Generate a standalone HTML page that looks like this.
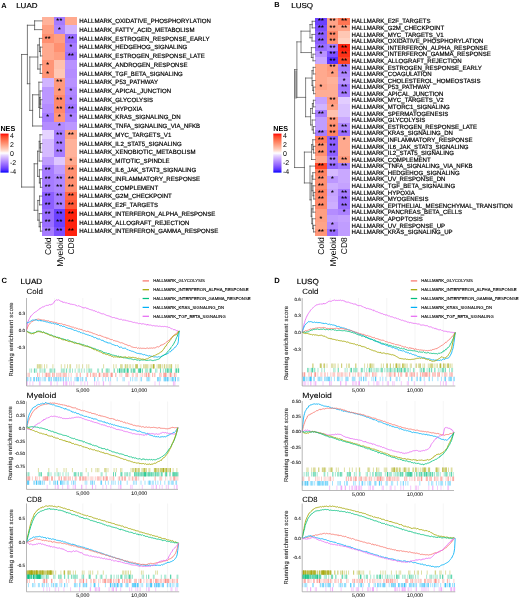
<!DOCTYPE html>
<html lang="en"><head><meta charset="utf-8"><title>GSEA hallmark heatmaps LUAD LUSQ</title>
<style>html,body{margin:0;padding:0;background:#fff}svg{display:block}</style></head>
<body><svg width="520" height="599" viewBox="0 0 520 599" text-rendering="geometricPrecision">
<rect width="520" height="599" fill="#fff"/>
<g shape-rendering="crispEdges">
<rect x="42.00" y="16.50" width="11.93" height="9.06" fill="#ffb29a"/>
<rect x="53.63" y="16.50" width="11.93" height="9.06" fill="#a67cff"/>
<rect x="65.27" y="16.50" width="11.93" height="9.06" fill="#ffa98e"/>
<rect x="42.00" y="25.26" width="11.93" height="9.06" fill="#ff9f82"/>
<rect x="53.63" y="25.26" width="11.93" height="9.06" fill="#af87ff"/>
<rect x="65.27" y="25.26" width="11.93" height="9.06" fill="#d1b4ff"/>
<rect x="42.00" y="34.02" width="11.93" height="9.06" fill="#ff9071"/>
<rect x="53.63" y="34.02" width="11.93" height="9.06" fill="#ff9f82"/>
<rect x="65.27" y="34.02" width="11.93" height="9.06" fill="#996dff"/>
<rect x="42.00" y="42.78" width="11.93" height="9.06" fill="#ffa98e"/>
<rect x="53.63" y="42.78" width="11.93" height="9.06" fill="#ff9071"/>
<rect x="65.27" y="42.78" width="11.93" height="9.06" fill="#a67cff"/>
<rect x="42.00" y="51.54" width="11.93" height="9.06" fill="#ffa98e"/>
<rect x="53.63" y="51.54" width="11.93" height="9.06" fill="#ff9f82"/>
<rect x="65.27" y="51.54" width="11.93" height="9.06" fill="#996dff"/>
<rect x="42.00" y="60.30" width="11.93" height="9.06" fill="#ff9577"/>
<rect x="53.63" y="60.30" width="11.93" height="9.06" fill="#ffc1ad"/>
<rect x="65.27" y="60.30" width="11.93" height="9.06" fill="#b892ff"/>
<rect x="42.00" y="69.06" width="11.93" height="9.06" fill="#ff9577"/>
<rect x="53.63" y="69.06" width="11.93" height="9.06" fill="#ffc7b4"/>
<rect x="65.27" y="69.06" width="11.93" height="9.06" fill="#b48cff"/>
<rect x="42.00" y="77.82" width="11.93" height="9.06" fill="#d1b4ff"/>
<rect x="53.63" y="77.82" width="11.93" height="9.06" fill="#ff9a7d"/>
<rect x="65.27" y="77.82" width="11.93" height="9.06" fill="#b892ff"/>
<rect x="42.00" y="86.58" width="11.93" height="9.06" fill="#bc97ff"/>
<rect x="53.63" y="86.58" width="11.93" height="9.06" fill="#ff9a7d"/>
<rect x="65.27" y="86.58" width="11.93" height="9.06" fill="#af87ff"/>
<rect x="42.00" y="95.34" width="11.93" height="9.06" fill="#bc97ff"/>
<rect x="53.63" y="95.34" width="11.93" height="9.06" fill="#ff896a"/>
<rect x="65.27" y="95.34" width="11.93" height="9.06" fill="#ab81ff"/>
<rect x="42.00" y="104.10" width="11.93" height="9.06" fill="#b48cff"/>
<rect x="53.63" y="104.10" width="11.93" height="9.06" fill="#ff896a"/>
<rect x="65.27" y="104.10" width="11.93" height="9.06" fill="#a075ff"/>
<rect x="42.00" y="112.86" width="11.93" height="9.06" fill="#a67cff"/>
<rect x="53.63" y="112.86" width="11.93" height="9.06" fill="#ff9577"/>
<rect x="65.27" y="112.86" width="11.93" height="9.06" fill="#ab81ff"/>
<rect x="42.00" y="121.62" width="11.93" height="9.06" fill="#b48cff"/>
<rect x="53.63" y="121.62" width="11.93" height="9.06" fill="#b48cff"/>
<rect x="65.27" y="121.62" width="11.93" height="9.06" fill="#bc97ff"/>
<rect x="42.00" y="130.38" width="11.93" height="9.06" fill="#e6d4ff"/>
<rect x="53.63" y="130.38" width="11.93" height="9.06" fill="#a67cff"/>
<rect x="65.27" y="130.38" width="11.93" height="9.06" fill="#ff9f82"/>
<rect x="42.00" y="139.14" width="11.93" height="9.06" fill="#d5baff"/>
<rect x="53.63" y="139.14" width="11.93" height="9.06" fill="#a67cff"/>
<rect x="65.27" y="139.14" width="11.93" height="9.06" fill="#ffb29a"/>
<rect x="42.00" y="147.90" width="11.93" height="9.06" fill="#d5baff"/>
<rect x="53.63" y="147.90" width="11.93" height="9.06" fill="#a67cff"/>
<rect x="65.27" y="147.90" width="11.93" height="9.06" fill="#ffb29a"/>
<rect x="42.00" y="156.66" width="11.93" height="9.06" fill="#c09dff"/>
<rect x="53.63" y="156.66" width="11.93" height="9.06" fill="#dec7ff"/>
<rect x="65.27" y="156.66" width="11.93" height="9.06" fill="#ffa98e"/>
<rect x="42.00" y="165.42" width="11.93" height="9.06" fill="#a67cff"/>
<rect x="53.63" y="165.42" width="11.93" height="9.06" fill="#c09dff"/>
<rect x="65.27" y="165.42" width="11.93" height="9.06" fill="#ff9071"/>
<rect x="42.00" y="174.18" width="11.93" height="9.06" fill="#a67cff"/>
<rect x="53.63" y="174.18" width="11.93" height="9.06" fill="#af87ff"/>
<rect x="65.27" y="174.18" width="11.93" height="9.06" fill="#ff9071"/>
<rect x="42.00" y="182.94" width="11.93" height="9.06" fill="#a67cff"/>
<rect x="53.63" y="182.94" width="11.93" height="9.06" fill="#af87ff"/>
<rect x="65.27" y="182.94" width="11.93" height="9.06" fill="#ff9071"/>
<rect x="42.00" y="191.70" width="11.93" height="9.06" fill="#8c5fff"/>
<rect x="53.63" y="191.70" width="11.93" height="9.06" fill="#a67cff"/>
<rect x="65.27" y="191.70" width="11.93" height="9.06" fill="#ff6645"/>
<rect x="42.00" y="200.46" width="11.93" height="9.06" fill="#8c5fff"/>
<rect x="53.63" y="200.46" width="11.93" height="9.06" fill="#a67cff"/>
<rect x="65.27" y="200.46" width="11.93" height="9.06" fill="#ff5737"/>
<rect x="42.00" y="209.22" width="11.93" height="9.06" fill="#996dff"/>
<rect x="53.63" y="209.22" width="11.93" height="9.06" fill="#6c42ff"/>
<rect x="65.27" y="209.22" width="11.93" height="9.06" fill="#ff230f"/>
<rect x="42.00" y="217.98" width="11.93" height="9.06" fill="#996dff"/>
<rect x="53.63" y="217.98" width="11.93" height="9.06" fill="#6c42ff"/>
<rect x="65.27" y="217.98" width="11.93" height="9.06" fill="#ff230f"/>
<rect x="42.00" y="226.74" width="11.93" height="9.06" fill="#a67cff"/>
<rect x="53.63" y="226.74" width="11.93" height="9.06" fill="#7d50ff"/>
<rect x="65.27" y="226.74" width="11.93" height="9.06" fill="#ff230f"/>
</g>
<g font-family='"Liberation Sans", sans-serif' font-weight="bold" font-size="7.0" text-anchor="middle" fill="#000" letter-spacing="0.35">
<text x="59.45" y="22.98">**</text>
<text x="59.45" y="31.74">*</text>
<text x="47.82" y="40.50">**</text>
<text x="71.08" y="40.50">**</text>
<text x="71.08" y="49.26">*</text>
<text x="71.08" y="58.02">**</text>
<text x="47.82" y="66.78">*</text>
<text x="47.82" y="75.54">*</text>
<text x="59.45" y="84.30">**</text>
<text x="59.45" y="93.06">*</text>
<text x="71.08" y="93.06">*</text>
<text x="59.45" y="101.82">**</text>
<text x="71.08" y="101.82">*</text>
<text x="59.45" y="110.58">**</text>
<text x="71.08" y="110.58">**</text>
<text x="47.82" y="119.34">*</text>
<text x="59.45" y="119.34">*</text>
<text x="71.08" y="119.34">*</text>
<text x="59.45" y="128.10">*</text>
<text x="59.45" y="136.86">**</text>
<text x="71.08" y="136.86">**</text>
<text x="59.45" y="145.62">**</text>
<text x="59.45" y="154.38">**</text>
<text x="71.08" y="163.14">*</text>
<text x="47.82" y="171.90">**</text>
<text x="71.08" y="171.90">**</text>
<text x="47.82" y="180.66">**</text>
<text x="59.45" y="180.66">**</text>
<text x="71.08" y="180.66">**</text>
<text x="47.82" y="189.42">**</text>
<text x="59.45" y="189.42">**</text>
<text x="71.08" y="189.42">**</text>
<text x="47.82" y="198.18">**</text>
<text x="59.45" y="198.18">**</text>
<text x="71.08" y="198.18">**</text>
<text x="47.82" y="206.94">**</text>
<text x="59.45" y="206.94">**</text>
<text x="71.08" y="206.94">**</text>
<text x="47.82" y="215.70">**</text>
<text x="59.45" y="215.70">**</text>
<text x="71.08" y="215.70">**</text>
<text x="47.82" y="224.46">**</text>
<text x="59.45" y="224.46">**</text>
<text x="71.08" y="224.46">**</text>
<text x="47.82" y="233.22">**</text>
<text x="59.45" y="233.22">**</text>
<text x="71.08" y="233.22">**</text>
</g>
<g font-family='"Liberation Sans", sans-serif' font-size="6.09" fill="#000" stroke="#000" stroke-width="0.18">
<text x="79.2" y="23.07">HALLMARK_OXIDATIVE_PHOSPHORYLATION</text>
<text x="79.2" y="31.83">HALLMARK_FATTY_ACID_METABOLISM</text>
<text x="79.2" y="40.59">HALLMARK_ESTROGEN_RESPONSE_EARLY</text>
<text x="79.2" y="49.35">HALLMARK_HEDGEHOG_SIGNALING</text>
<text x="79.2" y="58.11">HALLMARK_ESTROGEN_RESPONSE_LATE</text>
<text x="79.2" y="66.87">HALLMARK_ANDROGEN_RESPONSE</text>
<text x="79.2" y="75.63">HALLMARK_TGF_BETA_SIGNALING</text>
<text x="79.2" y="84.39">HALLMARK_P53_PATHWAY</text>
<text x="79.2" y="93.15">HALLMARK_APICAL_JUNCTION</text>
<text x="79.2" y="101.91">HALLMARK_GLYCOLYSIS</text>
<text x="79.2" y="110.67">HALLMARK_HYPOXIA</text>
<text x="79.2" y="119.43">HALLMARK_KRAS_SIGNALING_DN</text>
<text x="79.2" y="128.19">HALLMARK_TNFA_SIGNALING_VIA_NFKB</text>
<text x="79.2" y="136.95">HALLMARK_MYC_TARGETS_V1</text>
<text x="79.2" y="145.71">HALLMARK_IL2_STAT5_SIGNALING</text>
<text x="79.2" y="154.47">HALLMARK_XENOBIOTIC_METABOLISM</text>
<text x="79.2" y="163.23">HALLMARK_MITOTIC_SPINDLE</text>
<text x="79.2" y="171.99">HALLMARK_IL6_JAK_STAT3_SIGNALING</text>
<text x="79.2" y="180.75">HALLMARK_INFLAMMATORY_RESPONSE</text>
<text x="79.2" y="189.51">HALLMARK_COMPLEMENT</text>
<text x="79.2" y="198.27">HALLMARK_G2M_CHECKPOINT</text>
<text x="79.2" y="207.03">HALLMARK_E2F_TARGETS</text>
<text x="79.2" y="215.79">HALLMARK_INTERFERON_ALPHA_RESPONSE</text>
<text x="79.2" y="224.55">HALLMARK_ALLOGRAFT_REJECTION</text>
<text x="79.2" y="233.31">HALLMARK_INTERFERON_GAMMA_RESPONSE</text>
</g>
<g font-family='"Liberation Sans", sans-serif' font-size="8.5" fill="#000" text-anchor="end">
<text transform="translate(50.88,237.50) rotate(-90)">Cold</text>
<text transform="translate(62.51,237.50) rotate(-90)">Myeloid</text>
<text transform="translate(74.14,237.50) rotate(-90)">CD8</text>
</g>
<g shape-rendering="crispEdges">
<rect x="315.20" y="18.00" width="11.93" height="6.88" fill="#6c42ff"/>
<rect x="326.83" y="18.00" width="11.93" height="6.88" fill="#ffa488"/>
<rect x="338.47" y="18.00" width="11.93" height="6.88" fill="#ff7553"/>
<rect x="315.20" y="24.58" width="11.93" height="6.88" fill="#7d50ff"/>
<rect x="326.83" y="24.58" width="11.93" height="6.88" fill="#ff9f82"/>
<rect x="338.47" y="24.58" width="11.93" height="6.88" fill="#ffa488"/>
<rect x="315.20" y="31.16" width="11.93" height="6.88" fill="#8c5fff"/>
<rect x="326.83" y="31.16" width="11.93" height="6.88" fill="#ff896a"/>
<rect x="338.47" y="31.16" width="11.93" height="6.88" fill="#ffc7b4"/>
<rect x="315.20" y="37.75" width="11.93" height="6.88" fill="#8c5fff"/>
<rect x="326.83" y="37.75" width="11.93" height="6.88" fill="#ff9071"/>
<rect x="338.47" y="37.75" width="11.93" height="6.88" fill="#ffd1c1"/>
<rect x="315.20" y="44.33" width="11.93" height="6.88" fill="#996dff"/>
<rect x="326.83" y="44.33" width="11.93" height="6.88" fill="#a67cff"/>
<rect x="338.47" y="44.33" width="11.93" height="6.88" fill="#ff230f"/>
<rect x="315.20" y="50.91" width="11.93" height="6.88" fill="#b892ff"/>
<rect x="326.83" y="50.91" width="11.93" height="6.88" fill="#7d50ff"/>
<rect x="338.47" y="50.91" width="11.93" height="6.88" fill="#ff3118"/>
<rect x="315.20" y="57.49" width="11.93" height="6.88" fill="#c9a8ff"/>
<rect x="326.83" y="57.49" width="11.93" height="6.88" fill="#5932ff"/>
<rect x="338.47" y="57.49" width="11.93" height="6.88" fill="#ff4628"/>
<rect x="315.20" y="64.07" width="11.93" height="6.88" fill="#ffa98e"/>
<rect x="326.83" y="64.07" width="11.93" height="6.88" fill="#ff9a7d"/>
<rect x="338.47" y="64.07" width="11.93" height="6.88" fill="#a67cff"/>
<rect x="315.20" y="70.65" width="11.93" height="6.88" fill="#ffa98e"/>
<rect x="326.83" y="70.65" width="11.93" height="6.88" fill="#ff9f82"/>
<rect x="338.47" y="70.65" width="11.93" height="6.88" fill="#af87ff"/>
<rect x="315.20" y="77.24" width="11.93" height="6.88" fill="#ffa98e"/>
<rect x="326.83" y="77.24" width="11.93" height="6.88" fill="#ffb29a"/>
<rect x="338.47" y="77.24" width="11.93" height="6.88" fill="#b892ff"/>
<rect x="315.20" y="83.82" width="11.93" height="6.88" fill="#ffa488"/>
<rect x="326.83" y="83.82" width="11.93" height="6.88" fill="#ffad94"/>
<rect x="338.47" y="83.82" width="11.93" height="6.88" fill="#a075ff"/>
<rect x="315.20" y="90.40" width="11.93" height="6.88" fill="#ffad94"/>
<rect x="326.83" y="90.40" width="11.93" height="6.88" fill="#ffad94"/>
<rect x="338.47" y="90.40" width="11.93" height="6.88" fill="#a67cff"/>
<rect x="315.20" y="96.98" width="11.93" height="6.88" fill="#c5a2ff"/>
<rect x="326.83" y="96.98" width="11.93" height="6.88" fill="#ff9a7d"/>
<rect x="338.47" y="96.98" width="11.93" height="6.88" fill="#e2cdff"/>
<rect x="315.20" y="103.56" width="11.93" height="6.88" fill="#d1b4ff"/>
<rect x="326.83" y="103.56" width="11.93" height="6.88" fill="#ffa488"/>
<rect x="338.47" y="103.56" width="11.93" height="6.88" fill="#d9c1ff"/>
<rect x="315.20" y="110.15" width="11.93" height="6.88" fill="#a67cff"/>
<rect x="326.83" y="110.15" width="11.93" height="6.88" fill="#ffc1ad"/>
<rect x="338.47" y="110.15" width="11.93" height="6.88" fill="#d9c1ff"/>
<rect x="315.20" y="116.73" width="11.93" height="6.88" fill="#c09dff"/>
<rect x="326.83" y="116.73" width="11.93" height="6.88" fill="#ff9577"/>
<rect x="338.47" y="116.73" width="11.93" height="6.88" fill="#c9a8ff"/>
<rect x="315.20" y="123.31" width="11.93" height="6.88" fill="#c09dff"/>
<rect x="326.83" y="123.31" width="11.93" height="6.88" fill="#ff9071"/>
<rect x="338.47" y="123.31" width="11.93" height="6.88" fill="#af87ff"/>
<rect x="315.20" y="129.89" width="11.93" height="6.88" fill="#a67cff"/>
<rect x="326.83" y="129.89" width="11.93" height="6.88" fill="#ff8362"/>
<rect x="338.47" y="129.89" width="11.93" height="6.88" fill="#996dff"/>
<rect x="315.20" y="136.47" width="11.93" height="6.88" fill="#ff7c5b"/>
<rect x="326.83" y="136.47" width="11.93" height="6.88" fill="#8c5fff"/>
<rect x="338.47" y="136.47" width="11.93" height="6.88" fill="#ffa98e"/>
<rect x="315.20" y="143.05" width="11.93" height="6.88" fill="#ff9071"/>
<rect x="326.83" y="143.05" width="11.93" height="6.88" fill="#8c5fff"/>
<rect x="338.47" y="143.05" width="11.93" height="6.88" fill="#ffa98e"/>
<rect x="315.20" y="149.64" width="11.93" height="6.88" fill="#ff9071"/>
<rect x="326.83" y="149.64" width="11.93" height="6.88" fill="#8c5fff"/>
<rect x="338.47" y="149.64" width="11.93" height="6.88" fill="#ffa98e"/>
<rect x="315.20" y="156.22" width="11.93" height="6.88" fill="#ffa98e"/>
<rect x="326.83" y="156.22" width="11.93" height="6.88" fill="#a67cff"/>
<rect x="338.47" y="156.22" width="11.93" height="6.88" fill="#ff9a7d"/>
<rect x="315.20" y="162.80" width="11.93" height="6.88" fill="#ff4628"/>
<rect x="326.83" y="162.80" width="11.93" height="6.88" fill="#9366ff"/>
<rect x="338.47" y="162.80" width="11.93" height="6.88" fill="#a67cff"/>
<rect x="315.20" y="169.38" width="11.93" height="6.88" fill="#ff8362"/>
<rect x="326.83" y="169.38" width="11.93" height="6.88" fill="#d5baff"/>
<rect x="338.47" y="169.38" width="11.93" height="6.88" fill="#c9a8ff"/>
<rect x="315.20" y="175.96" width="11.93" height="6.88" fill="#ff9071"/>
<rect x="326.83" y="175.96" width="11.93" height="6.88" fill="#bc97ff"/>
<rect x="338.47" y="175.96" width="11.93" height="6.88" fill="#c9a8ff"/>
<rect x="315.20" y="182.55" width="11.93" height="6.88" fill="#ff9071"/>
<rect x="326.83" y="182.55" width="11.93" height="6.88" fill="#cdaeff"/>
<rect x="338.47" y="182.55" width="11.93" height="6.88" fill="#c5a2ff"/>
<rect x="315.20" y="189.13" width="11.93" height="6.88" fill="#ff8362"/>
<rect x="326.83" y="189.13" width="11.93" height="6.88" fill="#c5a2ff"/>
<rect x="338.47" y="189.13" width="11.93" height="6.88" fill="#a67cff"/>
<rect x="315.20" y="195.71" width="11.93" height="6.88" fill="#ff896a"/>
<rect x="326.83" y="195.71" width="11.93" height="6.88" fill="#c9a8ff"/>
<rect x="338.47" y="195.71" width="11.93" height="6.88" fill="#996dff"/>
<rect x="315.20" y="202.29" width="11.93" height="6.88" fill="#ff896a"/>
<rect x="326.83" y="202.29" width="11.93" height="6.88" fill="#cdaeff"/>
<rect x="338.47" y="202.29" width="11.93" height="6.88" fill="#996dff"/>
<rect x="315.20" y="208.87" width="11.93" height="6.88" fill="#ff9f82"/>
<rect x="326.83" y="208.87" width="11.93" height="6.88" fill="#b48cff"/>
<rect x="338.47" y="208.87" width="11.93" height="6.88" fill="#ab81ff"/>
<rect x="315.20" y="215.45" width="11.93" height="6.88" fill="#ff9f82"/>
<rect x="326.83" y="215.45" width="11.93" height="6.88" fill="#c09dff"/>
<rect x="338.47" y="215.45" width="11.93" height="6.88" fill="#c5a2ff"/>
<rect x="315.20" y="222.04" width="11.93" height="6.88" fill="#ffa488"/>
<rect x="326.83" y="222.04" width="11.93" height="6.88" fill="#b48cff"/>
<rect x="338.47" y="222.04" width="11.93" height="6.88" fill="#c09dff"/>
<rect x="315.20" y="228.62" width="11.93" height="6.88" fill="#ff9577"/>
<rect x="326.83" y="228.62" width="11.93" height="6.88" fill="#996dff"/>
<rect x="338.47" y="228.62" width="11.93" height="6.88" fill="#c09dff"/>
</g>
<g font-family='"Liberation Sans", sans-serif' font-weight="bold" font-size="7.0" text-anchor="middle" fill="#000" letter-spacing="0.35">
<text x="321.02" y="23.39">**</text>
<text x="332.65" y="23.39">**</text>
<text x="344.28" y="23.39">**</text>
<text x="321.02" y="29.97">**</text>
<text x="332.65" y="29.97">**</text>
<text x="344.28" y="29.97">**</text>
<text x="321.02" y="36.55">**</text>
<text x="332.65" y="36.55">**</text>
<text x="321.02" y="43.14">**</text>
<text x="332.65" y="43.14">**</text>
<text x="321.02" y="49.72">**</text>
<text x="332.65" y="49.72">**</text>
<text x="344.28" y="49.72">**</text>
<text x="321.02" y="56.30">*</text>
<text x="332.65" y="56.30">**</text>
<text x="344.28" y="56.30">**</text>
<text x="332.65" y="62.88">**</text>
<text x="344.28" y="62.88">**</text>
<text x="332.65" y="69.46">**</text>
<text x="344.28" y="69.46">**</text>
<text x="332.65" y="76.05">*</text>
<text x="344.28" y="76.05">**</text>
<text x="344.28" y="82.63">*</text>
<text x="321.02" y="89.21">*</text>
<text x="344.28" y="89.21">**</text>
<text x="344.28" y="95.79">**</text>
<text x="332.65" y="102.37">**</text>
<text x="332.65" y="108.95">*</text>
<text x="321.02" y="115.54">**</text>
<text x="332.65" y="122.12">**</text>
<text x="332.65" y="128.70">**</text>
<text x="344.28" y="128.70">**</text>
<text x="321.02" y="135.28">**</text>
<text x="332.65" y="135.28">**</text>
<text x="344.28" y="135.28">**</text>
<text x="321.02" y="141.86">**</text>
<text x="332.65" y="141.86">**</text>
<text x="344.28" y="141.86">*</text>
<text x="321.02" y="148.45">**</text>
<text x="332.65" y="148.45">**</text>
<text x="321.02" y="155.03">**</text>
<text x="332.65" y="155.03">**</text>
<text x="332.65" y="161.61">**</text>
<text x="344.28" y="161.61">**</text>
<text x="321.02" y="168.19">**</text>
<text x="332.65" y="168.19">**</text>
<text x="344.28" y="168.19">**</text>
<text x="321.02" y="174.77">**</text>
<text x="321.02" y="181.35">**</text>
<text x="332.65" y="181.35">*</text>
<text x="321.02" y="187.94">**</text>
<text x="321.02" y="194.52">**</text>
<text x="332.65" y="194.52">*</text>
<text x="344.28" y="194.52">**</text>
<text x="321.02" y="201.10">**</text>
<text x="344.28" y="201.10">**</text>
<text x="321.02" y="207.68">**</text>
<text x="344.28" y="207.68">**</text>
<text x="344.28" y="214.26">*</text>
<text x="321.02" y="220.85">*</text>
<text x="332.65" y="227.43">*</text>
<text x="321.02" y="234.01">**</text>
<text x="332.65" y="234.01">**</text>
</g>
<g font-family='"Liberation Sans", sans-serif' font-size="6.09" fill="#000" stroke="#000" stroke-width="0.18">
<text x="351.6" y="23.48">HALLMARK_E2F_TARGETS</text>
<text x="351.6" y="30.07">HALLMARK_G2M_CHECKPOINT</text>
<text x="351.6" y="36.65">HALLMARK_MYC_TARGETS_V1</text>
<text x="351.6" y="43.23">HALLMARK_OXIDATIVE_PHOSPHORYLATION</text>
<text x="351.6" y="49.81">HALLMARK_INTERFERON_ALPHA_RESPONSE</text>
<text x="351.6" y="56.39">HALLMARK_INTERFERON_GAMMA_RESPONSE</text>
<text x="351.6" y="62.97">HALLMARK_ALLOGRAFT_REJECTION</text>
<text x="351.6" y="69.56">HALLMARK_ESTROGEN_RESPONSE_EARLY</text>
<text x="351.6" y="76.14">HALLMARK_COAGULATION</text>
<text x="351.6" y="82.72">HALLMARK_CHOLESTEROL_HOMEOSTASIS</text>
<text x="351.6" y="89.30">HALLMARK_P53_PATHWAY</text>
<text x="351.6" y="95.88">HALLMARK_APICAL_JUNCTION</text>
<text x="351.6" y="102.47">HALLMARK_MYC_TARGETS_V2</text>
<text x="351.6" y="109.05">HALLMARK_MTORC1_SIGNALING</text>
<text x="351.6" y="115.63">HALLMARK_SPERMATOGENESIS</text>
<text x="351.6" y="122.21">HALLMARK_GLYCOLYSIS</text>
<text x="351.6" y="128.79">HALLMARK_ESTROGEN_RESPONSE_LATE</text>
<text x="351.6" y="135.37">HALLMARK_KRAS_SIGNALING_DN</text>
<text x="351.6" y="141.96">HALLMARK_INFLAMMATORY_RESPONSE</text>
<text x="351.6" y="148.54">HALLMARK_IL6_JAK_STAT3_SIGNALING</text>
<text x="351.6" y="155.12">HALLMARK_IL2_STAT5_SIGNALING</text>
<text x="351.6" y="161.70">HALLMARK_COMPLEMENT</text>
<text x="351.6" y="168.28">HALLMARK_TNFA_SIGNALING_VIA_NFKB</text>
<text x="351.6" y="174.87">HALLMARK_HEDGEHOG_SIGNALING</text>
<text x="351.6" y="181.45">HALLMARK_UV_RESPONSE_DN</text>
<text x="351.6" y="188.03">HALLMARK_TGF_BETA_SIGNALING</text>
<text x="351.6" y="194.61">HALLMARK_HYPOXIA</text>
<text x="351.6" y="201.19">HALLMARK_MYOGENESIS</text>
<text x="351.6" y="207.77">HALLMARK_EPITHELIAL_MESENCHYMAL_TRANSITION</text>
<text x="351.6" y="214.36">HALLMARK_PANCREAS_BETA_CELLS</text>
<text x="351.6" y="220.94">HALLMARK_APOPTOSIS</text>
<text x="351.6" y="227.52">HALLMARK_UV_RESPONSE_UP</text>
<text x="351.6" y="234.10">HALLMARK_KRAS_SIGNALING_UP</text>
</g>
<g font-family='"Liberation Sans", sans-serif' font-size="8.5" fill="#000" text-anchor="end">
<text transform="translate(324.08,237.20) rotate(-90)">Cold</text>
<text transform="translate(335.71,237.20) rotate(-90)">Myeloid</text>
<text transform="translate(347.34,237.20) rotate(-90)">CD8</text>
</g>
<path d="M34.60 20.88L42.00 20.88M34.60 29.64L42.00 29.64M34.60 20.88L34.60 29.64M40.40 47.16L42.00 47.16M40.40 55.92L42.00 55.92M40.40 47.16L40.40 55.92M39.40 38.40L42.00 38.40M39.40 51.54L40.40 51.54M39.40 38.40L39.40 51.54M40.20 64.68L42.00 64.68M40.20 73.44L42.00 73.44M40.20 64.68L40.20 73.44M37.80 44.97L39.40 44.97M37.80 69.06L40.20 69.06M37.80 44.97L37.80 69.06M40.70 99.72L42.00 99.72M40.70 108.48L42.00 108.48M40.70 99.72L40.70 108.48M40.10 90.96L42.00 90.96M40.10 104.10L40.70 104.10M40.10 90.96L40.10 104.10M39.60 97.53L40.10 97.53M39.60 117.24L42.00 117.24M39.60 97.53L39.60 117.24M38.90 82.20L42.00 82.20M38.90 107.38L39.60 107.38M38.90 82.20L38.90 107.38M32.60 94.79L38.90 94.79M32.60 126.00L42.00 126.00M32.60 94.79L32.60 126.00M29.80 57.02L37.80 57.02M29.80 110.40L32.60 110.40M29.80 57.02L29.80 110.40M27.40 25.26L34.60 25.26M27.40 83.71L29.80 83.71M27.40 25.26L27.40 83.71M40.60 143.52L42.00 143.52M40.60 152.28L42.00 152.28M40.60 143.52L40.60 152.28M40.00 134.76L42.00 134.76M40.00 147.90L40.60 147.90M40.00 134.76L40.00 147.90M39.20 141.33L40.00 141.33M39.20 161.04L42.00 161.04M39.20 141.33L39.20 161.04M40.40 178.56L42.00 178.56M40.40 187.32L42.00 187.32M40.40 178.56L40.40 187.32M39.40 169.80L42.00 169.80M39.40 182.94L40.40 182.94M39.40 169.80L39.40 182.94M37.60 151.19L39.20 151.19M37.60 176.37L39.40 176.37M37.60 151.19L37.60 176.37M39.60 196.08L42.00 196.08M39.60 204.84L42.00 204.84M39.60 196.08L39.60 204.84M40.40 222.36L42.00 222.36M40.40 231.12L42.00 231.12M40.40 222.36L40.40 231.12M39.20 213.60L42.00 213.60M39.20 226.74L40.40 226.74M39.20 213.60L39.20 226.74M37.80 200.46L39.60 200.46M37.80 220.17L39.20 220.17M37.80 200.46L37.80 220.17M34.20 163.78L37.60 163.78M34.20 210.31L37.80 210.31M34.20 163.78L34.20 210.31M21.60 54.48L27.40 54.48M21.60 187.05L34.20 187.05M21.60 54.48L21.60 187.05" stroke="#444" stroke-width="0.7" fill="none" stroke-linecap="square"/>
<rect x="294.4" y="70.6" width="2.7" height="28" fill="#b0b0b0"/>
<path d="M312.20 21.29L315.20 21.29M312.20 27.87L315.20 27.87M312.20 21.29L312.20 27.87M312.00 34.45L315.20 34.45M312.00 41.04L315.20 41.04M312.00 34.45L312.00 41.04M310.00 24.58L312.20 24.58M310.00 37.75L312.00 37.75M310.00 24.58L310.00 37.75M313.00 54.20L315.20 54.20M313.00 60.78L315.20 60.78M313.00 54.20L313.00 60.78M311.40 47.62L315.20 47.62M311.40 57.49L313.00 57.49M311.40 47.62L311.40 57.49M301.00 31.16L310.00 31.16M301.00 52.55L311.40 52.55M301.00 31.16L301.00 52.55M313.20 67.36L315.20 67.36M313.20 73.95L315.20 73.95M313.20 67.36L313.20 73.95M313.60 87.11L315.20 87.11M313.60 93.69L315.20 93.69M313.60 87.11L313.60 93.69M312.80 80.53L315.20 80.53M312.80 90.40L313.60 90.40M312.80 80.53L312.80 90.40M312.00 70.65L313.20 70.65M312.00 85.46L312.80 85.46M312.00 70.65L312.00 85.46M313.40 100.27L315.20 100.27M313.40 106.85L315.20 106.85M313.40 100.27L313.40 106.85M312.40 103.56L313.40 103.56M312.40 113.44L315.20 113.44M312.40 103.56L312.40 113.44M313.40 126.60L315.20 126.60M313.40 133.18L315.20 133.18M313.40 126.60L313.40 133.18M312.20 120.02L315.20 120.02M312.20 129.89L313.40 129.89M312.20 120.02L312.20 129.89M310.60 108.50L312.40 108.50M310.60 124.95L312.20 124.95M310.60 108.50L310.60 124.95M305.60 78.06L312.00 78.06M305.60 116.73L310.60 116.73M305.60 78.06L305.60 116.73M296.90 41.86L301.00 41.86M296.90 97.39L305.60 97.39M296.90 41.86L296.90 97.39M313.60 146.35L315.20 146.35M313.60 152.93L315.20 152.93M313.60 146.35L313.60 152.93M312.80 139.76L315.20 139.76M312.80 149.64L313.60 149.64M312.80 139.76L312.80 149.64M311.60 144.70L312.80 144.70M311.60 159.51L315.20 159.51M311.60 144.70L311.60 159.51M312.80 172.67L315.20 172.67M312.80 179.25L315.20 179.25M312.80 172.67L312.80 179.25M313.80 192.42L315.20 192.42M313.80 199.00L315.20 199.00M313.80 192.42L313.80 199.00M313.00 185.84L315.20 185.84M313.00 195.71L313.80 195.71M313.00 185.84L313.00 195.71M312.00 175.96L312.80 175.96M312.00 190.77L313.00 190.77M312.00 175.96L312.00 190.77M313.00 205.58L315.20 205.58M313.00 212.16L315.20 212.16M313.00 205.58L313.00 212.16M313.60 225.33L315.20 225.33M313.60 231.91L315.20 231.91M313.60 225.33L313.60 231.91M312.60 218.75L315.20 218.75M312.60 228.62L313.60 228.62M312.60 218.75L312.60 228.62M311.80 208.87L313.00 208.87M311.80 223.68L312.60 223.68M311.80 208.87L311.80 223.68M311.20 183.37L312.00 183.37M311.20 216.28L311.80 216.28M311.20 183.37L311.20 216.28M310.00 166.09L315.20 166.09M310.00 199.82L311.20 199.82M310.00 166.09L310.00 199.82M304.40 152.10L311.60 152.10M304.40 182.96L310.00 182.96M304.40 152.10L304.40 182.96M294.60 69.63L296.90 69.63M294.60 167.53L304.40 167.53M294.60 69.63L294.60 167.53" stroke="#444" stroke-width="0.65" fill="none" stroke-linecap="square"/>
<defs><linearGradient id="g0" x1="0" y1="0" x2="0" y2="1"><stop offset="0.0000" stop-color="#ff0000"/><stop offset="0.0625" stop-color="#ff3f23"/><stop offset="0.1250" stop-color="#ff5e3d"/><stop offset="0.1875" stop-color="#ff7857"/><stop offset="0.2500" stop-color="#ff9071"/><stop offset="0.3125" stop-color="#ffa98e"/><stop offset="0.3750" stop-color="#ffc1ad"/><stop offset="0.4375" stop-color="#ffdcd0"/><stop offset="0.5000" stop-color="#ffffff"/><stop offset="0.5625" stop-color="#e6d4ff"/><stop offset="0.6250" stop-color="#d1b4ff"/><stop offset="0.6875" stop-color="#bc97ff"/><stop offset="0.7500" stop-color="#a67cff"/><stop offset="0.8125" stop-color="#8f62ff"/><stop offset="0.8750" stop-color="#7448ff"/><stop offset="0.9375" stop-color="#512cff"/><stop offset="1.0000" stop-color="#0000ff"/></linearGradient></defs>
<rect x="0.4" y="133.6" width="8.2" height="39.0" fill="url(#g0)"/>
<text x="0.4" y="131.4" font-family='"Liberation Sans", sans-serif' font-weight="bold" font-size="7.2" fill="#000">NES</text>
<g font-family='"Liberation Sans", sans-serif' font-size="7" fill="#000">
<text x="10.0" y="137.90">4</text>
<text x="10.0" y="147.00">2</text>
<text x="10.0" y="156.10">0</text>
<text x="10.0" y="165.20">-2</text>
<text x="10.0" y="174.30">-4</text>
</g>
<defs><linearGradient id="g273" x1="0" y1="0" x2="0" y2="1"><stop offset="0.0000" stop-color="#ff0000"/><stop offset="0.0625" stop-color="#ff3f23"/><stop offset="0.1250" stop-color="#ff5e3d"/><stop offset="0.1875" stop-color="#ff7857"/><stop offset="0.2500" stop-color="#ff9071"/><stop offset="0.3125" stop-color="#ffa98e"/><stop offset="0.3750" stop-color="#ffc1ad"/><stop offset="0.4375" stop-color="#ffdcd0"/><stop offset="0.5000" stop-color="#ffffff"/><stop offset="0.5625" stop-color="#e6d4ff"/><stop offset="0.6250" stop-color="#d1b4ff"/><stop offset="0.6875" stop-color="#bc97ff"/><stop offset="0.7500" stop-color="#a67cff"/><stop offset="0.8125" stop-color="#8f62ff"/><stop offset="0.8750" stop-color="#7448ff"/><stop offset="0.9375" stop-color="#512cff"/><stop offset="1.0000" stop-color="#0000ff"/></linearGradient></defs>
<rect x="273.3" y="133.6" width="8.2" height="39.0" fill="url(#g273)"/>
<text x="273.3" y="131.4" font-family='"Liberation Sans", sans-serif' font-weight="bold" font-size="7.2" fill="#000">NES</text>
<g font-family='"Liberation Sans", sans-serif' font-size="7" fill="#000">
<text x="283.0" y="137.90">4</text>
<text x="283.0" y="147.00">2</text>
<text x="283.0" y="156.10">0</text>
<text x="283.0" y="165.20">-2</text>
<text x="283.0" y="174.30">-4</text>
</g>
<text x="1.2" y="7.6" font-family='"Liberation Sans", sans-serif' font-size="7.4" font-weight="bold" fill="#000" text-anchor="start">A</text>
<text x="16.2" y="7.6" font-family='"Liberation Sans", sans-serif' font-size="7.2" fill="#000" text-anchor="start" textLength="21.3" lengthAdjust="spacingAndGlyphs" stroke="#000" stroke-width="0.18">LUAD</text>
<text x="274.2" y="7.3" font-family='"Liberation Sans", sans-serif' font-size="7.4" font-weight="bold" fill="#000" text-anchor="start">B</text>
<text x="291.2" y="7.6" font-family='"Liberation Sans", sans-serif' font-size="7.2" fill="#000" text-anchor="start" textLength="21.8" lengthAdjust="spacingAndGlyphs" stroke="#000" stroke-width="0.18">LUSQ</text>
<text x="1.4" y="282.6" font-family='"Liberation Sans", sans-serif' font-size="7.6" font-weight="bold" fill="#000" text-anchor="start">C</text>
<text x="20.6" y="284.3" font-family='"Liberation Sans", sans-serif' font-size="7.7" fill="#000" text-anchor="start" textLength="21.6" lengthAdjust="spacingAndGlyphs" stroke="#000" stroke-width="0.18">LUAD</text>
<text x="274.2" y="283.0" font-family='"Liberation Sans", sans-serif' font-size="7.6" font-weight="bold" fill="#000" text-anchor="start">D</text>
<text x="296.7" y="284.2" font-family='"Liberation Sans", sans-serif' font-size="7.4" fill="#000" text-anchor="start" textLength="22" lengthAdjust="spacingAndGlyphs" stroke="#000" stroke-width="0.18">LUSQ</text>
<path d="M54.55 298V386M82.80 298V386M111.05 298V386M139.30 298V386M167.55 298V386" stroke="#ebebeb" stroke-width="0.5" fill="none"/>
<polyline points="26.5,330.9 27.1,326.4 27.7,322.9 28.3,321.0 28.9,319.6 29.5,318.5 30.1,317.5 30.7,316.0 31.3,315.8 31.9,315.4 32.5,314.4 33.1,313.7 33.7,313.3 34.3,312.6 34.9,312.5 35.5,311.8 36.1,311.8 36.7,311.1 37.3,310.4 37.9,310.3 38.5,309.9 39.1,309.2 39.7,308.8 40.3,308.0 40.9,308.4 41.5,307.7 42.1,307.0 42.7,306.8 43.3,306.9 43.9,306.8 44.5,306.3 45.1,306.2 45.7,305.6 46.3,305.3 46.9,305.6 47.5,305.4 48.1,305.1 48.7,305.3 49.3,304.6 49.9,304.6 50.5,304.8 51.1,304.8 51.7,304.1 52.3,304.3 52.9,303.4 53.5,303.1 54.1,302.2 54.7,301.0 55.3,300.7 55.9,300.3 56.5,299.8 57.1,299.8 57.7,300.3 58.3,299.8 58.9,299.9 59.5,300.4 60.1,300.5 60.7,301.4 61.3,301.4 61.9,301.4 62.5,301.6 63.1,302.7 63.7,302.0 64.3,302.1 64.9,302.6 65.5,302.8 66.1,302.9 66.7,302.8 67.3,302.9 67.9,303.5 68.5,303.5 69.1,303.2 69.7,304.1 70.3,304.2 70.9,304.1 71.5,304.2 72.1,304.5 72.7,304.4 73.3,304.4 73.9,305.0 74.5,304.7 75.1,305.3 75.7,305.0 76.3,305.5 76.9,305.6 77.5,306.3 78.1,305.7 78.7,305.8 79.3,306.1 79.9,306.2 80.5,306.5 81.1,306.9 81.7,307.1 82.3,307.5 82.9,307.1 83.5,308.1 84.1,308.1 84.7,307.7 85.3,307.4 85.9,308.1 86.5,308.3 87.1,307.9 87.7,308.7 88.3,308.8 88.9,308.9 89.5,309.4 90.1,309.7 90.7,309.6 91.3,309.9 91.9,309.9 92.5,310.1 93.1,310.5 93.7,310.8 94.3,310.8 94.9,310.6 95.5,311.5 96.1,311.2 96.7,311.8 97.3,312.4 97.9,312.2 98.5,312.1 99.1,312.3 99.7,313.1 100.3,313.1 100.9,313.4 101.5,313.7 102.1,313.7 102.7,313.9 103.3,313.9 103.9,313.6 104.5,314.2 105.1,314.8 105.7,314.9 106.3,315.3 106.9,315.4 107.5,315.6 108.1,316.0 108.7,315.8 109.3,316.1 109.9,316.0 110.5,316.8 111.1,316.8 111.7,317.1 112.3,317.5 112.9,317.6 113.5,317.5 114.1,317.9 114.7,317.5 115.3,318.2 115.9,318.2 116.5,318.0 117.1,318.9 117.7,318.5 118.3,319.0 118.9,318.9 119.5,319.4 120.1,319.6 120.7,319.2 121.3,319.2 121.9,319.7 122.5,320.1 123.1,319.9 123.7,320.0 124.3,320.4 124.9,319.7 125.5,320.4 126.1,320.3 126.7,320.9 127.3,320.8 127.9,320.8 128.5,321.1 129.1,321.0 129.7,321.5 130.3,321.4 130.9,321.6 131.5,321.7 132.1,322.2 132.7,322.1 133.3,322.4 133.9,322.5 134.5,322.3 135.1,322.7 135.7,322.8 136.3,322.9 136.9,322.9 137.5,323.0 138.1,323.4 138.7,323.8 139.3,323.2 139.9,323.7 140.5,323.5 141.1,323.9 141.7,324.0 142.3,324.2 142.9,323.4 143.5,324.0 144.1,324.0 144.7,324.3 145.3,324.3 145.9,324.4 146.5,324.8 147.1,325.2 147.7,324.1 148.3,324.9 148.9,325.1 149.5,325.1 150.1,325.1 150.7,325.0 151.3,325.2 151.9,325.7 152.5,325.8 153.1,325.7 153.7,325.5 154.3,325.8 154.9,325.8 155.5,326.0 156.1,326.0 156.7,325.9 157.3,326.1 157.9,325.8 158.5,326.4 159.1,326.5 159.7,326.0 160.3,326.4 160.9,326.1 161.5,326.6 162.1,326.6 162.7,326.4 163.3,326.7 163.9,326.4 164.5,326.4 165.1,326.5 165.7,326.6 166.3,326.7 166.9,326.9 167.5,326.8 168.1,327.2 168.7,327.5 169.3,327.4 169.9,327.5 170.5,328.3 171.1,328.8 171.7,328.7 172.3,328.7 172.9,329.3 173.5,329.9 174.1,329.2 174.7,330.0 175.3,330.0 175.9,330.1 176.5,330.6 177.1,330.3 177.7,330.9 178.3,331.3 179.2,331.2" stroke="#E76BF3" stroke-width="0.85" fill="none" stroke-linejoin="round"/>
<polyline points="26.5,329.9 27.1,328.9 27.7,327.1 28.3,325.7 28.9,324.6 29.5,324.2 30.1,323.4 30.7,322.7 31.3,322.2 31.9,321.3 32.5,321.5 33.1,321.0 33.7,320.6 34.3,320.3 34.9,320.2 35.5,319.7 36.1,319.3 36.7,319.7 37.3,319.3 37.9,319.3 38.5,319.1 39.1,319.5 39.7,319.3 40.3,319.5 40.9,319.8 41.5,319.8 42.1,320.1 42.7,320.0 43.3,320.0 43.9,320.1 44.5,320.1 45.1,320.6 45.7,320.5 46.3,320.5 46.9,321.0 47.5,320.9 48.1,320.9 48.7,320.8 49.3,321.4 49.9,321.5 50.5,321.6 51.1,321.6 51.7,321.6 52.3,321.9 52.9,322.1 53.5,322.2 54.1,322.3 54.7,322.3 55.3,322.7 55.9,322.8 56.5,322.7 57.1,323.2 57.7,323.3 58.3,323.5 58.9,323.4 59.5,323.5 60.1,323.4 60.7,324.0 61.3,323.5 61.9,324.1 62.5,324.2 63.1,324.7 63.7,324.6 64.3,324.5 64.9,324.6 65.5,324.9 66.1,325.3 66.7,325.4 67.3,325.5 67.9,325.6 68.5,325.9 69.1,326.3 69.7,326.0 70.3,326.4 70.9,327.0 71.5,326.9 72.1,326.8 72.7,327.3 73.3,327.1 73.9,327.5 74.5,328.0 75.1,328.3 75.7,327.6 76.3,328.3 76.9,328.8 77.5,328.4 78.1,328.8 78.7,329.3 79.3,328.9 79.9,329.4 80.5,329.4 81.1,329.1 81.7,329.9 82.3,329.9 82.9,330.4 83.5,330.8 84.1,330.7 84.7,330.6 85.3,331.0 85.9,331.1 86.5,331.5 87.1,331.0 87.7,331.3 88.3,331.3 88.9,332.1 89.5,332.1 90.1,332.2 90.7,332.3 91.3,332.6 91.9,332.7 92.5,333.0 93.1,333.2 93.7,333.9 94.3,333.8 94.9,333.7 95.5,334.0 96.1,334.6 96.7,334.6 97.3,334.8 97.9,335.1 98.5,335.5 99.1,335.0 99.7,335.4 100.3,335.3 100.9,336.1 101.5,336.1 102.1,336.2 102.7,336.4 103.3,337.0 103.9,337.0 104.5,337.1 105.1,337.7 105.7,337.3 106.3,337.5 106.9,338.7 107.5,338.1 108.1,338.3 108.7,338.4 109.3,338.8 109.9,339.2 110.5,339.4 111.1,339.6 111.7,339.6 112.3,339.5 112.9,340.1 113.5,340.6 114.1,340.7 114.7,340.6 115.3,341.0 115.9,340.9 116.5,341.2 117.1,341.1 117.7,341.5 118.3,341.8 118.9,341.9 119.5,342.3 120.1,342.8 120.7,342.9 121.3,342.7 121.9,342.8 122.5,343.0 123.1,343.2 123.7,343.6 124.3,344.0 124.9,344.1 125.5,344.4 126.1,344.6 126.7,344.7 127.3,344.8 127.9,345.7 128.5,345.7 129.1,345.4 129.7,345.6 130.3,345.9 130.9,346.3 131.5,346.8 132.1,346.9 132.7,347.1 133.3,347.3 133.9,347.5 134.5,347.5 135.1,347.6 135.7,347.6 136.3,347.3 136.9,347.8 137.5,348.4 138.1,347.9 138.7,347.9 139.3,348.4 139.9,348.2 140.5,348.1 141.1,348.6 141.7,348.3 142.3,348.4 142.9,348.1 143.5,348.3 144.1,348.3 144.7,348.4 145.3,348.5 145.9,348.5 146.5,348.2 147.1,348.4 147.7,347.9 148.3,348.4 148.9,348.4 149.5,348.1 150.1,348.0 150.7,348.2 151.3,347.9 151.9,348.2 152.5,348.2 153.1,347.8 153.7,347.9 154.3,348.0 154.9,347.9 155.5,347.7 156.1,347.2 156.7,347.0 157.3,346.7 157.9,346.8 158.5,347.0 159.1,346.5 159.7,346.3 160.3,345.9 160.9,344.9 161.5,345.0 162.1,344.6 162.7,344.8 163.3,344.6 163.9,343.7 164.5,343.6 165.1,343.4 165.7,342.7 166.3,342.2 166.9,341.7 167.5,341.6 168.1,340.6 168.7,340.6 169.3,339.8 169.9,339.4 170.5,339.0 171.1,337.9 171.7,337.3 172.3,337.1 172.9,336.1 173.5,335.7 174.1,335.3 174.7,334.9 175.3,334.0 175.9,333.7 176.5,333.4 177.1,333.1 177.7,331.7 178.3,332.0 179.2,330.9" stroke="#F8766D" stroke-width="0.85" fill="none" stroke-linejoin="round"/>
<polyline points="26.5,323.3 27.1,323.2 27.7,322.3 28.3,322.6 28.9,322.0 29.5,321.9 30.1,321.6 30.7,321.2 31.3,320.9 31.9,320.2 32.5,320.1 33.1,320.0 33.7,320.1 34.3,320.3 34.9,319.6 35.5,320.0 36.1,319.8 36.7,319.8 37.3,320.6 37.9,320.3 38.5,320.7 39.1,320.7 39.7,320.2 40.3,320.1 40.9,321.2 41.5,320.7 42.1,320.6 42.7,321.2 43.3,321.2 43.9,321.1 44.5,321.3 45.1,321.6 45.7,321.7 46.3,322.0 46.9,321.9 47.5,322.0 48.1,322.4 48.7,322.5 49.3,322.8 49.9,322.6 50.5,322.8 51.1,322.7 51.7,323.5 52.3,322.9 52.9,323.5 53.5,323.3 54.1,323.8 54.7,324.0 55.3,323.6 55.9,324.1 56.5,323.9 57.1,324.8 57.7,324.5 58.3,324.4 58.9,324.8 59.5,325.5 60.1,325.7 60.7,325.8 61.3,325.5 61.9,325.8 62.5,326.5 63.1,326.1 63.7,326.4 64.3,326.4 64.9,326.6 65.5,327.3 66.1,327.4 66.7,327.6 67.3,327.8 67.9,328.1 68.5,328.4 69.1,328.3 69.7,328.4 70.3,328.4 70.9,329.2 71.5,329.0 72.1,329.0 72.7,329.5 73.3,329.8 73.9,330.2 74.5,330.5 75.1,330.3 75.7,330.5 76.3,330.8 76.9,330.8 77.5,331.3 78.1,331.6 78.7,331.8 79.3,331.6 79.9,331.9 80.5,332.7 81.1,332.4 81.7,333.0 82.3,333.2 82.9,333.2 83.5,333.2 84.1,333.7 84.7,333.7 85.3,334.1 85.9,334.4 86.5,334.4 87.1,334.7 87.7,334.9 88.3,334.9 88.9,335.4 89.5,335.5 90.1,335.4 90.7,336.0 91.3,336.2 91.9,336.3 92.5,336.2 93.1,337.1 93.7,337.3 94.3,337.6 94.9,337.7 95.5,337.5 96.1,338.1 96.7,338.1 97.3,339.1 97.9,338.6 98.5,339.1 99.1,338.8 99.7,339.1 100.3,339.5 100.9,340.1 101.5,340.3 102.1,340.4 102.7,340.1 103.3,341.1 103.9,340.8 104.5,341.7 105.1,342.0 105.7,341.9 106.3,342.2 106.9,341.9 107.5,343.0 108.1,342.7 108.7,343.1 109.3,342.9 109.9,343.3 110.5,343.2 111.1,343.7 111.7,344.0 112.3,344.3 112.9,344.8 113.5,344.7 114.1,344.9 114.7,345.1 115.3,345.8 115.9,345.3 116.5,346.0 117.1,345.4 117.7,345.9 118.3,346.4 118.9,346.5 119.5,347.5 120.1,347.6 120.7,346.8 121.3,347.1 121.9,347.6 122.5,348.2 123.1,348.3 123.7,348.3 124.3,348.1 124.9,348.5 125.5,348.2 126.1,348.7 126.7,349.4 127.3,349.7 127.9,349.4 128.5,350.0 129.1,350.6 129.7,350.4 130.3,350.5 130.9,351.0 131.5,351.2 132.1,351.2 132.7,351.3 133.3,351.5 133.9,351.9 134.5,351.9 135.1,352.6 135.7,352.6 136.3,352.9 136.9,353.3 137.5,353.4 138.1,353.5 138.7,353.4 139.3,353.4 139.9,354.2 140.5,353.7 141.1,353.8 141.7,353.9 142.3,354.3 142.9,354.5 143.5,354.8 144.1,354.7 144.7,354.4 145.3,355.1 145.9,355.4 146.5,355.3 147.1,355.4 147.7,355.7 148.3,356.1 148.9,355.8 149.5,355.6 150.1,356.0 150.7,356.2 151.3,355.9 151.9,356.7 152.5,356.4 153.1,356.8 153.7,356.8 154.3,356.8 154.9,357.3 155.5,356.8 156.1,356.8 156.7,357.1 157.3,357.2 157.9,357.0 158.5,356.7 159.1,357.0 159.7,356.9 160.3,357.1 160.9,356.4 161.5,356.3 162.1,355.9 162.7,355.4 163.3,355.5 163.9,355.5 164.5,354.7 165.1,354.5 165.7,354.1 166.3,354.5 166.9,353.7 167.5,353.7 168.1,353.0 168.7,352.9 169.3,352.3 169.9,351.5 170.5,351.7 171.1,351.3 171.7,350.2 172.3,350.2 172.9,349.5 173.5,348.8 174.1,348.4 174.7,347.3 175.3,347.2 175.9,346.8 176.5,345.5 177.1,345.0 177.7,344.1 178.3,341.8 179.2,330.9" stroke="#00B0F6" stroke-width="0.85" fill="none" stroke-linejoin="round"/>
<polyline points="26.5,330.9 27.1,331.4 27.7,331.3 28.3,332.2 28.9,332.2 29.5,332.4 30.1,332.7 30.7,332.9 31.3,333.1 31.9,333.3 32.5,333.2 33.1,333.0 33.7,332.7 34.3,332.6 34.9,332.6 35.5,332.4 36.1,332.3 36.7,331.2 37.3,331.3 37.9,331.1 38.5,331.1 39.1,331.3 39.7,331.2 40.3,331.3 40.9,331.4 41.5,331.8 42.1,332.1 42.7,332.4 43.3,332.0 43.9,332.1 44.5,332.5 45.1,332.6 45.7,333.3 46.3,333.1 46.9,333.6 47.5,333.5 48.1,334.0 48.7,334.3 49.3,334.9 49.9,334.6 50.5,335.1 51.1,334.7 51.7,335.1 52.3,335.4 52.9,335.7 53.5,336.1 54.1,336.4 54.7,336.0 55.3,336.7 55.9,336.5 56.5,337.4 57.1,337.2 57.7,337.3 58.3,337.4 58.9,337.6 59.5,337.8 60.1,337.8 60.7,338.4 61.3,338.4 61.9,338.7 62.5,338.7 63.1,339.1 63.7,338.9 64.3,340.1 64.9,339.2 65.5,339.5 66.1,340.0 66.7,340.3 67.3,339.9 67.9,339.9 68.5,340.1 69.1,340.4 69.7,340.6 70.3,341.0 70.9,341.4 71.5,341.6 72.1,341.4 72.7,341.9 73.3,342.1 73.9,342.4 74.5,342.2 75.1,342.2 75.7,342.8 76.3,343.2 76.9,342.8 77.5,343.6 78.1,343.8 78.7,343.4 79.3,343.3 79.9,343.7 80.5,344.0 81.1,344.4 81.7,344.0 82.3,345.2 82.9,345.4 83.5,344.8 84.1,344.7 84.7,345.3 85.3,345.7 85.9,346.1 86.5,346.1 87.1,346.1 87.7,345.8 88.3,346.7 88.9,346.9 89.5,346.9 90.1,347.2 90.7,347.4 91.3,347.5 91.9,347.5 92.5,348.1 93.1,347.9 93.7,348.8 94.3,348.4 94.9,349.0 95.5,348.9 96.1,349.4 96.7,349.5 97.3,349.9 97.9,349.8 98.5,349.8 99.1,350.4 99.7,350.6 100.3,350.5 100.9,350.9 101.5,350.9 102.1,351.6 102.7,351.7 103.3,352.0 103.9,352.9 104.5,352.5 105.1,352.7 105.7,353.0 106.3,353.0 106.9,353.1 107.5,353.7 108.1,353.9 108.7,353.1 109.3,354.0 109.9,354.1 110.5,354.3 111.1,354.9 111.7,354.6 112.3,355.1 112.9,355.0 113.5,355.2 114.1,355.6 114.7,355.4 115.3,355.7 115.9,355.6 116.5,355.8 117.1,356.3 117.7,356.4 118.3,356.1 118.9,356.2 119.5,357.3 120.1,356.6 120.7,356.7 121.3,357.1 121.9,357.0 122.5,357.2 123.1,357.6 123.7,357.8 124.3,357.6 124.9,358.1 125.5,357.9 126.1,358.0 126.7,358.1 127.3,358.2 127.9,358.5 128.5,358.6 129.1,358.4 129.7,358.8 130.3,358.7 130.9,358.8 131.5,359.0 132.1,359.4 132.7,359.3 133.3,359.6 133.9,359.8 134.5,359.5 135.1,359.4 135.7,359.5 136.3,359.8 136.9,360.0 137.5,360.3 138.1,359.6 138.7,360.2 139.3,360.3 139.9,360.7 140.5,360.2 141.1,360.2 141.7,359.8 142.3,360.0 142.9,360.0 143.5,360.0 144.1,360.0 144.7,359.9 145.3,360.2 145.9,360.4 146.5,360.5 147.1,360.2 147.7,360.5 148.3,360.5 148.9,359.9 149.5,360.2 150.1,360.0 150.7,360.0 151.3,360.3 151.9,360.2 152.5,360.6 153.1,360.8 153.7,360.4 154.3,360.2 154.9,360.2 155.5,360.1 156.1,360.1 156.7,359.6 157.3,359.6 157.9,359.2 158.5,359.2 159.1,358.9 159.7,358.6 160.3,357.8 160.9,357.1 161.5,356.6 162.1,356.5 162.7,355.8 163.3,355.3 163.9,355.2 164.5,354.6 165.1,354.6 165.7,354.4 166.3,353.3 166.9,352.8 167.5,351.7 168.1,351.5 168.7,350.6 169.3,349.8 169.9,348.8 170.5,348.9 171.1,347.3 171.7,346.6 172.3,346.0 172.9,345.1 173.5,344.2 174.1,343.1 174.7,341.8 175.3,340.9 175.9,339.4 176.5,337.6 177.1,336.8 177.7,334.8 178.3,333.5 179.2,330.9" stroke="#00BF7D" stroke-width="0.85" fill="none" stroke-linejoin="round"/>
<polyline points="26.5,330.9 27.1,331.3 27.7,332.3 28.3,332.6 28.9,332.6 29.5,333.0 30.1,333.2 30.7,333.5 31.3,334.1 31.9,333.5 32.5,333.5 33.1,334.0 33.7,333.7 34.3,333.0 34.9,332.8 35.5,332.5 36.1,332.1 36.7,332.0 37.3,331.9 37.9,331.5 38.5,331.6 39.1,331.4 39.7,331.9 40.3,332.1 40.9,331.8 41.5,331.8 42.1,332.7 42.7,332.6 43.3,332.3 43.9,332.3 44.5,332.9 45.1,333.5 45.7,333.3 46.3,333.6 46.9,333.8 47.5,334.3 48.1,334.7 48.7,334.3 49.3,334.8 49.9,335.1 50.5,335.2 51.1,335.3 51.7,336.0 52.3,336.0 52.9,336.4 53.5,336.8 54.1,336.5 54.7,336.9 55.3,336.9 55.9,337.2 56.5,337.5 57.1,337.6 57.7,337.4 58.3,338.4 58.9,338.3 59.5,338.1 60.1,338.1 60.7,338.8 61.3,339.2 61.9,339.5 62.5,339.7 63.1,339.5 63.7,339.9 64.3,339.6 64.9,340.2 65.5,340.5 66.1,340.3 66.7,340.6 67.3,340.9 67.9,341.0 68.5,341.5 69.1,341.1 69.7,341.8 70.3,341.4 70.9,341.7 71.5,341.8 72.1,342.1 72.7,342.2 73.3,342.6 73.9,342.7 74.5,343.4 75.1,343.1 75.7,343.1 76.3,343.4 76.9,343.6 77.5,343.6 78.1,343.5 78.7,343.8 79.3,344.2 79.9,344.5 80.5,344.6 81.1,344.6 81.7,345.0 82.3,344.9 82.9,345.3 83.5,345.7 84.1,345.8 84.7,346.1 85.3,345.8 85.9,346.2 86.5,346.0 87.1,346.7 87.7,346.6 88.3,346.6 88.9,347.0 89.5,347.4 90.1,347.1 90.7,347.5 91.3,348.3 91.9,348.4 92.5,348.6 93.1,348.4 93.7,349.5 94.3,349.6 94.9,349.8 95.5,349.6 96.1,350.3 96.7,350.7 97.3,350.6 97.9,350.9 98.5,351.1 99.1,351.6 99.7,351.7 100.3,351.9 100.9,351.9 101.5,352.1 102.1,353.0 102.7,353.4 103.3,353.5 103.9,353.8 104.5,353.6 105.1,353.9 105.7,354.3 106.3,354.4 106.9,355.0 107.5,354.5 108.1,354.9 108.7,355.1 109.3,355.2 109.9,355.8 110.5,355.3 111.1,356.2 111.7,356.3 112.3,356.3 112.9,356.7 113.5,357.1 114.1,356.6 114.7,356.9 115.3,356.9 115.9,357.0 116.5,356.8 117.1,356.8 117.7,357.2 118.3,356.9 118.9,357.3 119.5,357.3 120.1,357.0 120.7,357.2 121.3,357.2 121.9,357.1 122.5,357.5 123.1,357.2 123.7,357.2 124.3,356.7 124.9,357.4 125.5,356.9 126.1,357.1 126.7,357.6 127.3,357.7 127.9,357.2 128.5,357.0 129.1,357.4 129.7,357.2 130.3,357.4 130.9,357.0 131.5,357.7 132.1,357.8 132.7,357.1 133.3,357.4 133.9,357.5 134.5,358.0 135.1,357.4 135.7,358.1 136.3,358.1 136.9,358.1 137.5,358.6 138.1,358.0 138.7,358.3 139.3,358.6 139.9,359.1 140.5,358.9 141.1,358.9 141.7,359.3 142.3,359.1 142.9,359.1 143.5,359.2 144.1,359.4 144.7,360.0 145.3,359.0 145.9,359.2 146.5,358.9 147.1,358.6 147.7,358.8 148.3,358.3 148.9,358.0 149.5,357.5 150.1,357.1 150.7,357.1 151.3,356.7 151.9,356.4 152.5,356.5 153.1,355.8 153.7,355.7 154.3,355.8 154.9,355.3 155.5,355.2 156.1,354.5 156.7,354.6 157.3,354.0 157.9,354.2 158.5,353.7 159.1,353.2 159.7,353.1 160.3,352.4 160.9,351.7 161.5,351.8 162.1,350.9 162.7,350.5 163.3,349.5 163.9,349.0 164.5,347.8 165.1,346.9 165.7,346.0 166.3,345.8 166.9,344.3 167.5,343.5 168.1,342.8 168.7,342.4 169.3,341.7 169.9,340.5 170.5,339.9 171.1,338.9 171.7,338.2 172.3,337.4 172.9,336.3 173.5,335.9 174.1,335.5 174.7,335.3 175.3,335.0 175.9,334.8 176.5,334.6 177.1,334.0 177.7,333.5 178.3,332.4 179.2,330.9" stroke="#A3A500" stroke-width="0.85" fill="none" stroke-linejoin="round"/>
<path d="M61.3 364.20v4.28M46.8 364.20v4.28M88.8 364.20v4.28M40.2 364.20v4.28M79.1 364.20v4.28M64.8 364.20v4.28M39.0 364.20v4.28M76.8 364.20v4.28M37.3 364.20v4.28M70.6 364.20v4.28M40.0 364.20v4.28M41.8 364.20v4.28M69.8 364.20v4.28M103.6 364.20v4.28M44.5 364.20v4.28M52.9 364.20v4.28M86.8 364.20v4.28M113.7 364.20v4.28M82.6 364.20v4.28M67.5 364.20v4.28M116.1 364.20v4.28M38.0 364.20v4.28M170.6 364.20v4.28M135.8 364.20v4.28M126.9 364.20v4.28M125.3 364.20v4.28M137.0 364.20v4.28M168.0 364.20v4.28M129.2 364.20v4.28M153.6 364.20v4.28M157.1 364.20v4.28M140.9 364.20v4.28M151.6 364.20v4.28M122.0 364.20v4.28M121.8 364.20v4.28M130.7 364.20v4.28M159.7 364.20v4.28M144.2 364.20v4.28M137.3 364.20v4.28M153.9 364.20v4.28M145.8 364.20v4.28M136.4 364.20v4.28M166.6 364.20v4.28M160.8 364.20v4.28M133.0 364.20v4.28M153.2 364.20v4.28M150.2 364.20v4.28M171.6 364.20v4.28M162.7 364.20v4.28M135.7 364.20v4.28M178.0 364.20v4.28M125.3 364.20v4.28M143.7 364.20v4.28M164.4 364.20v4.28M127.4 364.20v4.28M148.0 364.20v4.28M120.5 364.20v4.28M158.9 364.20v4.28M164.8 364.20v4.28M153.1 364.20v4.28M171.6 364.20v4.28M137.3 364.20v4.28M160.6 364.20v4.28M154.4 364.20v4.28M153.5 364.20v4.28M146.0 364.20v4.28M169.4 364.20v4.28M175.8 364.20v4.28M147.1 364.20v4.28M158.7 364.20v4.28" stroke="#A3A500" stroke-width="0.45" stroke-opacity="0.8" fill="none"/>
<path d="M34.9 368.48v4.28M91.7 368.48v4.28M86.9 368.48v4.28M117.5 368.48v4.28M102.3 368.48v4.28M54.8 368.48v4.28M63.7 368.48v4.28M88.8 368.48v4.28M31.6 368.48v4.28M70.4 368.48v4.28M44.4 368.48v4.28M39.9 368.48v4.28M34.8 368.48v4.28M97.6 368.48v4.28M41.0 368.48v4.28M51.5 368.48v4.28M64.2 368.48v4.28M106.7 368.48v4.28M36.7 368.48v4.28M69.3 368.48v4.28M78.2 368.48v4.28M107.8 368.48v4.28M102.1 368.48v4.28M106.1 368.48v4.28M54.2 368.48v4.28M66.3 368.48v4.28M61.3 368.48v4.28M107.9 368.48v4.28M114.4 368.48v4.28M42.9 368.48v4.28M45.2 368.48v4.28M50.1 368.48v4.28M50.2 368.48v4.28M72.5 368.48v4.28M81.7 368.48v4.28M52.8 368.48v4.28M29.9 368.48v4.28M66.7 368.48v4.28M62.3 368.48v4.28M79.7 368.48v4.28M114.0 368.48v4.28M90.7 368.48v4.28M75.2 368.48v4.28M84.3 368.48v4.28M89.4 368.48v4.28M34.3 368.48v4.28M109.2 368.48v4.28M98.6 368.48v4.28M171.5 368.48v4.28M166.9 368.48v4.28M142.1 368.48v4.28M142.5 368.48v4.28M124.4 368.48v4.28M156.9 368.48v4.28M121.9 368.48v4.28M122.2 368.48v4.28M130.9 368.48v4.28M128.0 368.48v4.28M138.9 368.48v4.28M121.3 368.48v4.28M118.1 368.48v4.28M127.4 368.48v4.28M124.3 368.48v4.28M140.3 368.48v4.28M119.7 368.48v4.28M171.5 368.48v4.28M155.6 368.48v4.28M127.2 368.48v4.28M133.5 368.48v4.28M139.3 368.48v4.28M140.4 368.48v4.28M125.6 368.48v4.28M170.0 368.48v4.28M178.8 368.48v4.28M146.6 368.48v4.28M147.7 368.48v4.28M123.4 368.48v4.28M124.4 368.48v4.28M139.0 368.48v4.28M134.3 368.48v4.28M168.7 368.48v4.28M128.0 368.48v4.28M119.5 368.48v4.28M176.2 368.48v4.28M150.4 368.48v4.28M127.1 368.48v4.28M151.3 368.48v4.28M119.8 368.48v4.28M150.4 368.48v4.28M177.9 368.48v4.28M170.9 368.48v4.28M160.6 368.48v4.28M134.1 368.48v4.28M140.5 368.48v4.28M128.3 368.48v4.28M165.3 368.48v4.28M150.7 368.48v4.28M165.7 368.48v4.28M138.3 368.48v4.28M131.7 368.48v4.28M167.7 368.48v4.28M178.3 368.48v4.28M170.2 368.48v4.28M167.4 368.48v4.28M168.1 368.48v4.28M163.3 368.48v4.28M132.0 368.48v4.28M149.7 368.48v4.28M139.8 368.48v4.28M119.9 368.48v4.28M119.8 368.48v4.28M135.2 368.48v4.28M134.0 368.48v4.28M160.4 368.48v4.28M176.5 368.48v4.28M145.4 368.48v4.28M175.4 368.48v4.28M178.5 368.48v4.28M176.5 368.48v4.28M140.4 368.48v4.28" stroke="#00BF7D" stroke-width="0.45" stroke-opacity="0.8" fill="none"/>
<path d="M60.2 372.76v4.28M61.1 372.76v4.28M56.5 372.76v4.28M57.7 372.76v4.28M121.8 372.76v4.28M164.0 372.76v4.28M154.8 372.76v4.28M99.7 372.76v4.28M126.2 372.76v4.28M148.6 372.76v4.28M39.4 372.76v4.28M127.4 372.76v4.28M165.4 372.76v4.28M146.0 372.76v4.28M141.0 372.76v4.28M99.5 372.76v4.28M53.8 372.76v4.28M147.0 372.76v4.28M77.3 372.76v4.28M148.8 372.76v4.28M174.9 372.76v4.28M86.9 372.76v4.28M87.8 372.76v4.28M171.1 372.76v4.28M137.2 372.76v4.28M52.5 372.76v4.28M45.9 372.76v4.28M49.6 372.76v4.28M164.7 372.76v4.28M149.7 372.76v4.28M48.8 372.76v4.28M152.7 372.76v4.28M176.2 372.76v4.28M126.9 372.76v4.28M80.0 372.76v4.28M110.3 372.76v4.28M46.5 372.76v4.28M28.7 372.76v4.28M174.8 372.76v4.28M125.7 372.76v4.28M106.9 372.76v4.28M169.1 372.76v4.28M92.7 372.76v4.28M159.6 372.76v4.28M152.7 372.76v4.28M58.7 372.76v4.28M65.0 372.76v4.28M71.2 372.76v4.28M63.2 372.76v4.28M116.0 372.76v4.28M66.1 372.76v4.28M90.5 372.76v4.28M46.5 372.76v4.28M165.5 372.76v4.28M80.5 372.76v4.28M96.5 372.76v4.28M115.6 372.76v4.28M164.6 372.76v4.28M90.7 372.76v4.28M166.6 372.76v4.28M103.1 372.76v4.28M107.7 372.76v4.28M106.4 372.76v4.28M29.4 372.76v4.28M93.7 372.76v4.28M54.5 372.76v4.28M27.1 372.76v4.28M148.5 372.76v4.28M52.8 372.76v4.28M98.8 372.76v4.28M137.2 372.76v4.28M111.5 372.76v4.28M76.3 372.76v4.28M105.7 372.76v4.28M111.3 372.76v4.28M146.3 372.76v4.28M42.7 372.76v4.28M112.1 372.76v4.28M64.4 372.76v4.28M68.8 372.76v4.28M144.4 372.76v4.28M104.0 372.76v4.28M112.3 372.76v4.28M142.6 372.76v4.28M165.8 372.76v4.28M94.2 372.76v4.28M120.0 372.76v4.28M103.7 372.76v4.28M104.7 372.76v4.28M132.3 372.76v4.28M95.6 372.76v4.28M107.9 372.76v4.28M99.5 372.76v4.28M170.3 372.76v4.28M133.3 372.76v4.28M160.3 372.76v4.28M170.4 372.76v4.28M66.1 372.76v4.28M111.9 372.76v4.28M170.5 372.76v4.28M154.8 372.76v4.28M47.4 372.76v4.28M45.1 372.76v4.28M94.0 372.76v4.28M37.6 372.76v4.28M63.2 372.76v4.28M37.7 372.76v4.28M128.7 372.76v4.28M146.2 372.76v4.28M163.5 372.76v4.28M50.1 372.76v4.28M135.9 372.76v4.28M127.3 372.76v4.28M48.3 372.76v4.28M161.3 372.76v4.28M174.2 372.76v4.28M60.0 372.76v4.28M171.9 372.76v4.28M87.3 372.76v4.28M100.9 372.76v4.28" stroke="#F8766D" stroke-width="0.45" stroke-opacity="0.8" fill="none"/>
<path d="M49.2 377.04v4.28M45.6 377.04v4.28M30.2 377.04v4.28M36.4 377.04v4.28M38.3 377.04v4.28M34.3 377.04v4.28M31.0 377.04v4.28M33.8 377.04v4.28M43.0 377.04v4.28M26.9 377.04v4.28M39.2 377.04v4.28M36.6 377.04v4.28M26.9 377.04v4.28M34.1 377.04v4.28M40.8 377.04v4.28M38.2 377.04v4.28M28.0 377.04v4.28M49.1 377.04v4.28M44.6 377.04v4.28M48.8 377.04v4.28M60.6 377.04v4.28M77.8 377.04v4.28M53.6 377.04v4.28M132.7 377.04v4.28M78.3 377.04v4.28M63.3 377.04v4.28M94.5 377.04v4.28M146.8 377.04v4.28M136.9 377.04v4.28M77.0 377.04v4.28M65.4 377.04v4.28M147.7 377.04v4.28M110.4 377.04v4.28M124.3 377.04v4.28M59.0 377.04v4.28M55.6 377.04v4.28M123.0 377.04v4.28M94.9 377.04v4.28M57.1 377.04v4.28M149.7 377.04v4.28M117.2 377.04v4.28M135.1 377.04v4.28M58.4 377.04v4.28M140.9 377.04v4.28M56.5 377.04v4.28M141.6 377.04v4.28M97.9 377.04v4.28M85.7 377.04v4.28M108.5 377.04v4.28M148.5 377.04v4.28M78.0 377.04v4.28M63.2 377.04v4.28M105.7 377.04v4.28M74.9 377.04v4.28M61.1 377.04v4.28M66.7 377.04v4.28M54.8 377.04v4.28M71.0 377.04v4.28M82.8 377.04v4.28M82.0 377.04v4.28M130.6 377.04v4.28M80.4 377.04v4.28M102.9 377.04v4.28M68.4 377.04v4.28M86.5 377.04v4.28M51.3 377.04v4.28M76.2 377.04v4.28M51.0 377.04v4.28M173.1 377.04v4.28M168.9 377.04v4.28M160.6 377.04v4.28M167.2 377.04v4.28M177.7 377.04v4.28M158.7 377.04v4.28M175.1 377.04v4.28M166.2 377.04v4.28M167.6 377.04v4.28M175.4 377.04v4.28M165.3 377.04v4.28M167.9 377.04v4.28M172.0 377.04v4.28M178.8 377.04v4.28M164.1 377.04v4.28M175.4 377.04v4.28M172.5 377.04v4.28M170.9 377.04v4.28M165.6 377.04v4.28M164.3 377.04v4.28M157.5 377.04v4.28M159.3 377.04v4.28M157.9 377.04v4.28M173.3 377.04v4.28" stroke="#00B0F6" stroke-width="0.45" stroke-opacity="0.8" fill="none"/>
<path d="M65.5 381.32v4.28M51.4 381.32v4.28M39.4 381.32v4.28M155.0 381.32v4.28M159.4 381.32v4.28M128.9 381.32v4.28M69.6 381.32v4.28M63.5 381.32v4.28M71.3 381.32v4.28M96.7 381.32v4.28M50.6 381.32v4.28M94.6 381.32v4.28M66.7 381.32v4.28M173.4 381.32v4.28M175.0 381.32v4.28M110.0 381.32v4.28M63.8 381.32v4.28M174.0 381.32v4.28M73.8 381.32v4.28M81.0 381.32v4.28M26.7 381.32v4.28M84.8 381.32v4.28M99.0 381.32v4.28M103.3 381.32v4.28M57.2 381.32v4.28M103.6 381.32v4.28M27.3 381.32v4.28M66.8 381.32v4.28M40.2 381.32v4.28M87.5 381.32v4.28M32.9 381.32v4.28M29.9 381.32v4.28" stroke="#E76BF3" stroke-width="0.45" stroke-opacity="0.8" fill="none"/>
<path d="M26.5 298V386H179.2" stroke="#9a9a9a" stroke-width="0.7" fill="none"/>
<text x="26.6" y="294.3" font-family='"Liberation Sans", sans-serif' font-size="7.6" fill="#000" text-anchor="start" stroke="#000" stroke-width="0.08" textLength="16.2" lengthAdjust="spacingAndGlyphs">Cold</text>
<g font-family='"Liberation Sans", sans-serif' font-size="4.5" fill="#1a1a1a" stroke="#1a1a1a" stroke-width="0.1" text-anchor="end">
<text x="25.1" y="315.1">0.3</text>
<text x="25.1" y="332.2">0.0</text>
<text x="25.1" y="349.1">-0.3</text>
</g>
<g font-family='"Liberation Sans", sans-serif' font-size="5.2" fill="#1a1a1a" stroke="#1a1a1a" stroke-width="0.08" text-anchor="middle">
<text x="82.8" y="391.6">5,000</text><text x="139.3" y="391.6">10,000</text>
</g>
<text transform="translate(13.2,339.4) rotate(-90)" font-family='"Liberation Sans", sans-serif' font-size="5.8" fill="#2a2a2a" stroke="#2a2a2a" stroke-width="0.1" text-anchor="middle" textLength="74" lengthAdjust="spacing">Running enrichment score</text>
<path d="M54.55 401.4V489.4M82.80 401.4V489.4M111.05 401.4V489.4M139.30 401.4V489.4M167.55 401.4V489.4" stroke="#ebebeb" stroke-width="0.5" fill="none"/>
<polyline points="26.5,427.7 27.1,425.7 27.7,423.7 28.3,421.5 28.9,420.2 29.5,418.4 30.1,417.1 30.7,416.2 31.3,414.7 31.9,413.1 32.5,412.7 33.1,411.6 33.7,410.7 34.3,410.4 34.9,409.3 35.5,409.1 36.1,408.5 36.7,408.7 37.3,407.1 37.9,407.2 38.5,406.8 39.1,406.7 39.7,406.0 40.3,405.6 40.9,405.8 41.5,405.1 42.1,405.1 42.7,404.8 43.3,404.8 43.9,404.2 44.5,404.2 45.1,404.2 45.7,404.1 46.3,404.2 46.9,404.0 47.5,403.9 48.1,403.6 48.7,403.8 49.3,403.3 49.9,403.3 50.5,402.9 51.1,403.0 51.7,403.4 52.3,403.2 52.9,402.7 53.5,403.2 54.1,403.2 54.7,403.0 55.3,403.4 55.9,403.4 56.5,403.5 57.1,403.9 57.7,403.6 58.3,404.2 58.9,404.0 59.5,404.1 60.1,404.6 60.7,404.5 61.3,404.5 61.9,404.7 62.5,404.9 63.1,404.6 63.7,405.2 64.3,405.2 64.9,405.0 65.5,405.3 66.1,405.9 66.7,405.5 67.3,406.5 67.9,405.8 68.5,406.3 69.1,405.8 69.7,406.6 70.3,406.6 70.9,407.1 71.5,407.2 72.1,407.2 72.7,408.0 73.3,407.9 73.9,407.7 74.5,408.1 75.1,407.5 75.7,408.3 76.3,408.9 76.9,408.6 77.5,409.0 78.1,408.9 78.7,409.5 79.3,409.6 79.9,409.7 80.5,410.1 81.1,410.5 81.7,410.5 82.3,410.0 82.9,410.7 83.5,410.9 84.1,410.7 84.7,410.7 85.3,411.2 85.9,411.4 86.5,411.6 87.1,411.6 87.7,412.0 88.3,412.2 88.9,412.3 89.5,412.6 90.1,412.5 90.7,412.5 91.3,413.0 91.9,413.4 92.5,414.0 93.1,413.0 93.7,413.6 94.3,413.7 94.9,414.1 95.5,414.0 96.1,414.4 96.7,414.8 97.3,414.6 97.9,414.9 98.5,415.5 99.1,415.5 99.7,415.0 100.3,416.1 100.9,415.6 101.5,416.0 102.1,416.0 102.7,416.2 103.3,416.3 103.9,416.8 104.5,416.6 105.1,416.6 105.7,417.0 106.3,417.3 106.9,417.0 107.5,417.8 108.1,417.6 108.7,418.1 109.3,418.5 109.9,418.4 110.5,418.6 111.1,418.5 111.7,418.6 112.3,418.5 112.9,419.1 113.5,419.1 114.1,418.8 114.7,419.7 115.3,420.1 115.9,420.0 116.5,420.4 117.1,420.2 117.7,420.1 118.3,420.6 118.9,420.6 119.5,420.6 120.1,421.3 120.7,421.3 121.3,421.2 121.9,421.6 122.5,421.7 123.1,422.1 123.7,422.5 124.3,422.1 124.9,422.2 125.5,423.0 126.1,423.5 126.7,422.9 127.3,423.0 127.9,423.1 128.5,423.6 129.1,423.8 129.7,423.9 130.3,424.3 130.9,424.1 131.5,424.3 132.1,424.3 132.7,425.2 133.3,425.3 133.9,425.5 134.5,425.1 135.1,425.8 135.7,425.7 136.3,425.9 136.9,426.0 137.5,425.9 138.1,426.1 138.7,425.9 139.3,426.2 139.9,426.4 140.5,426.3 141.1,426.7 141.7,427.1 142.3,426.7 142.9,426.7 143.5,426.8 144.1,427.1 144.7,427.5 145.3,427.2 145.9,427.2 146.5,426.9 147.1,427.3 147.7,427.4 148.3,427.2 148.9,427.3 149.5,427.2 150.1,427.5 150.7,427.7 151.3,427.5 151.9,427.5 152.5,427.5 153.1,427.3 153.7,427.3 154.3,427.4 154.9,427.6 155.5,427.6 156.1,427.9 156.7,427.8 157.3,428.1 157.9,427.9 158.5,427.7 159.1,427.9 159.7,427.5 160.3,428.4 160.9,427.9 161.5,428.1 162.1,428.7 162.7,428.1 163.3,428.3 163.9,428.5 164.5,428.4 165.1,428.6 165.7,428.7 166.3,428.8 166.9,428.6 167.5,428.8 168.1,428.5 168.7,428.7 169.3,428.7 169.9,427.8 170.5,428.1 171.1,428.1 171.7,427.4 172.3,427.0 172.9,427.8 173.5,427.5 174.1,427.9 174.7,427.7 175.3,427.7 175.9,427.6 176.5,427.7 177.1,427.5 177.9,427.7" stroke="#F8766D" stroke-width="0.85" fill="none" stroke-linejoin="round"/>
<polyline points="26.5,427.7 27.1,424.0 27.7,420.8 28.3,417.5 28.9,415.3 29.5,413.6 30.1,412.6 30.7,411.4 31.3,410.1 31.9,409.5 32.5,408.2 33.1,408.0 33.7,407.3 34.3,406.9 34.9,406.8 35.5,406.6 36.1,405.7 36.7,405.3 37.3,404.9 37.9,404.9 38.5,404.4 39.1,404.5 39.7,404.5 40.3,404.1 40.9,403.7 41.5,403.9 42.1,403.4 42.7,403.0 43.3,403.7 43.9,403.8 44.5,403.6 45.1,403.1 45.7,402.3 46.3,403.0 46.9,403.4 47.5,403.2 48.1,403.8 48.7,403.3 49.3,403.8 49.9,404.0 50.5,404.2 51.1,404.0 51.7,404.5 52.3,404.8 52.9,404.8 53.5,404.7 54.1,405.1 54.7,405.1 55.3,405.7 55.9,406.0 56.5,406.0 57.1,406.2 57.7,406.3 58.3,406.6 58.9,406.2 59.5,406.9 60.1,407.3 60.7,407.2 61.3,407.7 61.9,407.4 62.5,408.0 63.1,408.1 63.7,408.5 64.3,408.6 64.9,409.4 65.5,408.2 66.1,408.9 66.7,409.3 67.3,409.7 67.9,409.8 68.5,410.0 69.1,410.0 69.7,410.3 70.3,410.6 70.9,411.4 71.5,411.1 72.1,412.2 72.7,412.0 73.3,411.9 73.9,412.4 74.5,412.7 75.1,412.3 75.7,412.4 76.3,413.4 76.9,413.0 77.5,413.7 78.1,413.9 78.7,413.5 79.3,414.3 79.9,414.5 80.5,414.9 81.1,414.8 81.7,415.1 82.3,415.3 82.9,415.4 83.5,416.0 84.1,416.1 84.7,416.4 85.3,416.3 85.9,416.7 86.5,416.4 87.1,416.6 87.7,417.2 88.3,417.1 88.9,417.3 89.5,417.6 90.1,417.4 90.7,418.0 91.3,418.3 91.9,418.2 92.5,418.2 93.1,419.1 93.7,419.0 94.3,418.8 94.9,419.1 95.5,419.0 96.1,419.2 96.7,419.3 97.3,419.8 97.9,420.3 98.5,420.6 99.1,420.5 99.7,421.0 100.3,421.1 100.9,420.8 101.5,421.1 102.1,421.5 102.7,421.8 103.3,422.1 103.9,421.7 104.5,421.7 105.1,422.9 105.7,422.5 106.3,423.0 106.9,422.9 107.5,422.7 108.1,423.6 108.7,423.5 109.3,424.0 109.9,423.9 110.5,423.7 111.1,424.1 111.7,424.5 112.3,424.3 112.9,424.7 113.5,425.1 114.1,424.6 114.7,425.0 115.3,425.3 115.9,425.7 116.5,425.6 117.1,425.6 117.7,426.1 118.3,426.0 118.9,426.4 119.5,426.5 120.1,426.5 120.7,427.0 121.3,427.2 121.9,426.7 122.5,427.3 123.1,427.3 123.7,427.4 124.3,427.7 124.9,428.1 125.5,427.9 126.1,428.0 126.7,427.9 127.3,428.3 127.9,428.5 128.5,428.4 129.1,428.7 129.7,429.1 130.3,429.4 130.9,429.2 131.5,429.9 132.1,429.8 132.7,429.9 133.3,429.9 133.9,430.0 134.5,429.9 135.1,430.2 135.7,430.4 136.3,430.6 136.9,431.1 137.5,431.3 138.1,431.1 138.7,431.4 139.3,431.1 139.9,430.9 140.5,431.6 141.1,431.8 141.7,432.3 142.3,432.7 142.9,432.3 143.5,432.7 144.1,432.9 144.7,432.8 145.3,433.2 145.9,433.3 146.5,433.8 147.1,433.4 147.7,433.3 148.3,434.2 148.9,434.6 149.5,434.9 150.1,434.8 150.7,435.3 151.3,435.3 151.9,435.8 152.5,435.7 153.1,435.8 153.7,436.5 154.3,436.1 154.9,436.2 155.5,436.9 156.1,436.8 156.7,436.3 157.3,437.2 157.9,436.6 158.5,436.7 159.1,436.8 159.7,437.4 160.3,436.9 160.9,437.1 161.5,436.8 162.1,437.0 162.7,436.5 163.3,436.9 163.9,436.7 164.5,436.6 165.1,436.8 165.7,436.8 166.3,436.4 166.9,435.9 167.5,435.9 168.1,435.1 168.7,435.2 169.3,434.9 169.9,434.4 170.5,434.1 171.1,433.9 171.7,433.5 172.3,433.3 172.9,433.3 173.5,432.3 174.1,432.8 174.7,432.2 175.3,431.6 175.9,430.7 176.5,430.0 177.1,428.9 177.9,427.7" stroke="#00B0F6" stroke-width="0.85" fill="none" stroke-linejoin="round"/>
<polyline points="26.5,427.7 27.1,428.7 27.7,429.1 28.3,429.4 28.9,429.4 29.5,429.4 30.1,429.7 30.7,429.8 31.3,429.8 31.9,429.2 32.5,428.5 33.1,427.7 33.7,426.8 34.3,426.0 34.9,425.6 35.5,425.2 36.1,424.8 36.7,424.7 37.3,423.9 37.9,423.8 38.5,423.1 39.1,423.4 39.7,422.9 40.3,422.5 40.9,421.9 41.5,421.4 42.1,420.7 42.7,420.7 43.3,420.5 43.9,419.1 44.5,419.8 45.1,418.9 45.7,418.9 46.3,418.3 46.9,418.1 47.5,418.1 48.1,417.5 48.7,417.8 49.3,417.1 49.9,417.0 50.5,416.5 51.1,416.3 51.7,416.2 52.3,416.4 52.9,416.7 53.5,416.3 54.1,416.0 54.7,416.3 55.3,416.2 55.9,416.7 56.5,416.7 57.1,416.6 57.7,416.9 58.3,417.3 58.9,417.3 59.5,417.1 60.1,417.6 60.7,417.7 61.3,417.6 61.9,417.9 62.5,418.5 63.1,417.9 63.7,418.6 64.3,418.4 64.9,418.7 65.5,418.6 66.1,418.6 66.7,418.5 67.3,418.5 67.9,418.6 68.5,418.5 69.1,417.9 69.7,418.3 70.3,418.4 70.9,418.3 71.5,418.0 72.1,417.5 72.7,418.0 73.3,417.9 73.9,418.0 74.5,417.4 75.1,417.5 75.7,417.3 76.3,417.3 76.9,416.9 77.5,417.2 78.1,417.1 78.7,417.1 79.3,417.6 79.9,417.2 80.5,417.4 81.1,418.0 81.7,417.8 82.3,418.5 82.9,418.6 83.5,418.6 84.1,418.9 84.7,419.3 85.3,419.5 85.9,419.7 86.5,419.7 87.1,420.2 87.7,420.1 88.3,420.3 88.9,420.6 89.5,420.5 90.1,420.9 90.7,421.1 91.3,421.0 91.9,421.1 92.5,422.0 93.1,421.8 93.7,422.0 94.3,422.1 94.9,422.8 95.5,422.5 96.1,422.3 96.7,423.1 97.3,422.9 97.9,423.4 98.5,423.4 99.1,424.0 99.7,423.9 100.3,423.9 100.9,424.5 101.5,425.0 102.1,424.4 102.7,425.0 103.3,425.0 103.9,425.2 104.5,425.0 105.1,425.2 105.7,426.0 106.3,425.9 106.9,425.9 107.5,426.6 108.1,426.7 108.7,426.7 109.3,426.5 109.9,426.9 110.5,427.5 111.1,426.8 111.7,427.1 112.3,427.5 112.9,428.1 113.5,428.1 114.1,428.3 114.7,428.4 115.3,428.6 115.9,429.0 116.5,429.8 117.1,429.2 117.7,429.6 118.3,429.3 118.9,430.0 119.5,429.8 120.1,430.0 120.7,430.0 121.3,430.1 121.9,430.3 122.5,430.4 123.1,430.5 123.7,431.4 124.3,431.2 124.9,431.5 125.5,431.6 126.1,431.3 126.7,431.8 127.3,431.8 127.9,431.9 128.5,432.3 129.1,432.5 129.7,432.6 130.3,432.8 130.9,432.8 131.5,433.0 132.1,433.5 132.7,433.8 133.3,433.7 133.9,433.4 134.5,433.7 135.1,433.9 135.7,434.1 136.3,434.2 136.9,434.3 137.5,434.2 138.1,434.2 138.7,434.0 139.3,434.7 139.9,434.7 140.5,434.4 141.1,434.7 141.7,434.7 142.3,434.7 142.9,435.3 143.5,434.8 144.1,435.5 144.7,434.8 145.3,434.6 145.9,434.7 146.5,435.1 147.1,434.3 147.7,434.3 148.3,433.4 148.9,434.0 149.5,433.4 150.1,433.6 150.7,433.9 151.3,433.5 151.9,433.8 152.5,433.6 153.1,433.7 153.7,433.9 154.3,434.2 154.9,434.1 155.5,434.1 156.1,433.9 156.7,433.8 157.3,434.3 157.9,434.1 158.5,434.1 159.1,434.2 159.7,433.9 160.3,433.3 160.9,433.3 161.5,433.1 162.1,432.8 162.7,432.2 163.3,432.4 163.9,432.6 164.5,432.8 165.1,432.6 165.7,432.4 166.3,433.2 166.9,432.9 167.5,432.9 168.1,433.3 168.7,433.5 169.3,433.4 169.9,433.4 170.5,433.5 171.1,433.9 171.7,433.8 172.3,434.0 172.9,433.5 173.5,434.0 174.1,434.1 174.7,434.1 175.3,433.7 175.9,433.5 176.5,432.6 177.1,430.4 177.9,427.7" stroke="#E76BF3" stroke-width="0.85" fill="none" stroke-linejoin="round"/>
<polyline points="26.5,427.7 27.1,427.2 27.7,426.8 28.3,427.0 28.9,427.8 29.5,426.9 30.1,426.9 30.7,426.9 31.3,426.7 31.9,426.8 32.5,426.7 33.1,427.2 33.7,427.0 34.3,426.8 34.9,427.0 35.5,427.0 36.1,426.7 36.7,427.4 37.3,427.1 37.9,427.5 38.5,427.5 39.1,427.8 39.7,428.1 40.3,428.0 40.9,427.8 41.5,428.0 42.1,428.4 42.7,428.3 43.3,428.5 43.9,428.7 44.5,428.8 45.1,429.3 45.7,429.2 46.3,429.5 46.9,429.5 47.5,429.5 48.1,430.3 48.7,430.5 49.3,430.4 49.9,430.9 50.5,431.0 51.1,430.8 51.7,431.6 52.3,431.0 52.9,431.7 53.5,432.0 54.1,431.8 54.7,432.6 55.3,432.3 55.9,432.9 56.5,432.8 57.1,433.2 57.7,433.2 58.3,434.0 58.9,433.7 59.5,434.0 60.1,434.2 60.7,434.2 61.3,434.3 61.9,434.7 62.5,435.0 63.1,435.2 63.7,435.3 64.3,435.3 64.9,435.7 65.5,435.5 66.1,436.0 66.7,435.7 67.3,436.2 67.9,436.5 68.5,436.4 69.1,436.7 69.7,437.4 70.3,437.5 70.9,437.8 71.5,438.1 72.1,438.1 72.7,438.4 73.3,438.5 73.9,438.9 74.5,438.4 75.1,438.9 75.7,439.4 76.3,439.6 76.9,439.6 77.5,439.7 78.1,440.2 78.7,440.2 79.3,440.1 79.9,440.9 80.5,440.7 81.1,441.0 81.7,440.8 82.3,440.8 82.9,441.7 83.5,442.2 84.1,441.4 84.7,442.1 85.3,442.5 85.9,442.6 86.5,442.8 87.1,443.0 87.7,443.0 88.3,443.7 88.9,443.8 89.5,443.9 90.1,443.4 90.7,444.6 91.3,444.4 91.9,444.8 92.5,445.3 93.1,445.4 93.7,445.2 94.3,445.7 94.9,445.8 95.5,445.7 96.1,446.1 96.7,445.9 97.3,446.1 97.9,446.8 98.5,447.3 99.1,446.9 99.7,447.6 100.3,447.6 100.9,448.2 101.5,447.9 102.1,448.9 102.7,448.5 103.3,448.5 103.9,448.8 104.5,448.5 105.1,449.3 105.7,449.3 106.3,449.7 106.9,449.7 107.5,449.3 108.1,449.5 108.7,450.2 109.3,450.3 109.9,451.0 110.5,450.7 111.1,451.3 111.7,451.3 112.3,451.9 112.9,451.7 113.5,451.9 114.1,451.8 114.7,452.3 115.3,452.6 115.9,452.6 116.5,452.9 117.1,452.7 117.7,453.0 118.3,453.4 118.9,453.4 119.5,453.9 120.1,453.9 120.7,453.8 121.3,453.9 121.9,454.3 122.5,454.3 123.1,454.6 123.7,454.6 124.3,455.2 124.9,455.3 125.5,455.5 126.1,455.8 126.7,455.2 127.3,455.9 127.9,456.0 128.5,456.5 129.1,456.6 129.7,456.8 130.3,457.1 130.9,456.5 131.5,456.9 132.1,457.6 132.7,457.8 133.3,457.4 133.9,458.0 134.5,458.1 135.1,457.7 135.7,458.0 136.3,458.4 136.9,458.4 137.5,459.0 138.1,458.8 138.7,459.0 139.3,458.7 139.9,458.7 140.5,458.9 141.1,459.5 141.7,459.7 142.3,459.1 142.9,459.3 143.5,458.7 144.1,459.7 144.7,459.1 145.3,459.7 145.9,459.8 146.5,459.2 147.1,459.3 147.7,459.8 148.3,459.9 148.9,459.5 149.5,459.4 150.1,459.8 150.7,460.0 151.3,459.4 151.9,459.5 152.5,460.0 153.1,459.8 153.7,459.5 154.3,459.7 154.9,459.8 155.5,459.8 156.1,459.5 156.7,459.3 157.3,458.7 157.9,459.0 158.5,458.7 159.1,458.4 159.7,458.0 160.3,457.7 160.9,457.6 161.5,456.9 162.1,456.3 162.7,456.4 163.3,455.7 163.9,455.3 164.5,455.1 165.1,454.4 165.7,453.8 166.3,452.8 166.9,452.7 167.5,451.2 168.1,451.0 168.7,449.5 169.3,448.7 169.9,447.9 170.5,447.3 171.1,446.2 171.7,445.0 172.3,443.7 172.9,443.1 173.5,441.7 174.1,440.5 174.7,438.9 175.3,437.2 175.9,435.7 176.5,433.4 177.1,431.2 177.9,427.7" stroke="#00BF7D" stroke-width="0.85" fill="none" stroke-linejoin="round"/>
<polyline points="26.5,427.7 27.1,427.7 27.7,428.1 28.3,428.3 28.9,428.5 29.5,428.6 30.1,429.4 30.7,429.5 31.3,429.7 31.9,429.7 32.5,430.3 33.1,430.3 33.7,430.6 34.3,430.9 34.9,431.1 35.5,431.6 36.1,431.3 36.7,431.6 37.3,432.0 37.9,432.1 38.5,432.5 39.1,432.8 39.7,433.1 40.3,433.2 40.9,433.1 41.5,433.3 42.1,433.5 42.7,434.0 43.3,433.9 43.9,433.9 44.5,434.1 45.1,434.7 45.7,434.5 46.3,434.2 46.9,435.2 47.5,435.3 48.1,435.6 48.7,435.9 49.3,435.9 49.9,436.1 50.5,436.2 51.1,436.2 51.7,436.0 52.3,436.2 52.9,437.0 53.5,437.3 54.1,437.3 54.7,437.3 55.3,437.9 55.9,437.9 56.5,438.1 57.1,438.2 57.7,438.2 58.3,438.4 58.9,439.0 59.5,439.5 60.1,439.7 60.7,439.4 61.3,439.7 61.9,439.8 62.5,440.1 63.1,440.3 63.7,440.6 64.3,440.3 64.9,441.2 65.5,441.0 66.1,440.9 66.7,442.0 67.3,441.4 67.9,441.8 68.5,441.8 69.1,442.5 69.7,441.7 70.3,442.6 70.9,442.3 71.5,443.3 72.1,443.6 72.7,443.5 73.3,443.3 73.9,444.0 74.5,444.4 75.1,444.1 75.7,444.2 76.3,444.8 76.9,444.3 77.5,444.8 78.1,445.0 78.7,445.3 79.3,445.7 79.9,445.6 80.5,445.5 81.1,445.6 81.7,446.1 82.3,446.5 82.9,446.8 83.5,446.9 84.1,446.6 84.7,447.3 85.3,447.1 85.9,447.8 86.5,447.6 87.1,447.8 87.7,447.9 88.3,448.5 88.9,448.4 89.5,449.3 90.1,449.1 90.7,448.7 91.3,449.1 91.9,449.6 92.5,449.7 93.1,449.8 93.7,449.9 94.3,449.7 94.9,449.8 95.5,450.6 96.1,450.4 96.7,450.8 97.3,451.1 97.9,450.7 98.5,450.8 99.1,451.6 99.7,451.5 100.3,451.8 100.9,452.3 101.5,452.1 102.1,452.4 102.7,452.6 103.3,452.3 103.9,453.3 104.5,453.2 105.1,453.1 105.7,453.7 106.3,453.4 106.9,453.6 107.5,453.7 108.1,454.1 108.7,454.1 109.3,454.6 109.9,454.5 110.5,454.9 111.1,455.2 111.7,455.3 112.3,455.5 112.9,455.6 113.5,455.6 114.1,455.4 114.7,456.2 115.3,455.9 115.9,456.6 116.5,456.6 117.1,456.8 117.7,457.0 118.3,457.3 118.9,457.1 119.5,457.6 120.1,458.0 120.7,458.2 121.3,458.4 121.9,458.3 122.5,458.6 123.1,459.3 123.7,459.1 124.3,459.3 124.9,459.7 125.5,459.4 126.1,459.8 126.7,460.2 127.3,460.2 127.9,460.8 128.5,460.8 129.1,461.1 129.7,460.8 130.3,461.2 130.9,461.4 131.5,461.7 132.1,461.9 132.7,461.9 133.3,462.2 133.9,462.8 134.5,462.4 135.1,462.4 135.7,463.0 136.3,463.1 136.9,462.9 137.5,463.2 138.1,462.6 138.7,463.3 139.3,463.2 139.9,463.9 140.5,463.5 141.1,464.0 141.7,463.5 142.3,463.6 142.9,463.6 143.5,463.5 144.1,463.7 144.7,464.2 145.3,463.6 145.9,464.1 146.5,464.4 147.1,464.2 147.7,464.3 148.3,464.3 148.9,464.4 149.5,463.8 150.1,464.7 150.7,464.4 151.3,464.2 151.9,464.2 152.5,464.1 153.1,464.2 153.7,463.5 154.3,463.3 154.9,463.1 155.5,463.4 156.1,462.6 156.7,462.6 157.3,462.0 157.9,461.9 158.5,461.5 159.1,461.1 159.7,461.2 160.3,460.6 160.9,459.9 161.5,460.4 162.1,459.1 162.7,458.5 163.3,457.8 163.9,458.0 164.5,457.1 165.1,456.4 165.7,455.9 166.3,454.9 166.9,454.3 167.5,453.7 168.1,452.4 168.7,451.6 169.3,450.3 169.9,449.2 170.5,448.3 171.1,446.8 171.7,445.4 172.3,443.5 172.9,442.3 173.5,440.9 174.1,439.5 174.7,438.0 175.3,436.2 175.9,434.3 176.5,432.4 177.1,430.4 177.9,427.7" stroke="#A3A500" stroke-width="0.85" fill="none" stroke-linejoin="round"/>
<path d="M64.0 468.00v4.20M57.0 468.00v4.20M91.7 468.00v4.20M86.2 468.00v4.20M108.0 468.00v4.20M98.8 468.00v4.20M104.6 468.00v4.20M120.6 468.00v4.20M72.4 468.00v4.20M66.2 468.00v4.20M131.0 468.00v4.20M48.8 468.00v4.20M105.4 468.00v4.20M97.4 468.00v4.20M38.4 468.00v4.20M116.3 468.00v4.20M121.9 468.00v4.20M95.9 468.00v4.20M106.3 468.00v4.20M114.1 468.00v4.20M138.9 468.00v4.20M156.4 468.00v4.20M155.5 468.00v4.20M170.5 468.00v4.20M169.1 468.00v4.20M170.1 468.00v4.20M159.1 468.00v4.20M173.1 468.00v4.20M163.6 468.00v4.20M164.1 468.00v4.20M143.0 468.00v4.20M134.0 468.00v4.20M138.6 468.00v4.20M148.9 468.00v4.20M137.3 468.00v4.20M170.5 468.00v4.20M157.9 468.00v4.20M161.1 468.00v4.20M161.0 468.00v4.20M163.5 468.00v4.20M154.8 468.00v4.20M132.7 468.00v4.20M168.8 468.00v4.20M166.6 468.00v4.20M155.4 468.00v4.20M156.9 468.00v4.20M162.5 468.00v4.20M135.6 468.00v4.20M166.0 468.00v4.20M144.0 468.00v4.20M135.9 468.00v4.20M144.6 468.00v4.20M165.7 468.00v4.20M141.9 468.00v4.20M166.2 468.00v4.20M176.9 468.00v4.20M155.0 468.00v4.20M149.9 468.00v4.20M154.3 468.00v4.20M163.6 468.00v4.20M167.4 468.00v4.20M160.6 468.00v4.20M161.8 468.00v4.20M136.1 468.00v4.20M139.3 468.00v4.20M144.1 468.00v4.20M166.3 468.00v4.20M146.4 468.00v4.20M158.4 468.00v4.20M133.1 468.00v4.20M135.3 468.00v4.20M144.8 468.00v4.20M163.1 468.00v4.20M164.0 468.00v4.20M163.3 468.00v4.20M145.8 468.00v4.20" stroke="#A3A500" stroke-width="0.45" stroke-opacity="0.8" fill="none"/>
<path d="M81.3 472.20v4.20M75.8 472.20v4.20M76.0 472.20v4.20M39.1 472.20v4.20M121.3 472.20v4.20M47.6 472.20v4.20M130.2 472.20v4.20M125.8 472.20v4.20M28.4 472.20v4.20M75.2 472.20v4.20M113.5 472.20v4.20M129.2 472.20v4.20M74.2 472.20v4.20M55.0 472.20v4.20M48.8 472.20v4.20M126.8 472.20v4.20M48.8 472.20v4.20M88.2 472.20v4.20M41.5 472.20v4.20M82.1 472.20v4.20M127.5 472.20v4.20M40.6 472.20v4.20M113.5 472.20v4.20M80.5 472.20v4.20M120.6 472.20v4.20M101.1 472.20v4.20M51.0 472.20v4.20M121.7 472.20v4.20M78.1 472.20v4.20M29.1 472.20v4.20M26.9 472.20v4.20M78.6 472.20v4.20M74.3 472.20v4.20M58.5 472.20v4.20M41.4 472.20v4.20M63.0 472.20v4.20M60.0 472.20v4.20M115.6 472.20v4.20M26.7 472.20v4.20M106.1 472.20v4.20M115.5 472.20v4.20M39.2 472.20v4.20M124.7 472.20v4.20M102.1 472.20v4.20M122.1 472.20v4.20M57.2 472.20v4.20M66.0 472.20v4.20M68.2 472.20v4.20M177.9 472.20v4.20M159.3 472.20v4.20M148.9 472.20v4.20M152.0 472.20v4.20M145.1 472.20v4.20M134.7 472.20v4.20M137.2 472.20v4.20M170.5 472.20v4.20M145.5 472.20v4.20M175.1 472.20v4.20M143.9 472.20v4.20M144.6 472.20v4.20M155.8 472.20v4.20M141.2 472.20v4.20M149.5 472.20v4.20M176.0 472.20v4.20M172.7 472.20v4.20M169.5 472.20v4.20M161.2 472.20v4.20M174.1 472.20v4.20M175.3 472.20v4.20M157.5 472.20v4.20M165.3 472.20v4.20M134.8 472.20v4.20M165.8 472.20v4.20M153.0 472.20v4.20M166.8 472.20v4.20M161.8 472.20v4.20M145.6 472.20v4.20M134.8 472.20v4.20M174.7 472.20v4.20M138.3 472.20v4.20M154.0 472.20v4.20M148.2 472.20v4.20M146.1 472.20v4.20M166.1 472.20v4.20M176.9 472.20v4.20M144.4 472.20v4.20M162.4 472.20v4.20M146.2 472.20v4.20M157.9 472.20v4.20M150.5 472.20v4.20M140.2 472.20v4.20M139.9 472.20v4.20M142.0 472.20v4.20M173.7 472.20v4.20M155.1 472.20v4.20M142.6 472.20v4.20M173.7 472.20v4.20M177.8 472.20v4.20M153.0 472.20v4.20M138.9 472.20v4.20M141.3 472.20v4.20M136.7 472.20v4.20M148.1 472.20v4.20M136.7 472.20v4.20M143.4 472.20v4.20M144.3 472.20v4.20M158.4 472.20v4.20M172.9 472.20v4.20M166.6 472.20v4.20M151.3 472.20v4.20M151.4 472.20v4.20M156.4 472.20v4.20M149.7 472.20v4.20M147.9 472.20v4.20M135.4 472.20v4.20M145.2 472.20v4.20M176.5 472.20v4.20M138.3 472.20v4.20M155.4 472.20v4.20M161.2 472.20v4.20" stroke="#00BF7D" stroke-width="0.45" stroke-opacity="0.8" fill="none"/>
<path d="M98.4 476.40v4.20M44.5 476.40v4.20M49.1 476.40v4.20M47.2 476.40v4.20M59.8 476.40v4.20M63.7 476.40v4.20M106.0 476.40v4.20M97.2 476.40v4.20M99.2 476.40v4.20M28.3 476.40v4.20M29.2 476.40v4.20M85.6 476.40v4.20M101.1 476.40v4.20M65.9 476.40v4.20M75.4 476.40v4.20M26.5 476.40v4.20M59.1 476.40v4.20M103.7 476.40v4.20M95.3 476.40v4.20M97.8 476.40v4.20M107.5 476.40v4.20M47.2 476.40v4.20M35.6 476.40v4.20M39.4 476.40v4.20M70.0 476.40v4.20M83.3 476.40v4.20M104.9 476.40v4.20M86.6 476.40v4.20M80.4 476.40v4.20M90.2 476.40v4.20M64.6 476.40v4.20M72.5 476.40v4.20M29.8 476.40v4.20M91.7 476.40v4.20M45.9 476.40v4.20M103.2 476.40v4.20M80.3 476.40v4.20M51.8 476.40v4.20M37.2 476.40v4.20M47.5 476.40v4.20M79.5 476.40v4.20M84.7 476.40v4.20M35.8 476.40v4.20M32.4 476.40v4.20M70.2 476.40v4.20M75.1 476.40v4.20M58.8 476.40v4.20M45.1 476.40v4.20M76.6 476.40v4.20M27.4 476.40v4.20M51.6 476.40v4.20M64.9 476.40v4.20M106.4 476.40v4.20M80.2 476.40v4.20M100.1 476.40v4.20M66.1 476.40v4.20M46.1 476.40v4.20M47.1 476.40v4.20M106.5 476.40v4.20M85.2 476.40v4.20M52.1 476.40v4.20M28.3 476.40v4.20M68.0 476.40v4.20M82.7 476.40v4.20M61.5 476.40v4.20M47.9 476.40v4.20M82.1 476.40v4.20M103.6 476.40v4.20M45.4 476.40v4.20M29.3 476.40v4.20M54.7 476.40v4.20M61.5 476.40v4.20M83.4 476.40v4.20M43.0 476.40v4.20M92.9 476.40v4.20M88.1 476.40v4.20M68.6 476.40v4.20M43.6 476.40v4.20M107.3 476.40v4.20M52.5 476.40v4.20M165.7 476.40v4.20M125.6 476.40v4.20M124.9 476.40v4.20M161.7 476.40v4.20M129.9 476.40v4.20M174.7 476.40v4.20M143.6 476.40v4.20M122.6 476.40v4.20M125.1 476.40v4.20M138.3 476.40v4.20M155.2 476.40v4.20M174.5 476.40v4.20M119.8 476.40v4.20M136.6 476.40v4.20M124.3 476.40v4.20M176.2 476.40v4.20M119.5 476.40v4.20M113.4 476.40v4.20M113.9 476.40v4.20M136.6 476.40v4.20M171.1 476.40v4.20M170.1 476.40v4.20M159.8 476.40v4.20M177.8 476.40v4.20M173.3 476.40v4.20M132.3 476.40v4.20M122.5 476.40v4.20M173.6 476.40v4.20M160.7 476.40v4.20M112.0 476.40v4.20M155.1 476.40v4.20M135.6 476.40v4.20M135.3 476.40v4.20M132.4 476.40v4.20M121.4 476.40v4.20M110.0 476.40v4.20M128.9 476.40v4.20M133.8 476.40v4.20M175.0 476.40v4.20M118.3 476.40v4.20" stroke="#F8766D" stroke-width="0.45" stroke-opacity="0.8" fill="none"/>
<path d="M63.0 480.60v4.20M34.4 480.60v4.20M40.0 480.60v4.20M57.6 480.60v4.20M57.6 480.60v4.20M42.9 480.60v4.20M28.4 480.60v4.20M44.4 480.60v4.20M40.6 480.60v4.20M61.3 480.60v4.20M33.8 480.60v4.20M40.3 480.60v4.20M60.5 480.60v4.20M27.6 480.60v4.20M42.1 480.60v4.20M57.2 480.60v4.20M55.5 480.60v4.20M28.0 480.60v4.20M27.8 480.60v4.20M28.9 480.60v4.20M61.3 480.60v4.20M36.2 480.60v4.20M54.8 480.60v4.20M60.5 480.60v4.20M39.3 480.60v4.20M36.8 480.60v4.20M62.8 480.60v4.20M49.9 480.60v4.20M36.4 480.60v4.20M53.6 480.60v4.20M38.5 480.60v4.20M36.9 480.60v4.20M64.8 480.60v4.20M150.2 480.60v4.20M168.5 480.60v4.20M136.4 480.60v4.20M171.6 480.60v4.20M67.1 480.60v4.20M90.9 480.60v4.20M118.4 480.60v4.20M173.1 480.60v4.20M172.8 480.60v4.20M108.3 480.60v4.20M92.9 480.60v4.20M113.2 480.60v4.20M120.4 480.60v4.20M169.8 480.60v4.20M85.2 480.60v4.20M155.6 480.60v4.20M148.3 480.60v4.20M157.9 480.60v4.20M152.2 480.60v4.20M133.4 480.60v4.20M101.6 480.60v4.20M100.7 480.60v4.20M105.5 480.60v4.20M153.3 480.60v4.20M73.4 480.60v4.20M86.8 480.60v4.20M149.9 480.60v4.20M92.5 480.60v4.20M71.7 480.60v4.20M68.2 480.60v4.20M127.2 480.60v4.20M101.4 480.60v4.20M175.8 480.60v4.20M164.8 480.60v4.20M176.6 480.60v4.20M94.5 480.60v4.20M73.9 480.60v4.20M75.3 480.60v4.20M121.0 480.60v4.20M145.0 480.60v4.20M115.2 480.60v4.20M91.0 480.60v4.20M111.7 480.60v4.20M134.9 480.60v4.20M141.0 480.60v4.20M149.4 480.60v4.20M160.6 480.60v4.20" stroke="#00B0F6" stroke-width="0.45" stroke-opacity="0.8" fill="none"/>
<path d="M132.2 484.80v4.20M58.2 484.80v4.20M156.3 484.80v4.20M81.7 484.80v4.20M118.9 484.80v4.20M92.5 484.80v4.20M142.3 484.80v4.20M68.8 484.80v4.20M75.4 484.80v4.20M75.1 484.80v4.20M62.6 484.80v4.20M162.2 484.80v4.20M120.5 484.80v4.20M86.1 484.80v4.20M95.7 484.80v4.20M177.0 484.80v4.20M110.8 484.80v4.20M73.2 484.80v4.20M151.9 484.80v4.20M130.7 484.80v4.20M176.8 484.80v4.20M55.6 484.80v4.20M106.4 484.80v4.20M153.3 484.80v4.20M156.3 484.80v4.20M166.3 484.80v4.20M47.2 484.80v4.20M81.7 484.80v4.20M57.9 484.80v4.20M67.5 484.80v4.20M174.3 484.80v4.20M121.2 484.80v4.20M168.5 484.80v4.20M92.4 484.80v4.20M159.7 484.80v4.20M102.9 484.80v4.20" stroke="#E76BF3" stroke-width="0.45" stroke-opacity="0.8" fill="none"/>
<path d="M26.5 401.4V489.4H178.0" stroke="#9a9a9a" stroke-width="0.7" fill="none"/>
<text x="26.6" y="397.8" font-family='"Liberation Sans", sans-serif' font-size="7.6" fill="#000" text-anchor="start" stroke="#000" stroke-width="0.08" textLength="29.6" lengthAdjust="spacingAndGlyphs">Myeloid</text>
<g font-family='"Liberation Sans", sans-serif' font-size="4.5" fill="#1a1a1a" stroke="#1a1a1a" stroke-width="0.1" text-anchor="end">
<text x="25.1" y="403.6">0.50</text>
<text x="25.1" y="416.7">0.25</text>
<text x="25.1" y="429.5">0.0</text>
<text x="25.1" y="442.8">-0.25</text>
<text x="25.1" y="455.3">-0.50</text>
<text x="25.1" y="468.2">-0.75</text>
</g>
<g font-family='"Liberation Sans", sans-serif' font-size="5.2" fill="#1a1a1a" stroke="#1a1a1a" stroke-width="0.08" text-anchor="middle">
<text x="82.8" y="495.0">5,000</text><text x="139.3" y="495.0">10,000</text>
</g>
<text transform="translate(12.4,443.2) rotate(-90)" font-family='"Liberation Sans", sans-serif' font-size="5.8" fill="#2a2a2a" stroke="#2a2a2a" stroke-width="0.1" text-anchor="middle" textLength="74" lengthAdjust="spacing">Running enrichment score</text>
<path d="M54.55 503.5V591.8M82.80 503.5V591.8M111.05 503.5V591.8M139.30 503.5V591.8M167.55 503.5V591.8" stroke="#ebebeb" stroke-width="0.5" fill="none"/>
<polyline points="26.5,542.4 27.1,538.9 27.7,535.9 28.3,533.6 28.9,530.9 29.5,528.4 30.1,525.8 30.7,523.5 31.3,521.2 31.9,519.8 32.5,518.2 33.1,517.3 33.7,515.3 34.3,514.0 34.9,513.0 35.5,512.6 36.1,511.4 36.7,511.1 37.3,510.3 37.9,510.1 38.5,509.0 39.1,508.9 39.7,508.7 40.3,508.1 40.9,507.7 41.5,508.0 42.1,507.0 42.7,506.9 43.3,507.2 43.9,507.2 44.5,506.6 45.1,506.1 45.7,506.0 46.3,505.9 46.9,506.0 47.5,506.3 48.1,506.1 48.7,506.0 49.3,505.7 49.9,506.0 50.5,506.0 51.1,506.1 51.7,505.9 52.3,505.9 52.9,506.3 53.5,506.5 54.1,506.1 54.7,506.4 55.3,506.6 55.9,506.8 56.5,507.0 57.1,506.6 57.7,507.0 58.3,506.5 58.9,506.4 59.5,507.0 60.1,507.3 60.7,507.0 61.3,507.4 61.9,507.7 62.5,507.8 63.1,508.0 63.7,508.4 64.3,508.2 64.9,508.3 65.5,508.7 66.1,509.0 66.7,508.9 67.3,509.5 67.9,509.5 68.5,509.4 69.1,509.7 69.7,509.7 70.3,510.3 70.9,510.4 71.5,511.0 72.1,510.1 72.7,510.7 73.3,511.1 73.9,511.5 74.5,511.5 75.1,511.6 75.7,512.1 76.3,512.1 76.9,512.5 77.5,512.9 78.1,513.1 78.7,512.7 79.3,513.1 79.9,513.6 80.5,513.7 81.1,513.7 81.7,514.3 82.3,514.3 82.9,514.6 83.5,514.9 84.1,514.8 84.7,515.3 85.3,515.3 85.9,515.5 86.5,515.9 87.1,515.4 87.7,515.6 88.3,515.9 88.9,516.5 89.5,516.5 90.1,516.6 90.7,516.6 91.3,516.6 91.9,517.3 92.5,517.4 93.1,517.7 93.7,518.0 94.3,518.0 94.9,518.5 95.5,518.2 96.1,518.9 96.7,518.8 97.3,518.7 97.9,519.1 98.5,519.7 99.1,519.1 99.7,519.4 100.3,519.7 100.9,520.0 101.5,520.1 102.1,520.8 102.7,520.4 103.3,520.8 103.9,520.7 104.5,520.7 105.1,521.2 105.7,521.3 106.3,521.7 106.9,522.1 107.5,521.8 108.1,522.4 108.7,522.0 109.3,522.9 109.9,522.3 110.5,522.7 111.1,523.1 111.7,523.1 112.3,523.1 112.9,523.7 113.5,523.5 114.1,524.1 114.7,523.7 115.3,524.5 115.9,524.6 116.5,524.7 117.1,525.0 117.7,524.9 118.3,525.1 118.9,525.6 119.5,525.3 120.1,525.6 120.7,525.8 121.3,526.0 121.9,526.2 122.5,525.8 123.1,526.6 123.7,526.8 124.3,527.3 124.9,527.3 125.5,527.2 126.1,527.4 126.7,527.5 127.3,527.8 127.9,527.9 128.5,528.5 129.1,528.5 129.7,528.7 130.3,528.7 130.9,528.9 131.5,529.3 132.1,529.1 132.7,529.6 133.3,529.9 133.9,529.7 134.5,530.0 135.1,530.0 135.7,530.8 136.3,530.7 136.9,531.0 137.5,530.9 138.1,530.9 138.7,531.3 139.3,531.8 139.9,532.1 140.5,532.0 141.1,532.0 141.7,532.3 142.3,532.7 142.9,532.3 143.5,533.0 144.1,532.7 144.7,533.2 145.3,533.5 145.9,533.5 146.5,533.7 147.1,534.1 147.7,533.9 148.3,534.1 148.9,534.1 149.5,534.6 150.1,534.9 150.7,534.9 151.3,534.6 151.9,535.3 152.5,535.6 153.1,535.4 153.7,535.7 154.3,535.9 154.9,535.9 155.5,536.3 156.1,536.4 156.7,536.3 157.3,536.1 157.9,536.7 158.5,537.4 159.1,537.5 159.7,537.3 160.3,537.3 160.9,538.1 161.5,538.1 162.1,538.4 162.7,538.7 163.3,538.5 163.9,538.6 164.5,538.6 165.1,538.9 165.7,538.8 166.3,539.5 166.9,539.4 167.5,540.0 168.1,539.7 168.7,540.0 169.3,539.9 169.9,540.5 170.5,540.3 171.1,541.0 171.7,541.0 172.3,540.6 172.9,540.9 173.5,541.4 174.1,541.6 174.7,542.3 175.3,541.8 175.9,542.1 176.5,542.4 177.1,542.6 177.7,543.2 178.6,543.1" stroke="#A3A500" stroke-width="0.85" fill="none" stroke-linejoin="round"/>
<polyline points="26.5,542.4 27.1,539.6 27.7,537.7 28.3,535.4 28.9,533.3 29.5,530.4 30.1,528.9 30.7,526.5 31.3,525.0 31.9,523.2 32.5,521.6 33.1,520.0 33.7,519.2 34.3,516.8 34.9,516.8 35.5,515.8 36.1,514.7 36.7,514.4 37.3,513.7 37.9,512.8 38.5,512.6 39.1,512.4 39.7,511.9 40.3,511.3 40.9,511.3 41.5,511.1 42.1,510.9 42.7,510.5 43.3,510.6 43.9,509.9 44.5,509.8 45.1,509.4 45.7,509.5 46.3,509.4 46.9,509.3 47.5,508.9 48.1,509.4 48.7,508.6 49.3,508.8 49.9,508.3 50.5,509.4 51.1,509.3 51.7,509.1 52.3,509.3 52.9,509.0 53.5,509.1 54.1,509.2 54.7,509.6 55.3,509.5 55.9,509.8 56.5,509.5 57.1,509.5 57.7,510.1 58.3,510.2 58.9,510.3 59.5,510.2 60.1,510.5 60.7,510.2 61.3,510.4 61.9,511.0 62.5,510.8 63.1,510.9 63.7,511.1 64.3,511.9 64.9,511.6 65.5,511.9 66.1,512.0 66.7,512.9 67.3,512.4 67.9,512.9 68.5,513.0 69.1,513.1 69.7,513.2 70.3,513.0 70.9,513.7 71.5,514.4 72.1,514.2 72.7,514.8 73.3,514.6 73.9,514.9 74.5,514.7 75.1,515.0 75.7,515.4 76.3,515.8 76.9,515.4 77.5,515.6 78.1,516.1 78.7,516.3 79.3,516.7 79.9,517.2 80.5,516.8 81.1,517.7 81.7,517.5 82.3,517.6 82.9,517.3 83.5,518.4 84.1,518.6 84.7,518.5 85.3,518.7 85.9,518.6 86.5,518.4 87.1,518.9 87.7,518.9 88.3,519.1 88.9,519.4 89.5,519.7 90.1,520.1 90.7,520.5 91.3,520.3 91.9,520.8 92.5,520.7 93.1,520.9 93.7,521.2 94.3,521.2 94.9,521.6 95.5,521.6 96.1,521.7 96.7,521.9 97.3,522.7 97.9,522.5 98.5,522.5 99.1,522.9 99.7,522.8 100.3,523.1 100.9,523.3 101.5,523.2 102.1,523.8 102.7,524.1 103.3,524.2 103.9,524.3 104.5,524.8 105.1,524.5 105.7,525.2 106.3,525.4 106.9,525.4 107.5,525.9 108.1,525.5 108.7,525.9 109.3,526.0 109.9,526.0 110.5,526.3 111.1,526.7 111.7,526.9 112.3,527.1 112.9,527.0 113.5,527.3 114.1,527.5 114.7,527.5 115.3,527.9 115.9,527.5 116.5,527.9 117.1,528.3 117.7,528.5 118.3,528.9 118.9,528.8 119.5,529.5 120.1,528.9 120.7,529.9 121.3,529.4 121.9,529.5 122.5,529.8 123.1,530.0 123.7,530.2 124.3,530.4 124.9,530.8 125.5,531.0 126.1,530.7 126.7,531.5 127.3,531.4 127.9,531.5 128.5,531.9 129.1,531.8 129.7,532.4 130.3,531.9 130.9,532.6 131.5,532.4 132.1,532.8 132.7,532.7 133.3,533.4 133.9,533.3 134.5,533.5 135.1,533.2 135.7,533.3 136.3,533.9 136.9,534.4 137.5,534.2 138.1,533.9 138.7,534.9 139.3,534.5 139.9,535.0 140.5,534.7 141.1,534.9 141.7,535.3 142.3,534.7 142.9,535.3 143.5,535.6 144.1,535.8 144.7,535.6 145.3,536.4 145.9,536.3 146.5,536.4 147.1,536.1 147.7,536.7 148.3,537.1 148.9,537.3 149.5,537.3 150.1,537.3 150.7,537.4 151.3,537.7 151.9,537.9 152.5,537.8 153.1,538.0 153.7,538.3 154.3,538.3 154.9,538.5 155.5,538.6 156.1,538.5 156.7,539.3 157.3,539.2 157.9,539.0 158.5,539.1 159.1,539.3 159.7,539.5 160.3,539.5 160.9,539.9 161.5,539.9 162.1,539.9 162.7,540.7 163.3,540.3 163.9,540.6 164.5,540.3 165.1,540.5 165.7,540.7 166.3,541.3 166.9,541.3 167.5,541.2 168.1,541.3 168.7,541.6 169.3,541.4 169.9,541.7 170.5,542.1 171.1,541.7 171.7,542.2 172.3,542.1 172.9,542.3 173.5,542.3 174.1,542.7 174.7,542.8 175.3,542.8 175.9,542.3 176.5,542.8 177.1,543.1 177.7,542.7 178.6,543.1" stroke="#00BF7D" stroke-width="0.85" fill="none" stroke-linejoin="round"/>
<polyline points="26.5,542.4 27.1,541.5 27.7,541.2 28.3,540.3 28.9,539.9 29.5,539.4 30.1,538.7 30.7,539.1 31.3,538.4 31.9,537.8 32.5,537.7 33.1,537.4 33.7,536.9 34.3,537.4 34.9,537.0 35.5,536.9 36.1,536.8 36.7,536.8 37.3,536.8 37.9,536.6 38.5,536.6 39.1,536.6 39.7,536.2 40.3,536.5 40.9,537.0 41.5,537.2 42.1,537.0 42.7,536.9 43.3,537.6 43.9,537.3 44.5,537.5 45.1,537.6 45.7,537.6 46.3,538.7 46.9,538.3 47.5,537.7 48.1,538.3 48.7,538.1 49.3,538.9 49.9,538.6 50.5,538.6 51.1,539.0 51.7,539.4 52.3,538.9 52.9,539.2 53.5,539.1 54.1,539.6 54.7,539.6 55.3,539.7 55.9,539.6 56.5,540.3 57.1,540.0 57.7,540.5 58.3,540.7 58.9,540.3 59.5,540.7 60.1,540.9 60.7,540.8 61.3,541.2 61.9,541.5 62.5,541.1 63.1,541.6 63.7,542.0 64.3,541.9 64.9,542.1 65.5,542.1 66.1,542.6 66.7,542.8 67.3,542.9 67.9,543.4 68.5,543.2 69.1,543.3 69.7,544.0 70.3,543.9 70.9,544.2 71.5,544.4 72.1,544.1 72.7,544.1 73.3,545.0 73.9,544.2 74.5,544.7 75.1,545.4 75.7,545.0 76.3,545.6 76.9,545.3 77.5,546.3 78.1,545.9 78.7,546.2 79.3,545.9 79.9,546.6 80.5,546.7 81.1,546.6 81.7,547.1 82.3,547.0 82.9,547.3 83.5,547.3 84.1,547.5 84.7,547.5 85.3,548.1 85.9,548.1 86.5,548.1 87.1,548.9 87.7,548.7 88.3,548.8 88.9,548.9 89.5,549.5 90.1,549.5 90.7,549.4 91.3,549.7 91.9,550.1 92.5,550.2 93.1,550.7 93.7,550.8 94.3,551.3 94.9,550.8 95.5,551.1 96.1,551.3 96.7,551.5 97.3,551.8 97.9,551.9 98.5,552.4 99.1,552.0 99.7,552.6 100.3,552.9 100.9,553.2 101.5,553.1 102.1,553.4 102.7,553.5 103.3,553.9 103.9,553.9 104.5,554.3 105.1,554.7 105.7,555.1 106.3,554.7 106.9,555.2 107.5,555.2 108.1,555.5 108.7,555.5 109.3,555.8 109.9,556.2 110.5,556.2 111.1,556.3 111.7,556.9 112.3,556.9 112.9,557.0 113.5,557.3 114.1,557.4 114.7,557.5 115.3,558.0 115.9,558.0 116.5,558.0 117.1,558.7 117.7,558.6 118.3,558.5 118.9,559.0 119.5,559.1 120.1,559.5 120.7,559.3 121.3,559.7 121.9,559.6 122.5,559.9 123.1,560.4 123.7,560.5 124.3,561.2 124.9,560.8 125.5,561.2 126.1,561.1 126.7,561.9 127.3,561.8 127.9,561.6 128.5,562.2 129.1,562.2 129.7,563.0 130.3,562.9 130.9,562.6 131.5,563.1 132.1,563.2 132.7,563.2 133.3,563.3 133.9,563.5 134.5,563.4 135.1,563.9 135.7,563.8 136.3,564.1 136.9,564.1 137.5,564.2 138.1,565.0 138.7,564.7 139.3,564.9 139.9,565.5 140.5,564.9 141.1,564.9 141.7,564.7 142.3,564.8 142.9,565.4 143.5,564.9 144.1,564.8 144.7,565.3 145.3,565.3 145.9,565.7 146.5,564.9 147.1,565.5 147.7,564.7 148.3,565.6 148.9,565.4 149.5,565.1 150.1,565.6 150.7,565.3 151.3,565.4 151.9,565.3 152.5,565.6 153.1,565.5 153.7,565.1 154.3,565.1 154.9,565.1 155.5,565.5 156.1,565.4 156.7,565.4 157.3,565.2 157.9,565.1 158.5,565.3 159.1,565.4 159.7,565.3 160.3,565.4 160.9,565.3 161.5,564.6 162.1,565.2 162.7,564.7 163.3,564.3 163.9,564.1 164.5,564.0 165.1,563.5 165.7,563.3 166.3,563.3 166.9,563.0 167.5,562.2 168.1,562.9 168.7,562.1 169.3,562.4 169.9,562.1 170.5,561.8 171.1,561.9 171.7,561.3 172.3,560.9 172.9,560.9 173.5,560.5 174.1,559.9 174.7,559.3 175.3,558.5 175.9,557.8 176.5,556.6 177.1,554.9 177.7,550.7 178.6,543.1" stroke="#00B0F6" stroke-width="0.85" fill="none" stroke-linejoin="round"/>
<polyline points="26.5,542.4 27.1,542.4 27.7,542.1 28.3,541.9 28.9,541.6 29.5,541.5 30.1,541.3 30.7,541.0 31.3,540.8 31.9,540.7 32.5,540.5 33.1,540.0 33.7,539.9 34.3,539.3 34.9,539.2 35.5,538.8 36.1,539.1 36.7,539.2 37.3,539.3 37.9,538.9 38.5,539.5 39.1,539.2 39.7,539.4 40.3,539.5 40.9,540.1 41.5,539.9 42.1,540.5 42.7,540.3 43.3,540.1 43.9,540.4 44.5,540.7 45.1,540.3 45.7,540.5 46.3,540.7 46.9,540.7 47.5,540.8 48.1,541.4 48.7,541.1 49.3,541.1 49.9,541.2 50.5,541.1 51.1,541.7 51.7,541.4 52.3,542.5 52.9,541.9 53.5,541.8 54.1,541.7 54.7,542.0 55.3,542.3 55.9,542.2 56.5,542.6 57.1,542.7 57.7,542.7 58.3,542.8 58.9,542.8 59.5,542.8 60.1,542.7 60.7,542.7 61.3,543.1 61.9,543.5 62.5,543.4 63.1,543.3 63.7,543.9 64.3,543.5 64.9,543.6 65.5,543.8 66.1,543.9 66.7,544.2 67.3,544.0 67.9,544.1 68.5,544.7 69.1,544.8 69.7,545.0 70.3,545.2 70.9,545.1 71.5,545.7 72.1,545.3 72.7,545.5 73.3,546.0 73.9,545.9 74.5,545.9 75.1,546.1 75.7,546.0 76.3,546.6 76.9,546.6 77.5,546.9 78.1,547.2 78.7,547.3 79.3,547.3 79.9,547.5 80.5,547.6 81.1,548.2 81.7,547.5 82.3,548.0 82.9,548.1 83.5,548.5 84.1,548.6 84.7,548.8 85.3,549.4 85.9,549.2 86.5,549.5 87.1,549.3 87.7,549.5 88.3,549.5 88.9,550.3 89.5,549.9 90.1,550.2 90.7,551.0 91.3,550.8 91.9,550.9 92.5,551.0 93.1,551.0 93.7,551.5 94.3,551.8 94.9,551.6 95.5,551.8 96.1,552.5 96.7,552.2 97.3,552.7 97.9,553.2 98.5,552.7 99.1,553.0 99.7,553.0 100.3,552.9 100.9,553.9 101.5,553.9 102.1,553.9 102.7,554.3 103.3,554.2 103.9,554.2 104.5,554.5 105.1,554.7 105.7,554.8 106.3,555.5 106.9,555.2 107.5,555.4 108.1,555.8 108.7,556.1 109.3,556.6 109.9,556.4 110.5,556.2 111.1,556.5 111.7,557.1 112.3,556.9 112.9,557.4 113.5,557.9 114.1,557.3 114.7,557.4 115.3,557.9 115.9,558.1 116.5,558.5 117.1,558.1 117.7,558.8 118.3,558.8 118.9,558.6 119.5,559.1 120.1,559.4 120.7,559.9 121.3,559.5 121.9,560.0 122.5,559.7 123.1,560.4 123.7,560.4 124.3,560.9 124.9,560.4 125.5,560.6 126.1,560.6 126.7,561.6 127.3,561.2 127.9,561.0 128.5,561.5 129.1,562.0 129.7,562.1 130.3,562.2 130.9,561.9 131.5,562.3 132.1,562.0 132.7,562.3 133.3,562.9 133.9,563.1 134.5,563.0 135.1,562.7 135.7,563.0 136.3,563.3 136.9,563.9 137.5,563.5 138.1,563.5 138.7,563.7 139.3,563.9 139.9,564.0 140.5,564.2 141.1,564.9 141.7,564.3 142.3,564.0 142.9,564.8 143.5,564.4 144.1,564.4 144.7,564.5 145.3,564.7 145.9,564.5 146.5,564.5 147.1,564.3 147.7,564.2 148.3,563.8 148.9,563.7 149.5,563.7 150.1,563.6 150.7,563.2 151.3,563.3 151.9,563.8 152.5,563.7 153.1,563.7 153.7,563.5 154.3,563.3 154.9,563.4 155.5,563.1 156.1,562.8 156.7,562.7 157.3,562.7 157.9,562.6 158.5,562.4 159.1,562.2 159.7,562.2 160.3,561.9 160.9,562.5 161.5,561.9 162.1,561.2 162.7,561.7 163.3,561.2 163.9,561.2 164.5,561.0 165.1,561.1 165.7,560.7 166.3,560.6 166.9,560.2 167.5,560.6 168.1,559.8 168.7,559.3 169.3,559.0 169.9,559.0 170.5,558.6 171.1,558.4 171.7,558.0 172.3,557.1 172.9,556.9 173.5,556.0 174.1,555.3 174.7,554.4 175.3,553.7 175.9,552.3 176.5,550.6 177.1,548.7 177.7,546.1 178.6,543.1" stroke="#F8766D" stroke-width="0.85" fill="none" stroke-linejoin="round"/>
<polyline points="26.5,542.4 27.1,542.9 27.7,542.9 28.3,543.1 28.9,543.7 29.5,544.5 30.1,544.1 30.7,544.0 31.3,543.9 31.9,544.6 32.5,544.8 33.1,544.6 33.7,544.7 34.3,544.4 34.9,544.8 35.5,544.5 36.1,543.9 36.7,544.0 37.3,544.3 37.9,543.9 38.5,543.2 39.1,543.6 39.7,543.6 40.3,543.1 40.9,543.9 41.5,544.3 42.1,544.0 42.7,544.0 43.3,544.4 43.9,544.5 44.5,544.8 45.1,545.2 45.7,544.8 46.3,545.3 46.9,546.0 47.5,545.6 48.1,545.9 48.7,546.1 49.3,545.9 49.9,545.9 50.5,547.0 51.1,546.6 51.7,546.5 52.3,547.1 52.9,546.9 53.5,546.9 54.1,547.1 54.7,547.0 55.3,547.2 55.9,547.8 56.5,547.7 57.1,547.7 57.7,548.2 58.3,548.2 58.9,548.0 59.5,547.9 60.1,548.2 60.7,548.8 61.3,548.4 61.9,549.3 62.5,548.9 63.1,548.8 63.7,549.3 64.3,550.0 64.9,549.8 65.5,550.4 66.1,550.8 66.7,550.8 67.3,551.4 67.9,551.7 68.5,551.7 69.1,551.1 69.7,551.6 70.3,551.7 70.9,551.7 71.5,551.9 72.1,551.5 72.7,551.4 73.3,550.8 73.9,551.0 74.5,551.5 75.1,550.9 75.7,551.2 76.3,550.8 76.9,551.3 77.5,551.2 78.1,551.8 78.7,551.9 79.3,552.2 79.9,552.0 80.5,552.7 81.1,553.2 81.7,552.5 82.3,553.4 82.9,553.9 83.5,554.3 84.1,554.5 84.7,554.8 85.3,554.9 85.9,555.1 86.5,555.1 87.1,555.2 87.7,555.1 88.3,555.5 88.9,555.6 89.5,556.2 90.1,555.6 90.7,556.1 91.3,556.1 91.9,556.3 92.5,556.7 93.1,556.5 93.7,556.4 94.3,556.7 94.9,557.1 95.5,557.0 96.1,557.2 96.7,556.8 97.3,557.5 97.9,557.2 98.5,557.2 99.1,557.7 99.7,557.3 100.3,557.9 100.9,558.3 101.5,557.9 102.1,557.9 102.7,558.6 103.3,558.6 103.9,558.7 104.5,558.2 105.1,558.5 105.7,559.3 106.3,558.8 106.9,559.0 107.5,559.2 108.1,559.4 108.7,559.4 109.3,558.9 109.9,559.8 110.5,559.5 111.1,560.2 111.7,560.3 112.3,559.9 112.9,560.3 113.5,560.8 114.1,560.9 114.7,560.9 115.3,560.6 115.9,561.0 116.5,560.8 117.1,561.5 117.7,561.4 118.3,561.8 118.9,560.9 119.5,561.6 120.1,561.7 120.7,561.9 121.3,561.9 121.9,562.5 122.5,562.3 123.1,563.1 123.7,562.7 124.3,562.9 124.9,563.0 125.5,563.5 126.1,563.6 126.7,563.4 127.3,563.1 127.9,563.9 128.5,563.9 129.1,564.2 129.7,564.1 130.3,564.6 130.9,564.3 131.5,564.8 132.1,564.7 132.7,565.1 133.3,565.0 133.9,565.3 134.5,565.1 135.1,565.3 135.7,565.2 136.3,565.2 136.9,565.6 137.5,565.7 138.1,566.2 138.7,566.0 139.3,566.4 139.9,566.5 140.5,566.1 141.1,565.9 141.7,566.1 142.3,566.5 142.9,566.2 143.5,566.5 144.1,566.2 144.7,566.3 145.3,566.5 145.9,566.4 146.5,566.3 147.1,566.2 147.7,566.3 148.3,566.1 148.9,566.3 149.5,565.8 150.1,566.6 150.7,565.9 151.3,565.5 151.9,565.2 152.5,565.3 153.1,565.5 153.7,565.2 154.3,565.5 154.9,564.9 155.5,564.4 156.1,564.2 156.7,563.8 157.3,563.4 157.9,562.7 158.5,562.5 159.1,561.6 159.7,561.8 160.3,561.4 160.9,561.2 161.5,560.9 162.1,560.9 162.7,560.9 163.3,560.3 163.9,560.9 164.5,560.5 165.1,560.5 165.7,560.6 166.3,559.7 166.9,559.6 167.5,559.1 168.1,558.5 168.7,557.0 169.3,555.7 169.9,555.1 170.5,553.5 171.1,552.7 171.7,551.9 172.3,551.1 172.9,549.5 173.5,549.2 174.1,548.6 174.7,548.1 175.3,547.1 175.9,546.6 176.5,546.2 177.1,545.4 177.7,544.4 178.6,543.1" stroke="#E76BF3" stroke-width="0.85" fill="none" stroke-linejoin="round"/>
<path d="M33.2 570.50v4.18M46.7 570.50v4.18M51.0 570.50v4.18M29.2 570.50v4.18M42.0 570.50v4.18M42.6 570.50v4.18M32.1 570.50v4.18M36.1 570.50v4.18M30.2 570.50v4.18M31.8 570.50v4.18M33.1 570.50v4.18M42.1 570.50v4.18M43.4 570.50v4.18M31.8 570.50v4.18M26.8 570.50v4.18M35.0 570.50v4.18M44.1 570.50v4.18M31.3 570.50v4.18M34.6 570.50v4.18M31.8 570.50v4.18M47.1 570.50v4.18M40.7 570.50v4.18M28.1 570.50v4.18M29.1 570.50v4.18M36.8 570.50v4.18M40.8 570.50v4.18M43.1 570.50v4.18M28.9 570.50v4.18M30.7 570.50v4.18M44.6 570.50v4.18M37.1 570.50v4.18M33.9 570.50v4.18M34.5 570.50v4.18M51.2 570.50v4.18M34.6 570.50v4.18M41.2 570.50v4.18M35.8 570.50v4.18M37.3 570.50v4.18M48.9 570.50v4.18M52.4 570.50v4.18M35.9 570.50v4.18M31.6 570.50v4.18M45.4 570.50v4.18M31.8 570.50v4.18M26.7 570.50v4.18M49.9 570.50v4.18M37.5 570.50v4.18M47.8 570.50v4.18M37.0 570.50v4.18M49.4 570.50v4.18M38.5 570.50v4.18M30.7 570.50v4.18M26.9 570.50v4.18M40.8 570.50v4.18M43.1 570.50v4.18M50.1 570.50v4.18M28.8 570.50v4.18M42.7 570.50v4.18M36.1 570.50v4.18M39.6 570.50v4.18M30.3 570.50v4.18M33.9 570.50v4.18M40.0 570.50v4.18M50.5 570.50v4.18M29.3 570.50v4.18M39.2 570.50v4.18M47.4 570.50v4.18M51.6 570.50v4.18M31.6 570.50v4.18M29.8 570.50v4.18M51.0 570.50v4.18M51.8 570.50v4.18M39.0 570.50v4.18M27.9 570.50v4.18M50.5 570.50v4.18M36.6 570.50v4.18M50.0 570.50v4.18M42.6 570.50v4.18M47.9 570.50v4.18M30.7 570.50v4.18M46.9 570.50v4.18M32.3 570.50v4.18M37.0 570.50v4.18M48.5 570.50v4.18M48.0 570.50v4.18M31.2 570.50v4.18M32.2 570.50v4.18M36.9 570.50v4.18M39.9 570.50v4.18M36.5 570.50v4.18M29.7 570.50v4.18M32.9 570.50v4.18M45.3 570.50v4.18M49.8 570.50v4.18M27.6 570.50v4.18M41.1 570.50v4.18M73.3 570.50v4.18M53.5 570.50v4.18M75.5 570.50v4.18M55.7 570.50v4.18M68.9 570.50v4.18M67.6 570.50v4.18M69.7 570.50v4.18M60.9 570.50v4.18M64.0 570.50v4.18M68.5 570.50v4.18M64.2 570.50v4.18M70.6 570.50v4.18M64.7 570.50v4.18M64.5 570.50v4.18M82.3 570.50v4.18M141.4 570.50v4.18M128.5 570.50v4.18M103.3 570.50v4.18M155.7 570.50v4.18M157.4 570.50v4.18M125.4 570.50v4.18M97.8 570.50v4.18M126.9 570.50v4.18M90.6 570.50v4.18M92.7 570.50v4.18M122.7 570.50v4.18M89.0 570.50v4.18M123.8 570.50v4.18M130.6 570.50v4.18M84.0 570.50v4.18M143.1 570.50v4.18" stroke="#A3A500" stroke-width="0.45" stroke-opacity="0.8" fill="none"/>
<path d="M27.6 574.68v4.18M36.6 574.68v4.18M37.2 574.68v4.18M33.5 574.68v4.18M27.2 574.68v4.18M33.4 574.68v4.18M31.7 574.68v4.18M39.6 574.68v4.18M28.4 574.68v4.18M38.3 574.68v4.18M40.2 574.68v4.18M36.6 574.68v4.18M37.7 574.68v4.18M29.2 574.68v4.18M40.0 574.68v4.18M33.3 574.68v4.18M39.6 574.68v4.18M39.1 574.68v4.18M28.8 574.68v4.18M37.3 574.68v4.18M39.3 574.68v4.18M27.4 574.68v4.18M31.3 574.68v4.18M36.9 574.68v4.18M28.7 574.68v4.18M38.8 574.68v4.18M30.3 574.68v4.18M37.7 574.68v4.18M28.5 574.68v4.18M33.4 574.68v4.18M39.1 574.68v4.18M29.4 574.68v4.18M30.1 574.68v4.18M33.5 574.68v4.18M30.9 574.68v4.18M27.0 574.68v4.18M29.0 574.68v4.18M28.7 574.68v4.18M39.4 574.68v4.18M35.8 574.68v4.18M38.8 574.68v4.18M28.8 574.68v4.18M37.3 574.68v4.18M28.1 574.68v4.18M33.8 574.68v4.18M35.2 574.68v4.18M31.4 574.68v4.18M38.5 574.68v4.18M34.1 574.68v4.18M34.5 574.68v4.18M38.6 574.68v4.18M27.9 574.68v4.18M40.1 574.68v4.18M35.2 574.68v4.18M31.9 574.68v4.18M37.5 574.68v4.18M77.0 574.68v4.18M177.9 574.68v4.18M120.5 574.68v4.18M90.3 574.68v4.18M146.5 574.68v4.18M101.7 574.68v4.18M64.8 574.68v4.18M143.6 574.68v4.18M47.0 574.68v4.18M154.2 574.68v4.18M75.5 574.68v4.18M129.1 574.68v4.18M177.0 574.68v4.18M121.7 574.68v4.18M132.5 574.68v4.18M83.7 574.68v4.18M40.5 574.68v4.18M44.9 574.68v4.18M61.0 574.68v4.18M125.8 574.68v4.18M100.3 574.68v4.18M111.5 574.68v4.18M164.7 574.68v4.18M58.6 574.68v4.18M71.8 574.68v4.18M131.0 574.68v4.18M43.3 574.68v4.18M40.6 574.68v4.18M89.6 574.68v4.18M55.0 574.68v4.18M89.9 574.68v4.18M71.4 574.68v4.18M121.3 574.68v4.18M122.1 574.68v4.18M68.6 574.68v4.18M126.9 574.68v4.18M106.2 574.68v4.18M59.0 574.68v4.18M170.4 574.68v4.18M74.1 574.68v4.18M61.0 574.68v4.18M53.6 574.68v4.18M128.9 574.68v4.18M161.3 574.68v4.18M148.9 574.68v4.18M96.1 574.68v4.18M77.0 574.68v4.18M41.8 574.68v4.18M129.9 574.68v4.18M118.4 574.68v4.18M88.9 574.68v4.18M130.0 574.68v4.18M101.9 574.68v4.18M170.5 574.68v4.18M142.2 574.68v4.18M74.8 574.68v4.18M165.8 574.68v4.18M46.4 574.68v4.18M114.1 574.68v4.18M96.7 574.68v4.18M73.3 574.68v4.18M48.4 574.68v4.18M148.5 574.68v4.18M42.0 574.68v4.18M116.8 574.68v4.18M171.0 574.68v4.18M60.0 574.68v4.18M68.0 574.68v4.18M124.7 574.68v4.18M110.7 574.68v4.18M129.4 574.68v4.18M153.3 574.68v4.18M64.5 574.68v4.18M83.2 574.68v4.18M82.0 574.68v4.18M47.0 574.68v4.18" stroke="#00BF7D" stroke-width="0.45" stroke-opacity="0.8" fill="none"/>
<path d="M94.4 578.86v4.18M86.3 578.86v4.18M81.1 578.86v4.18M27.0 578.86v4.18M91.0 578.86v4.18M83.4 578.86v4.18M62.0 578.86v4.18M83.1 578.86v4.18M61.0 578.86v4.18M43.8 578.86v4.18M34.5 578.86v4.18M44.2 578.86v4.18M29.5 578.86v4.18M52.1 578.86v4.18M83.7 578.86v4.18M79.6 578.86v4.18M91.0 578.86v4.18M80.8 578.86v4.18M46.8 578.86v4.18M68.8 578.86v4.18M59.8 578.86v4.18M86.7 578.86v4.18M66.4 578.86v4.18M46.8 578.86v4.18M75.5 578.86v4.18M100.2 578.86v4.18M43.1 578.86v4.18M93.7 578.86v4.18M27.7 578.86v4.18M46.4 578.86v4.18M44.5 578.86v4.18M83.3 578.86v4.18M98.6 578.86v4.18M83.5 578.86v4.18M51.5 578.86v4.18M93.7 578.86v4.18M51.6 578.86v4.18M44.8 578.86v4.18M95.8 578.86v4.18M74.7 578.86v4.18M155.7 578.86v4.18M153.6 578.86v4.18M177.6 578.86v4.18M138.7 578.86v4.18M167.0 578.86v4.18M156.1 578.86v4.18M168.3 578.86v4.18M136.2 578.86v4.18M158.2 578.86v4.18M146.4 578.86v4.18M126.3 578.86v4.18M119.0 578.86v4.18M150.4 578.86v4.18M108.8 578.86v4.18M172.4 578.86v4.18M113.9 578.86v4.18M104.9 578.86v4.18M111.0 578.86v4.18M173.8 578.86v4.18M129.2 578.86v4.18M113.7 578.86v4.18M105.0 578.86v4.18M106.0 578.86v4.18M155.7 578.86v4.18M151.2 578.86v4.18M156.1 578.86v4.18M159.1 578.86v4.18M107.9 578.86v4.18M147.9 578.86v4.18M130.6 578.86v4.18M165.3 578.86v4.18M165.4 578.86v4.18M170.9 578.86v4.18M107.9 578.86v4.18M169.1 578.86v4.18M172.7 578.86v4.18M174.9 578.86v4.18M111.0 578.86v4.18M118.6 578.86v4.18M111.4 578.86v4.18M105.5 578.86v4.18M167.6 578.86v4.18M164.8 578.86v4.18M151.3 578.86v4.18M165.8 578.86v4.18M151.1 578.86v4.18M124.8 578.86v4.18M110.5 578.86v4.18M110.3 578.86v4.18M160.7 578.86v4.18M118.5 578.86v4.18M127.2 578.86v4.18M135.2 578.86v4.18M104.4 578.86v4.18M122.4 578.86v4.18M124.4 578.86v4.18M157.5 578.86v4.18M130.9 578.86v4.18M127.3 578.86v4.18M176.5 578.86v4.18M141.3 578.86v4.18M167.9 578.86v4.18M150.1 578.86v4.18M105.2 578.86v4.18M134.4 578.86v4.18M136.2 578.86v4.18M161.9 578.86v4.18M129.3 578.86v4.18M156.7 578.86v4.18M143.9 578.86v4.18M119.4 578.86v4.18M168.7 578.86v4.18M109.8 578.86v4.18M165.4 578.86v4.18M115.9 578.86v4.18M102.9 578.86v4.18M118.3 578.86v4.18M161.0 578.86v4.18M177.5 578.86v4.18M103.2 578.86v4.18M140.3 578.86v4.18M140.4 578.86v4.18M163.7 578.86v4.18M116.9 578.86v4.18M140.6 578.86v4.18M129.4 578.86v4.18M166.4 578.86v4.18M122.7 578.86v4.18" stroke="#F8766D" stroke-width="0.45" stroke-opacity="0.8" fill="none"/>
<path d="M98.6 583.04v4.18M48.2 583.04v4.18M42.9 583.04v4.18M79.9 583.04v4.18M64.5 583.04v4.18M34.9 583.04v4.18M75.1 583.04v4.18M32.7 583.04v4.18M86.7 583.04v4.18M79.7 583.04v4.18M86.6 583.04v4.18M74.4 583.04v4.18M53.7 583.04v4.18M57.1 583.04v4.18M56.6 583.04v4.18M94.5 583.04v4.18M33.1 583.04v4.18M94.3 583.04v4.18M28.4 583.04v4.18M42.2 583.04v4.18M46.6 583.04v4.18M95.3 583.04v4.18M64.8 583.04v4.18M55.5 583.04v4.18M94.0 583.04v4.18M44.3 583.04v4.18M61.7 583.04v4.18M67.1 583.04v4.18M84.1 583.04v4.18M84.0 583.04v4.18M75.8 583.04v4.18M53.1 583.04v4.18M51.4 583.04v4.18M38.4 583.04v4.18M90.9 583.04v4.18M77.1 583.04v4.18M83.2 583.04v4.18M39.4 583.04v4.18M60.0 583.04v4.18M85.6 583.04v4.18M147.1 583.04v4.18M112.5 583.04v4.18M138.1 583.04v4.18M170.4 583.04v4.18M121.0 583.04v4.18M117.5 583.04v4.18M125.9 583.04v4.18M156.5 583.04v4.18M167.3 583.04v4.18M114.7 583.04v4.18M114.8 583.04v4.18M121.8 583.04v4.18M127.8 583.04v4.18M142.7 583.04v4.18M115.1 583.04v4.18M127.9 583.04v4.18M117.3 583.04v4.18M177.3 583.04v4.18M158.5 583.04v4.18M110.6 583.04v4.18M176.3 583.04v4.18M110.6 583.04v4.18M132.2 583.04v4.18M178.0 583.04v4.18M163.5 583.04v4.18M158.8 583.04v4.18M136.1 583.04v4.18M117.8 583.04v4.18M151.6 583.04v4.18M111.0 583.04v4.18M118.6 583.04v4.18M132.5 583.04v4.18M105.4 583.04v4.18M133.3 583.04v4.18M163.2 583.04v4.18M155.8 583.04v4.18M141.1 583.04v4.18M151.1 583.04v4.18M138.2 583.04v4.18M113.7 583.04v4.18M148.9 583.04v4.18M133.7 583.04v4.18M159.4 583.04v4.18M172.2 583.04v4.18M135.7 583.04v4.18M146.7 583.04v4.18M160.0 583.04v4.18M135.0 583.04v4.18M120.3 583.04v4.18M158.0 583.04v4.18M170.0 583.04v4.18M161.9 583.04v4.18M156.3 583.04v4.18M167.9 583.04v4.18M154.7 583.04v4.18M151.8 583.04v4.18M137.5 583.04v4.18M126.7 583.04v4.18M150.8 583.04v4.18M110.3 583.04v4.18M134.9 583.04v4.18M162.6 583.04v4.18M157.3 583.04v4.18M150.9 583.04v4.18M121.9 583.04v4.18M135.2 583.04v4.18M137.6 583.04v4.18M150.3 583.04v4.18M134.1 583.04v4.18M154.4 583.04v4.18M173.9 583.04v4.18M116.8 583.04v4.18" stroke="#00B0F6" stroke-width="0.45" stroke-opacity="0.8" fill="none"/>
<path d="M131.7 587.22v4.18M148.7 587.22v4.18M95.2 587.22v4.18M109.1 587.22v4.18M175.7 587.22v4.18M47.0 587.22v4.18M116.4 587.22v4.18M63.9 587.22v4.18M149.2 587.22v4.18M171.0 587.22v4.18M113.1 587.22v4.18M55.7 587.22v4.18M120.7 587.22v4.18M116.1 587.22v4.18M140.3 587.22v4.18M112.2 587.22v4.18M129.6 587.22v4.18M155.7 587.22v4.18M113.5 587.22v4.18M98.2 587.22v4.18M172.0 587.22v4.18M70.6 587.22v4.18M135.8 587.22v4.18M95.7 587.22v4.18M146.6 587.22v4.18M58.6 587.22v4.18M177.1 587.22v4.18M90.6 587.22v4.18M49.6 587.22v4.18M79.5 587.22v4.18M96.7 587.22v4.18M43.6 587.22v4.18M99.3 587.22v4.18M99.6 587.22v4.18M137.7 587.22v4.18M90.2 587.22v4.18" stroke="#E76BF3" stroke-width="0.45" stroke-opacity="0.8" fill="none"/>
<path d="M26.5 503.5V591.8H179.2" stroke="#9a9a9a" stroke-width="0.7" fill="none"/>
<text x="26.6" y="502.3" font-family='"Liberation Sans", sans-serif' font-size="7.6" fill="#000" text-anchor="start" stroke="#000" stroke-width="0.08" textLength="15.2" lengthAdjust="spacingAndGlyphs">CD8</text>
<g font-family='"Liberation Sans", sans-serif' font-size="4.5" fill="#1a1a1a" stroke="#1a1a1a" stroke-width="0.1" text-anchor="end">
<text x="25.1" y="519.9">0.5</text>
<text x="25.1" y="543.8">0.0</text>
<text x="25.1" y="567.4">-0.5</text>
</g>
<g font-family='"Liberation Sans", sans-serif' font-size="5.2" fill="#1a1a1a" stroke="#1a1a1a" stroke-width="0.08" text-anchor="middle">
<text x="82.8" y="597.4">5,000</text><text x="139.3" y="597.4">10,000</text>
</g>
<text transform="translate(12.8,546.2) rotate(-90)" font-family='"Liberation Sans", sans-serif' font-size="5.8" fill="#2a2a2a" stroke="#2a2a2a" stroke-width="0.1" text-anchor="middle" textLength="74" lengthAdjust="spacing">Running enrichment score</text>
<path d="M330.25 298V386M358.50 298V386M386.75 298V386M415.00 298V386M443.25 298V386" stroke="#ebebeb" stroke-width="0.5" fill="none"/>
<polyline points="302.2,332.5 302.8,329.4 303.4,327.2 304.0,324.3 304.6,322.5 305.2,320.3 305.8,318.7 306.4,317.2 307.0,316.0 307.6,314.8 308.2,313.8 308.8,312.8 309.4,312.1 310.0,311.2 310.6,310.1 311.2,309.5 311.8,308.9 312.4,308.4 313.0,307.8 313.6,307.1 314.2,306.6 314.8,306.2 315.4,305.9 316.0,305.1 316.6,304.8 317.2,304.7 317.8,304.7 318.4,304.4 319.0,304.3 319.6,304.1 320.2,304.4 320.8,303.7 321.4,304.1 322.0,303.9 322.6,304.0 323.2,304.0 323.8,303.1 324.4,303.9 325.0,303.6 325.6,303.5 326.2,303.0 326.8,302.7 327.4,302.3 328.0,302.2 328.6,301.3 329.2,301.4 329.8,301.0 330.4,301.3 331.0,301.0 331.6,301.2 332.2,300.7 332.8,300.5 333.4,300.4 334.0,300.3 334.6,300.0 335.2,300.5 335.8,300.4 336.4,300.4 337.0,300.2 337.6,300.5 338.2,300.2 338.8,300.5 339.4,300.4 340.0,300.4 340.6,300.1 341.2,300.5 341.8,300.7 342.4,300.4 343.0,300.4 343.6,300.8 344.2,301.0 344.8,300.9 345.4,301.9 346.0,301.8 346.6,302.1 347.2,302.0 347.8,302.3 348.4,302.1 349.0,302.5 349.6,302.7 350.2,303.1 350.8,302.9 351.4,303.0 352.0,303.7 352.6,303.6 353.2,304.0 353.8,304.0 354.4,304.0 355.0,304.3 355.6,303.9 356.2,304.9 356.8,305.0 357.4,305.3 358.0,305.1 358.6,305.9 359.2,305.9 359.8,305.3 360.4,305.5 361.0,306.2 361.6,306.0 362.2,306.5 362.8,306.7 363.4,306.8 364.0,307.5 364.6,307.5 365.2,307.7 365.8,307.8 366.4,308.7 367.0,308.5 367.6,308.2 368.2,308.8 368.8,308.7 369.4,309.0 370.0,309.3 370.6,309.2 371.2,309.3 371.8,309.7 372.4,310.3 373.0,309.7 373.6,310.8 374.2,310.3 374.8,310.9 375.4,311.2 376.0,311.7 376.6,311.7 377.2,311.7 377.8,312.0 378.4,312.4 379.0,312.8 379.6,312.8 380.2,313.0 380.8,313.1 381.4,313.8 382.0,313.4 382.6,313.7 383.2,314.1 383.8,314.6 384.4,314.0 385.0,314.9 385.6,315.1 386.2,315.1 386.8,314.8 387.4,315.3 388.0,315.6 388.6,316.0 389.2,315.8 389.8,316.2 390.4,316.7 391.0,316.5 391.6,316.8 392.2,317.0 392.8,316.9 393.4,317.4 394.0,317.6 394.6,318.0 395.2,317.8 395.8,317.9 396.4,318.3 397.0,318.4 397.6,319.0 398.2,318.9 398.8,318.8 399.4,319.5 400.0,319.6 400.6,319.8 401.2,320.1 401.8,320.4 402.4,320.1 403.0,320.7 403.6,320.7 404.2,320.9 404.8,321.1 405.4,321.1 406.0,321.5 406.6,321.6 407.2,321.9 407.8,322.3 408.4,321.9 409.0,322.7 409.6,322.7 410.2,322.3 410.8,322.7 411.4,322.8 412.0,323.3 412.6,322.9 413.2,323.7 413.8,323.1 414.4,323.4 415.0,323.4 415.6,323.4 416.2,323.5 416.8,323.8 417.4,324.0 418.0,324.0 418.6,324.0 419.2,323.7 419.8,324.4 420.4,325.1 421.0,325.1 421.6,325.1 422.2,324.8 422.8,325.2 423.4,325.0 424.0,325.2 424.6,325.4 425.2,325.8 425.8,325.5 426.4,325.6 427.0,325.9 427.6,325.7 428.2,326.5 428.8,326.7 429.4,326.9 430.0,327.0 430.6,326.8 431.2,327.1 431.8,327.1 432.4,327.6 433.0,328.3 433.6,327.7 434.2,328.3 434.8,328.7 435.4,328.3 436.0,329.3 436.6,328.8 437.2,329.1 437.8,329.4 438.4,329.7 439.0,329.9 439.6,329.8 440.2,329.8 440.8,329.6 441.4,330.2 442.0,330.8 442.6,330.5 443.2,331.0 443.8,331.2 444.4,331.2 445.0,331.1 445.6,331.3 446.2,331.5 446.8,331.2 447.4,332.1 448.0,331.6 448.6,331.8 449.2,331.8 449.8,332.0 450.4,332.2 451.0,332.5 451.6,332.3 452.2,332.7 452.8,332.3 453.4,332.6 454.0,332.7 454.6,332.5 455.2,332.5" stroke="#E76BF3" stroke-width="0.85" fill="none" stroke-linejoin="round"/>
<polyline points="302.2,332.5 302.8,330.1 303.4,328.5 304.0,327.0 304.6,325.6 305.2,325.0 305.8,324.1 306.4,323.4 307.0,323.1 307.6,322.6 308.2,321.8 308.8,321.4 309.4,321.8 310.0,321.5 310.6,321.6 311.2,321.6 311.8,322.0 312.4,322.4 313.0,321.8 313.6,322.5 314.2,322.1 314.8,322.0 315.4,322.5 316.0,322.7 316.6,322.3 317.2,322.3 317.8,323.0 318.4,322.8 319.0,322.0 319.6,322.7 320.2,322.6 320.8,322.8 321.4,323.0 322.0,323.0 322.6,323.1 323.2,323.8 323.8,323.0 324.4,323.5 325.0,323.7 325.6,323.3 326.2,323.5 326.8,323.6 327.4,324.2 328.0,323.9 328.6,324.4 329.2,324.1 329.8,324.2 330.4,324.7 331.0,324.9 331.6,324.5 332.2,324.7 332.8,325.2 333.4,325.0 334.0,325.1 334.6,325.3 335.2,325.8 335.8,325.2 336.4,326.4 337.0,326.5 337.6,326.6 338.2,326.4 338.8,326.5 339.4,326.9 340.0,326.7 340.6,327.7 341.2,327.2 341.8,327.8 342.4,327.9 343.0,327.7 343.6,328.0 344.2,328.0 344.8,328.4 345.4,328.7 346.0,328.8 346.6,328.9 347.2,329.2 347.8,329.7 348.4,329.8 349.0,329.9 349.6,329.9 350.2,330.2 350.8,330.6 351.4,330.7 352.0,330.8 352.6,331.6 353.2,331.5 353.8,331.8 354.4,331.8 355.0,332.3 355.6,332.7 356.2,332.8 356.8,332.6 357.4,333.1 358.0,333.7 358.6,333.8 359.2,334.3 359.8,334.2 360.4,334.5 361.0,335.0 361.6,335.0 362.2,335.5 362.8,335.1 363.4,335.6 364.0,336.3 364.6,336.5 365.2,336.8 365.8,337.1 366.4,337.4 367.0,337.2 367.6,338.1 368.2,338.2 368.8,338.0 369.4,338.2 370.0,338.9 370.6,338.9 371.2,339.5 371.8,339.5 372.4,339.5 373.0,339.9 373.6,340.3 374.2,340.7 374.8,341.1 375.4,341.0 376.0,341.6 376.6,341.6 377.2,341.9 377.8,341.6 378.4,342.3 379.0,342.3 379.6,343.1 380.2,343.4 380.8,343.5 381.4,344.1 382.0,343.9 382.6,344.2 383.2,344.2 383.8,344.5 384.4,344.4 385.0,344.8 385.6,345.4 386.2,345.3 386.8,345.4 387.4,345.7 388.0,346.1 388.6,346.5 389.2,346.0 389.8,346.6 390.4,346.7 391.0,346.9 391.6,347.2 392.2,347.5 392.8,347.9 393.4,347.4 394.0,347.7 394.6,348.3 395.2,348.1 395.8,348.8 396.4,348.7 397.0,349.0 397.6,349.0 398.2,349.3 398.8,350.4 399.4,349.8 400.0,350.5 400.6,350.3 401.2,350.7 401.8,350.5 402.4,351.1 403.0,351.0 403.6,350.7 404.2,350.9 404.8,351.7 405.4,352.1 406.0,352.0 406.6,352.1 407.2,352.4 407.8,353.2 408.4,352.5 409.0,353.3 409.6,353.6 410.2,353.2 410.8,353.5 411.4,353.8 412.0,354.0 412.6,354.6 413.2,354.5 413.8,354.6 414.4,355.0 415.0,355.4 415.6,355.2 416.2,355.3 416.8,355.9 417.4,356.3 418.0,356.5 418.6,356.5 419.2,356.4 419.8,356.9 420.4,357.0 421.0,357.2 421.6,357.2 422.2,357.7 422.8,357.8 423.4,357.4 424.0,358.1 424.6,357.8 425.2,358.2 425.8,358.3 426.4,358.6 427.0,358.5 427.6,358.7 428.2,358.8 428.8,358.9 429.4,358.8 430.0,359.4 430.6,359.3 431.2,359.6 431.8,359.7 432.4,359.9 433.0,360.1 433.6,359.7 434.2,360.1 434.8,360.2 435.4,360.0 436.0,360.1 436.6,360.4 437.2,360.6 437.8,360.4 438.4,360.3 439.0,360.2 439.6,360.5 440.2,359.9 440.8,360.0 441.4,360.5 442.0,359.6 442.6,359.4 443.2,359.0 443.8,358.8 444.4,359.6 445.0,359.0 445.6,358.6 446.2,358.5 446.8,358.2 447.4,358.3 448.0,357.8 448.6,357.8 449.2,357.4 449.8,356.3 450.4,355.2 451.0,354.0 451.6,352.9 452.2,350.7 452.8,349.0 453.4,346.6 454.0,342.4 454.6,337.9 455.2,332.5" stroke="#00B0F6" stroke-width="0.85" fill="none" stroke-linejoin="round"/>
<polyline points="302.2,332.5 302.8,332.2 303.4,331.8 304.0,332.0 304.6,331.2 305.2,331.1 305.8,330.4 306.4,331.1 307.0,330.8 307.6,330.2 308.2,330.1 308.8,329.9 309.4,329.8 310.0,328.9 310.6,328.9 311.2,329.5 311.8,329.0 312.4,328.8 313.0,328.5 313.6,328.6 314.2,328.6 314.8,328.5 315.4,327.9 316.0,328.1 316.6,328.1 317.2,328.0 317.8,327.6 318.4,327.8 319.0,327.5 319.6,327.6 320.2,327.7 320.8,327.8 321.4,327.8 322.0,327.9 322.6,327.6 323.2,327.3 323.8,327.7 324.4,327.7 325.0,327.5 325.6,327.9 326.2,328.3 326.8,328.6 327.4,328.4 328.0,328.2 328.6,328.6 329.2,328.4 329.8,328.9 330.4,328.3 331.0,328.8 331.6,328.5 332.2,328.7 332.8,328.4 333.4,328.7 334.0,328.6 334.6,328.5 335.2,328.3 335.8,328.4 336.4,328.1 337.0,328.7 337.6,328.5 338.2,329.0 338.8,328.2 339.4,329.0 340.0,328.7 340.6,328.5 341.2,328.8 341.8,328.4 342.4,328.5 343.0,329.2 343.6,328.5 344.2,329.1 344.8,329.5 345.4,329.3 346.0,329.7 346.6,329.4 347.2,329.4 347.8,330.0 348.4,330.1 349.0,330.0 349.6,330.5 350.2,330.0 350.8,330.7 351.4,330.6 352.0,330.9 352.6,331.1 353.2,331.3 353.8,331.6 354.4,332.0 355.0,332.2 355.6,332.1 356.2,332.3 356.8,332.3 357.4,333.1 358.0,333.2 358.6,333.0 359.2,333.4 359.8,333.9 360.4,333.6 361.0,334.0 361.6,334.1 362.2,334.2 362.8,334.5 363.4,334.2 364.0,335.1 364.6,334.9 365.2,335.2 365.8,335.0 366.4,336.1 367.0,335.9 367.6,335.4 368.2,335.9 368.8,336.2 369.4,336.2 370.0,336.3 370.6,336.5 371.2,336.8 371.8,337.2 372.4,337.4 373.0,337.8 373.6,337.7 374.2,337.3 374.8,338.0 375.4,338.5 376.0,338.1 376.6,338.7 377.2,338.9 377.8,338.7 378.4,339.1 379.0,339.1 379.6,339.9 380.2,339.9 380.8,339.9 381.4,340.2 382.0,340.4 382.6,340.2 383.2,340.3 383.8,340.4 384.4,340.7 385.0,341.4 385.6,341.6 386.2,341.9 386.8,341.4 387.4,341.9 388.0,342.4 388.6,342.7 389.2,342.4 389.8,342.5 390.4,342.7 391.0,343.1 391.6,343.3 392.2,343.6 392.8,343.4 393.4,344.0 394.0,343.6 394.6,344.2 395.2,344.5 395.8,344.6 396.4,344.6 397.0,344.6 397.6,344.8 398.2,344.9 398.8,345.0 399.4,345.1 400.0,345.8 400.6,345.4 401.2,345.7 401.8,346.4 402.4,346.3 403.0,346.8 403.6,346.9 404.2,346.8 404.8,347.2 405.4,346.7 406.0,347.2 406.6,347.8 407.2,347.6 407.8,347.7 408.4,348.4 409.0,348.1 409.6,347.6 410.2,348.4 410.8,347.6 411.4,348.5 412.0,348.5 412.6,348.4 413.2,348.5 413.8,348.7 414.4,349.6 415.0,348.7 415.6,348.9 416.2,349.2 416.8,349.3 417.4,349.9 418.0,349.7 418.6,349.6 419.2,350.0 419.8,350.0 420.4,349.9 421.0,350.0 421.6,350.1 422.2,350.2 422.8,350.2 423.4,350.3 424.0,350.7 424.6,350.1 425.2,350.6 425.8,350.7 426.4,350.5 427.0,350.5 427.6,350.8 428.2,350.4 428.8,350.6 429.4,350.5 430.0,350.3 430.6,350.2 431.2,350.3 431.8,350.3 432.4,349.5 433.0,349.9 433.6,349.4 434.2,349.2 434.8,349.2 435.4,349.0 436.0,348.3 436.6,348.8 437.2,348.0 437.8,348.0 438.4,347.6 439.0,347.3 439.6,346.8 440.2,346.5 440.8,346.0 441.4,345.6 442.0,345.6 442.6,344.9 443.2,344.6 443.8,343.9 444.4,343.5 445.0,343.2 445.6,342.3 446.2,342.6 446.8,341.6 447.4,341.1 448.0,340.6 448.6,340.2 449.2,339.8 449.8,339.3 450.4,338.3 451.0,337.6 451.6,337.2 452.2,336.6 452.8,335.7 453.4,335.5 454.0,334.1 454.6,333.2 455.2,332.5" stroke="#F8766D" stroke-width="0.85" fill="none" stroke-linejoin="round"/>
<polyline points="302.2,332.5 302.8,332.4 303.4,332.3 304.0,332.4 304.6,332.0 305.2,332.1 305.8,332.7 306.4,331.9 307.0,331.8 307.6,331.9 308.2,331.8 308.8,331.6 309.4,331.3 310.0,330.5 310.6,330.5 311.2,329.8 311.8,330.3 312.4,330.0 313.0,330.0 313.6,329.4 314.2,329.2 314.8,329.7 315.4,329.3 316.0,329.2 316.6,329.3 317.2,329.1 317.8,328.9 318.4,329.4 319.0,329.4 319.6,329.5 320.2,329.3 320.8,329.3 321.4,329.3 322.0,329.2 322.6,329.3 323.2,329.2 323.8,328.7 324.4,329.4 325.0,329.7 325.6,329.7 326.2,329.3 326.8,329.5 327.4,329.5 328.0,329.9 328.6,330.0 329.2,329.4 329.8,329.5 330.4,329.6 331.0,329.6 331.6,330.2 332.2,329.4 332.8,329.6 333.4,329.6 334.0,329.8 334.6,330.2 335.2,329.8 335.8,330.3 336.4,330.6 337.0,330.2 337.6,330.5 338.2,330.2 338.8,330.4 339.4,330.3 340.0,330.7 340.6,330.5 341.2,330.6 341.8,330.7 342.4,330.8 343.0,330.4 343.6,330.7 344.2,330.6 344.8,330.7 345.4,330.9 346.0,331.1 346.6,331.0 347.2,331.1 347.8,331.6 348.4,331.5 349.0,331.0 349.6,331.8 350.2,331.7 350.8,332.2 351.4,332.4 352.0,332.8 352.6,332.5 353.2,333.0 353.8,332.9 354.4,333.0 355.0,333.0 355.6,333.7 356.2,334.2 356.8,334.0 357.4,334.5 358.0,334.5 358.6,334.9 359.2,334.9 359.8,335.3 360.4,335.1 361.0,335.7 361.6,336.2 362.2,336.2 362.8,336.0 363.4,335.9 364.0,336.6 364.6,336.5 365.2,337.0 365.8,337.4 366.4,336.9 367.0,337.6 367.6,337.8 368.2,338.3 368.8,338.4 369.4,339.0 370.0,338.9 370.6,339.2 371.2,338.7 371.8,339.4 372.4,339.6 373.0,339.9 373.6,340.4 374.2,340.0 374.8,339.9 375.4,341.2 376.0,340.9 376.6,341.1 377.2,341.7 377.8,341.8 378.4,341.8 379.0,342.0 379.6,342.3 380.2,342.1 380.8,342.6 381.4,343.3 382.0,343.1 382.6,343.2 383.2,343.8 383.8,343.6 384.4,344.1 385.0,344.0 385.6,344.0 386.2,344.3 386.8,344.5 387.4,344.3 388.0,345.3 388.6,345.1 389.2,345.7 389.8,345.1 390.4,345.4 391.0,345.3 391.6,345.8 392.2,346.1 392.8,346.7 393.4,346.2 394.0,346.4 394.6,346.9 395.2,346.9 395.8,346.8 396.4,347.0 397.0,347.1 397.6,347.7 398.2,347.4 398.8,347.7 399.4,348.2 400.0,347.9 400.6,348.5 401.2,348.0 401.8,348.4 402.4,349.0 403.0,349.0 403.6,348.7 404.2,348.8 404.8,348.9 405.4,349.5 406.0,349.5 406.6,349.7 407.2,349.8 407.8,350.6 408.4,350.4 409.0,349.8 409.6,350.3 410.2,350.1 410.8,350.6 411.4,350.5 412.0,350.8 412.6,350.7 413.2,350.4 413.8,351.2 414.4,350.7 415.0,351.0 415.6,351.1 416.2,351.4 416.8,351.2 417.4,351.5 418.0,351.7 418.6,352.2 419.2,351.7 419.8,352.0 420.4,352.1 421.0,352.0 421.6,352.2 422.2,352.5 422.8,352.1 423.4,351.6 424.0,352.4 424.6,352.6 425.2,352.7 425.8,352.8 426.4,353.0 427.0,352.8 427.6,352.7 428.2,352.6 428.8,352.6 429.4,353.3 430.0,353.0 430.6,353.0 431.2,353.6 431.8,353.0 432.4,353.6 433.0,353.2 433.6,353.4 434.2,353.4 434.8,353.7 435.4,353.6 436.0,353.9 436.6,353.6 437.2,354.2 437.8,353.7 438.4,353.3 439.0,353.4 439.6,353.3 440.2,353.4 440.8,352.7 441.4,353.0 442.0,352.1 442.6,351.8 443.2,351.8 443.8,350.6 444.4,351.2 445.0,350.1 445.6,349.4 446.2,349.7 446.8,348.8 447.4,347.8 448.0,347.8 448.6,347.3 449.2,346.6 449.8,345.5 450.4,344.1 451.0,343.1 451.6,342.3 452.2,340.8 452.8,339.2 453.4,338.2 454.0,335.8 454.6,334.8 455.2,332.5" stroke="#00BF7D" stroke-width="0.85" fill="none" stroke-linejoin="round"/>
<polyline points="302.2,332.5 302.8,332.4 303.4,332.9 304.0,333.1 304.6,333.3 305.2,333.4 305.8,333.6 306.4,333.4 307.0,333.5 307.6,333.5 308.2,334.0 308.8,333.6 309.4,334.1 310.0,334.0 310.6,334.4 311.2,335.0 311.8,334.4 312.4,334.9 313.0,335.1 313.6,334.5 314.2,334.9 314.8,335.0 315.4,334.8 316.0,335.0 316.6,335.1 317.2,335.3 317.8,335.2 318.4,335.6 319.0,335.5 319.6,335.4 320.2,335.6 320.8,335.1 321.4,335.2 322.0,335.4 322.6,335.8 323.2,336.3 323.8,336.0 324.4,336.1 325.0,336.4 325.6,337.0 326.2,336.9 326.8,337.3 327.4,337.9 328.0,338.3 328.6,338.3 329.2,338.4 329.8,338.5 330.4,338.9 331.0,338.2 331.6,339.1 332.2,339.2 332.8,339.2 333.4,339.3 334.0,339.6 334.6,339.5 335.2,339.9 335.8,339.7 336.4,340.1 337.0,340.3 337.6,339.9 338.2,340.5 338.8,340.5 339.4,340.6 340.0,340.9 340.6,340.8 341.2,340.6 341.8,341.1 342.4,341.3 343.0,341.1 343.6,341.2 344.2,341.3 344.8,341.4 345.4,341.5 346.0,342.0 346.6,342.2 347.2,341.8 347.8,342.2 348.4,342.3 349.0,342.7 349.6,343.0 350.2,343.0 350.8,343.3 351.4,343.4 352.0,343.5 352.6,343.6 353.2,344.0 353.8,343.7 354.4,343.8 355.0,344.4 355.6,344.6 356.2,345.0 356.8,344.7 357.4,344.6 358.0,345.2 358.6,345.6 359.2,345.3 359.8,345.6 360.4,345.7 361.0,345.6 361.6,346.5 362.2,346.3 362.8,347.0 363.4,346.7 364.0,346.6 364.6,347.0 365.2,347.2 365.8,347.5 366.4,347.9 367.0,348.1 367.6,348.8 368.2,348.1 368.8,348.6 369.4,349.1 370.0,349.5 370.6,349.6 371.2,349.8 371.8,350.2 372.4,350.2 373.0,350.4 373.6,350.8 374.2,350.6 374.8,351.1 375.4,351.1 376.0,351.6 376.6,351.7 377.2,352.2 377.8,352.2 378.4,352.3 379.0,352.2 379.6,352.6 380.2,352.1 380.8,353.0 381.4,353.1 382.0,353.0 382.6,353.2 383.2,352.8 383.8,353.1 384.4,353.1 385.0,353.6 385.6,353.7 386.2,354.0 386.8,353.5 387.4,353.6 388.0,354.1 388.6,353.9 389.2,354.0 389.8,354.4 390.4,354.4 391.0,354.4 391.6,354.9 392.2,354.8 392.8,354.6 393.4,355.0 394.0,355.3 394.6,355.3 395.2,356.0 395.8,356.1 396.4,356.5 397.0,357.0 397.6,357.1 398.2,357.5 398.8,357.9 399.4,358.1 400.0,358.8 400.6,358.4 401.2,358.4 401.8,358.9 402.4,358.8 403.0,358.6 403.6,359.1 404.2,359.2 404.8,358.9 405.4,358.8 406.0,359.4 406.6,359.4 407.2,359.4 407.8,359.2 408.4,359.5 409.0,359.7 409.6,359.5 410.2,359.5 410.8,359.6 411.4,359.4 412.0,359.3 412.6,359.3 413.2,359.4 413.8,359.1 414.4,359.1 415.0,358.7 415.6,358.7 416.2,358.2 416.8,358.7 417.4,358.4 418.0,358.0 418.6,358.3 419.2,357.9 419.8,358.2 420.4,358.5 421.0,358.1 421.6,357.9 422.2,358.0 422.8,358.3 423.4,358.3 424.0,358.7 424.6,358.2 425.2,359.2 425.8,359.0 426.4,359.1 427.0,359.6 427.6,359.7 428.2,359.2 428.8,359.6 429.4,360.4 430.0,360.3 430.6,360.4 431.2,361.1 431.8,361.0 432.4,361.3 433.0,361.1 433.6,361.1 434.2,361.1 434.8,361.1 435.4,361.0 436.0,360.1 436.6,360.0 437.2,359.7 437.8,359.5 438.4,359.0 439.0,358.7 439.6,358.4 440.2,357.7 440.8,357.5 441.4,357.0 442.0,356.6 442.6,357.3 443.2,357.6 443.8,357.6 444.4,357.9 445.0,358.3 445.6,357.9 446.2,357.0 446.8,356.4 447.4,356.2 448.0,355.5 448.6,354.3 449.2,353.6 449.8,352.5 450.4,351.4 451.0,349.8 451.6,348.4 452.2,345.2 452.8,342.1 453.4,339.7 454.0,337.5 454.6,334.6 455.2,332.5" stroke="#A3A500" stroke-width="0.85" fill="none" stroke-linejoin="round"/>
<path d="M324.5 363.50v4.42M321.1 363.50v4.42M364.6 363.50v4.42M381.3 363.50v4.42M346.6 363.50v4.42M320.6 363.50v4.42M369.7 363.50v4.42M335.2 363.50v4.42M320.1 363.50v4.42M313.1 363.50v4.42M367.6 363.50v4.42M370.4 363.50v4.42M355.6 363.50v4.42M341.7 363.50v4.42M349.5 363.50v4.42M321.2 363.50v4.42M383.4 363.50v4.42M331.9 363.50v4.42M356.0 363.50v4.42M371.1 363.50v4.42M370.9 363.50v4.42M341.6 363.50v4.42M327.0 363.50v4.42M348.4 363.50v4.42M312.7 363.50v4.42M372.4 363.50v4.42M332.1 363.50v4.42M373.8 363.50v4.42M324.7 363.50v4.42M333.9 363.50v4.42M323.6 363.50v4.42M338.1 363.50v4.42M399.2 363.50v4.42M386.6 363.50v4.42M436.1 363.50v4.42M405.8 363.50v4.42M403.3 363.50v4.42M407.2 363.50v4.42M419.4 363.50v4.42M415.9 363.50v4.42M430.3 363.50v4.42M431.8 363.50v4.42M411.4 363.50v4.42M450.4 363.50v4.42M445.3 363.50v4.42M390.3 363.50v4.42M443.4 363.50v4.42M448.8 363.50v4.42M440.4 363.50v4.42M396.1 363.50v4.42M443.7 363.50v4.42M430.0 363.50v4.42M387.4 363.50v4.42M387.2 363.50v4.42M452.0 363.50v4.42M431.6 363.50v4.42M403.6 363.50v4.42M393.4 363.50v4.42M396.2 363.50v4.42M402.5 363.50v4.42M439.9 363.50v4.42M410.3 363.50v4.42M396.9 363.50v4.42M448.7 363.50v4.42M440.9 363.50v4.42M398.0 363.50v4.42M447.8 363.50v4.42M428.3 363.50v4.42M440.2 363.50v4.42M432.5 363.50v4.42M448.0 363.50v4.42M440.7 363.50v4.42M444.2 363.50v4.42M400.0 363.50v4.42M434.1 363.50v4.42M423.0 363.50v4.42M437.5 363.50v4.42M416.6 363.50v4.42M447.2 363.50v4.42M424.6 363.50v4.42M404.6 363.50v4.42M402.5 363.50v4.42M396.0 363.50v4.42M420.4 363.50v4.42M390.4 363.50v4.42M418.6 363.50v4.42M396.4 363.50v4.42M420.3 363.50v4.42" stroke="#A3A500" stroke-width="0.45" stroke-opacity="0.8" fill="none"/>
<path d="M380.8 367.92v4.42M386.9 367.92v4.42M434.9 367.92v4.42M307.8 367.92v4.42M431.7 367.92v4.42M376.3 367.92v4.42M390.3 367.92v4.42M405.6 367.92v4.42M431.6 367.92v4.42M362.5 367.92v4.42M369.0 367.92v4.42M449.5 367.92v4.42M318.0 367.92v4.42M401.4 367.92v4.42M401.3 367.92v4.42M311.0 367.92v4.42M397.3 367.92v4.42M408.2 367.92v4.42M445.1 367.92v4.42M355.9 367.92v4.42M452.6 367.92v4.42M382.6 367.92v4.42M378.8 367.92v4.42M440.1 367.92v4.42M311.8 367.92v4.42M413.4 367.92v4.42M399.7 367.92v4.42M357.1 367.92v4.42M434.8 367.92v4.42M361.2 367.92v4.42M377.3 367.92v4.42M384.8 367.92v4.42M421.2 367.92v4.42M338.1 367.92v4.42M371.4 367.92v4.42M369.5 367.92v4.42M389.1 367.92v4.42M429.6 367.92v4.42M350.3 367.92v4.42M429.7 367.92v4.42M366.7 367.92v4.42M381.6 367.92v4.42M347.1 367.92v4.42M382.0 367.92v4.42M451.6 367.92v4.42M404.0 367.92v4.42M424.4 367.92v4.42M355.9 367.92v4.42M353.9 367.92v4.42M351.2 367.92v4.42M393.9 367.92v4.42M401.1 367.92v4.42M423.3 367.92v4.42M312.7 367.92v4.42M414.1 367.92v4.42M438.3 367.92v4.42M387.8 367.92v4.42M314.2 367.92v4.42M351.4 367.92v4.42M307.7 367.92v4.42M335.0 367.92v4.42M443.6 367.92v4.42M397.2 367.92v4.42M404.5 367.92v4.42M424.0 367.92v4.42M441.9 367.92v4.42M397.6 367.92v4.42M398.4 367.92v4.42M399.9 367.92v4.42M410.2 367.92v4.42M395.3 367.92v4.42M407.9 367.92v4.42M338.4 367.92v4.42M405.8 367.92v4.42M374.8 367.92v4.42M420.1 367.92v4.42M321.8 367.92v4.42M333.7 367.92v4.42M312.3 367.92v4.42M421.8 367.92v4.42M442.5 367.92v4.42M404.2 367.92v4.42M361.6 367.92v4.42M429.0 367.92v4.42M423.6 367.92v4.42M390.3 367.92v4.42M345.1 367.92v4.42M351.6 367.92v4.42M369.4 367.92v4.42M354.1 367.92v4.42M370.8 367.92v4.42M402.1 367.92v4.42M445.5 367.92v4.42M314.9 367.92v4.42M391.1 367.92v4.42M312.6 367.92v4.42M324.4 367.92v4.42M427.1 367.92v4.42M392.2 367.92v4.42M443.2 367.92v4.42M373.1 367.92v4.42M308.9 367.92v4.42M364.3 367.92v4.42M394.7 367.92v4.42" stroke="#00BF7D" stroke-width="0.45" stroke-opacity="0.8" fill="none"/>
<path d="M445.8 372.34v4.42M452.4 372.34v4.42M375.0 372.34v4.42M365.3 372.34v4.42M317.8 372.34v4.42M400.9 372.34v4.42M334.7 372.34v4.42M325.4 372.34v4.42M304.6 372.34v4.42M302.9 372.34v4.42M406.9 372.34v4.42M320.8 372.34v4.42M450.1 372.34v4.42M315.7 372.34v4.42M435.3 372.34v4.42M321.9 372.34v4.42M304.9 372.34v4.42M412.3 372.34v4.42M339.3 372.34v4.42M414.5 372.34v4.42M330.9 372.34v4.42M309.9 372.34v4.42M420.7 372.34v4.42M411.4 372.34v4.42M433.2 372.34v4.42M413.9 372.34v4.42M315.1 372.34v4.42M398.4 372.34v4.42M410.8 372.34v4.42M372.7 372.34v4.42M444.9 372.34v4.42M341.1 372.34v4.42M449.8 372.34v4.42M412.0 372.34v4.42M303.9 372.34v4.42M304.5 372.34v4.42M401.8 372.34v4.42M427.3 372.34v4.42M314.4 372.34v4.42M349.8 372.34v4.42M413.9 372.34v4.42M327.6 372.34v4.42M434.0 372.34v4.42M376.7 372.34v4.42M311.4 372.34v4.42M358.5 372.34v4.42M390.2 372.34v4.42M369.4 372.34v4.42M405.8 372.34v4.42M324.4 372.34v4.42M424.3 372.34v4.42M357.8 372.34v4.42M400.9 372.34v4.42M398.6 372.34v4.42M366.2 372.34v4.42M361.3 372.34v4.42M422.6 372.34v4.42M446.9 372.34v4.42M422.3 372.34v4.42M389.0 372.34v4.42M347.0 372.34v4.42M311.5 372.34v4.42M451.3 372.34v4.42M409.9 372.34v4.42M428.9 372.34v4.42M353.0 372.34v4.42M395.0 372.34v4.42M451.8 372.34v4.42M429.5 372.34v4.42M394.2 372.34v4.42M349.4 372.34v4.42M367.8 372.34v4.42M438.2 372.34v4.42M359.9 372.34v4.42M407.0 372.34v4.42M394.3 372.34v4.42M439.4 372.34v4.42M425.8 372.34v4.42M345.6 372.34v4.42M302.5 372.34v4.42M342.5 372.34v4.42M366.9 372.34v4.42M392.0 372.34v4.42M427.1 372.34v4.42M438.1 372.34v4.42M308.7 372.34v4.42M429.8 372.34v4.42M426.5 372.34v4.42M435.0 372.34v4.42M389.8 372.34v4.42M344.1 372.34v4.42M432.5 372.34v4.42M425.8 372.34v4.42M407.0 372.34v4.42M442.1 372.34v4.42M355.3 372.34v4.42M315.2 372.34v4.42M387.0 372.34v4.42M424.3 372.34v4.42M332.9 372.34v4.42M417.1 372.34v4.42M444.8 372.34v4.42M338.0 372.34v4.42M395.1 372.34v4.42M406.0 372.34v4.42M373.4 372.34v4.42M333.8 372.34v4.42M341.2 372.34v4.42M417.2 372.34v4.42M423.4 372.34v4.42M372.6 372.34v4.42M315.6 372.34v4.42M425.7 372.34v4.42M420.4 372.34v4.42M337.9 372.34v4.42M390.9 372.34v4.42M439.5 372.34v4.42M437.7 372.34v4.42M382.1 372.34v4.42M375.2 372.34v4.42" stroke="#F8766D" stroke-width="0.45" stroke-opacity="0.8" fill="none"/>
<path d="M329.3 376.76v4.42M310.9 376.76v4.42M311.0 376.76v4.42M310.5 376.76v4.42M334.4 376.76v4.42M318.9 376.76v4.42M328.1 376.76v4.42M320.7 376.76v4.42M326.0 376.76v4.42M309.0 376.76v4.42M304.2 376.76v4.42M348.0 376.76v4.42M319.4 376.76v4.42M307.1 376.76v4.42M331.3 376.76v4.42M338.4 376.76v4.42M309.4 376.76v4.42M329.6 376.76v4.42M318.0 376.76v4.42M326.1 376.76v4.42M303.1 376.76v4.42M303.7 376.76v4.42M347.7 376.76v4.42M342.0 376.76v4.42M324.5 376.76v4.42M328.3 376.76v4.42M314.2 376.76v4.42M338.0 376.76v4.42M321.8 376.76v4.42M345.7 376.76v4.42M337.4 376.76v4.42M339.8 376.76v4.42M346.5 376.76v4.42M313.9 376.76v4.42M303.9 376.76v4.42M311.4 376.76v4.42M310.5 376.76v4.42M306.0 376.76v4.42M304.5 376.76v4.42M327.8 376.76v4.42M441.4 376.76v4.42M397.2 376.76v4.42M449.6 376.76v4.42M445.6 376.76v4.42M355.0 376.76v4.42M412.2 376.76v4.42M390.7 376.76v4.42M361.0 376.76v4.42M450.9 376.76v4.42M375.7 376.76v4.42M408.6 376.76v4.42M416.8 376.76v4.42M450.6 376.76v4.42M419.9 376.76v4.42M390.3 376.76v4.42M396.2 376.76v4.42M365.2 376.76v4.42M451.6 376.76v4.42M454.4 376.76v4.42M371.9 376.76v4.42M352.3 376.76v4.42M375.6 376.76v4.42M385.9 376.76v4.42M444.9 376.76v4.42M445.1 376.76v4.42M437.9 376.76v4.42M353.2 376.76v4.42M432.4 376.76v4.42M424.2 376.76v4.42M417.4 376.76v4.42M453.7 376.76v4.42M354.1 376.76v4.42M363.6 376.76v4.42M429.0 376.76v4.42M448.8 376.76v4.42M420.7 376.76v4.42M380.2 376.76v4.42M411.5 376.76v4.42M429.4 376.76v4.42M359.4 376.76v4.42M382.8 376.76v4.42M375.7 376.76v4.42M361.4 376.76v4.42M399.7 376.76v4.42M366.2 376.76v4.42M373.7 376.76v4.42M363.5 376.76v4.42M420.8 376.76v4.42" stroke="#00B0F6" stroke-width="0.45" stroke-opacity="0.8" fill="none"/>
<path d="M303.0 381.18v4.42M346.1 381.18v4.42M314.1 381.18v4.42M304.4 381.18v4.42M359.0 381.18v4.42M315.7 381.18v4.42M359.4 381.18v4.42M355.3 381.18v4.42M356.6 381.18v4.42M310.8 381.18v4.42M329.6 381.18v4.42M308.1 381.18v4.42M359.1 381.18v4.42M353.8 381.18v4.42M340.7 381.18v4.42M329.9 381.18v4.42M323.0 381.18v4.42M352.6 381.18v4.42M331.4 381.18v4.42M340.7 381.18v4.42M310.9 381.18v4.42M315.8 381.18v4.42M305.7 381.18v4.42M345.9 381.18v4.42M414.3 381.18v4.42M376.7 381.18v4.42M443.4 381.18v4.42M387.9 381.18v4.42M401.3 381.18v4.42M377.7 381.18v4.42M388.3 381.18v4.42M440.6 381.18v4.42M394.2 381.18v4.42M378.9 381.18v4.42M408.5 381.18v4.42M392.7 381.18v4.42M446.4 381.18v4.42M373.9 381.18v4.42M453.3 381.18v4.42M368.7 381.18v4.42M445.7 381.18v4.42M424.8 381.18v4.42M382.8 381.18v4.42M407.3 381.18v4.42" stroke="#E76BF3" stroke-width="0.45" stroke-opacity="0.8" fill="none"/>
<path d="M302.2 298V386H455.3" stroke="#9a9a9a" stroke-width="0.7" fill="none"/>
<text x="302.3" y="294.3" font-family='"Liberation Sans", sans-serif' font-size="7.6" fill="#000" text-anchor="start" stroke="#000" stroke-width="0.08" textLength="16.2" lengthAdjust="spacingAndGlyphs">Cold</text>
<g font-family='"Liberation Sans", sans-serif' font-size="4.5" fill="#1a1a1a" stroke="#1a1a1a" stroke-width="0.1" text-anchor="end">
<text x="300.8" y="300.6">0.6</text>
<text x="300.8" y="316.9">0.3</text>
<text x="300.8" y="333.9">0.0</text>
<text x="300.8" y="350.9">-0.3</text>
</g>
<g font-family='"Liberation Sans", sans-serif' font-size="5.2" fill="#1a1a1a" stroke="#1a1a1a" stroke-width="0.08" text-anchor="middle">
<text x="358.5" y="391.6">5,000</text><text x="415.0" y="391.6">10,000</text>
</g>
<text transform="translate(287.6,343.1) rotate(-90)" font-family='"Liberation Sans", sans-serif' font-size="5.8" fill="#2a2a2a" stroke="#2a2a2a" stroke-width="0.1" text-anchor="middle" textLength="74" lengthAdjust="spacing">Running enrichment score</text>
<path d="M330.25 401V490.5M358.50 401V490.5M386.75 401V490.5M415.00 401V490.5M443.25 401V490.5" stroke="#ebebeb" stroke-width="0.5" fill="none"/>
<polyline points="302.2,431.9 302.8,424.4 303.4,419.0 304.0,415.5 304.6,413.4 305.2,411.3 305.8,410.4 306.4,409.4 307.0,408.0 307.6,408.0 308.2,407.4 308.8,405.8 309.4,405.9 310.0,405.2 310.6,404.9 311.2,404.9 311.8,404.6 312.4,404.4 313.0,404.3 313.6,404.0 314.2,404.1 314.8,403.7 315.4,404.1 316.0,404.4 316.6,403.9 317.2,403.9 317.8,404.4 318.4,403.7 319.0,404.4 319.6,404.3 320.2,404.6 320.8,404.7 321.4,405.1 322.0,405.7 322.6,405.3 323.2,405.6 323.8,406.1 324.4,406.1 325.0,406.3 325.6,406.2 326.2,406.3 326.8,406.4 327.4,406.6 328.0,406.5 328.6,406.4 329.2,407.0 329.8,407.4 330.4,407.3 331.0,407.9 331.6,408.1 332.2,407.9 332.8,408.0 333.4,408.4 334.0,408.3 334.6,408.5 335.2,408.5 335.8,408.7 336.4,409.2 337.0,409.1 337.6,409.5 338.2,409.5 338.8,409.7 339.4,409.9 340.0,409.4 340.6,410.0 341.2,410.4 341.8,410.8 342.4,410.7 343.0,411.4 343.6,411.2 344.2,411.1 344.8,410.9 345.4,411.3 346.0,411.5 346.6,411.7 347.2,411.9 347.8,411.6 348.4,412.2 349.0,412.2 349.6,412.2 350.2,412.2 350.8,412.7 351.4,412.6 352.0,412.3 352.6,413.0 353.2,413.1 353.8,412.9 354.4,413.6 355.0,413.5 355.6,413.8 356.2,413.5 356.8,413.9 357.4,414.2 358.0,414.5 358.6,414.3 359.2,413.9 359.8,414.8 360.4,414.9 361.0,415.4 361.6,415.0 362.2,415.5 362.8,415.2 363.4,415.9 364.0,415.9 364.6,416.2 365.2,416.4 365.8,416.5 366.4,417.2 367.0,417.3 367.6,417.2 368.2,417.2 368.8,417.5 369.4,418.2 370.0,418.1 370.6,418.2 371.2,418.4 371.8,419.1 372.4,419.1 373.0,419.0 373.6,419.9 374.2,419.8 374.8,419.6 375.4,419.9 376.0,420.5 376.6,420.4 377.2,420.7 377.8,421.5 378.4,421.8 379.0,422.0 379.6,421.8 380.2,422.0 380.8,421.9 381.4,422.1 382.0,422.6 382.6,422.9 383.2,423.3 383.8,423.5 384.4,423.6 385.0,423.9 385.6,424.0 386.2,424.5 386.8,424.1 387.4,425.1 388.0,425.0 388.6,424.7 389.2,425.4 389.8,425.9 390.4,425.6 391.0,426.1 391.6,426.1 392.2,426.7 392.8,426.6 393.4,426.6 394.0,427.0 394.6,427.2 395.2,427.3 395.8,427.4 396.4,427.3 397.0,427.9 397.6,427.6 398.2,428.0 398.8,428.4 399.4,428.9 400.0,429.0 400.6,428.5 401.2,429.4 401.8,428.8 402.4,429.5 403.0,429.7 403.6,430.0 404.2,430.0 404.8,430.4 405.4,430.1 406.0,430.4 406.6,430.8 407.2,430.6 407.8,430.8 408.4,431.1 409.0,430.8 409.6,431.3 410.2,431.2 410.8,432.0 411.4,432.1 412.0,432.1 412.6,432.6 413.2,432.2 413.8,432.2 414.4,432.5 415.0,432.6 415.6,432.6 416.2,432.9 416.8,432.6 417.4,432.8 418.0,433.2 418.6,433.0 419.2,433.7 419.8,433.6 420.4,433.5 421.0,434.0 421.6,433.9 422.2,434.4 422.8,434.0 423.4,434.0 424.0,434.4 424.6,434.2 425.2,434.8 425.8,434.7 426.4,433.9 427.0,434.9 427.6,435.0 428.2,434.8 428.8,435.1 429.4,435.2 430.0,434.9 430.6,435.6 431.2,435.6 431.8,435.5 432.4,435.7 433.0,435.9 433.6,436.3 434.2,436.3 434.8,436.2 435.4,436.4 436.0,436.5 436.6,437.0 437.2,437.0 437.8,437.1 438.4,437.9 439.0,438.1 439.6,438.0 440.2,438.7 440.8,438.9 441.4,439.2 442.0,439.5 442.6,439.4 443.2,439.5 443.8,439.5 444.4,440.0 445.0,440.0 445.6,439.7 446.2,440.1 446.8,440.2 447.4,439.9 448.0,439.3 448.6,439.0 449.2,438.1 449.8,437.2 450.4,437.2 451.0,435.8 451.6,435.6 452.2,435.3 452.8,434.0 453.9,432.6" stroke="#00B0F6" stroke-width="0.85" fill="none" stroke-linejoin="round"/>
<polyline points="302.2,431.9 302.8,428.9 303.4,426.5 304.0,424.2 304.6,422.7 305.2,421.0 305.8,419.4 306.4,418.8 307.0,417.5 307.6,415.9 308.2,415.4 308.8,415.0 309.4,415.1 310.0,414.2 310.6,414.1 311.2,413.7 311.8,413.7 312.4,413.0 313.0,412.9 313.6,412.4 314.2,412.4 314.8,411.8 315.4,411.5 316.0,410.9 316.6,410.7 317.2,410.7 317.8,410.6 318.4,409.9 319.0,409.9 319.6,409.4 320.2,409.9 320.8,409.1 321.4,409.4 322.0,409.3 322.6,408.9 323.2,408.7 323.8,408.9 324.4,409.1 325.0,408.5 325.6,408.6 326.2,408.0 326.8,408.5 327.4,408.2 328.0,408.3 328.6,408.3 329.2,408.1 329.8,408.4 330.4,408.4 331.0,408.4 331.6,408.1 332.2,408.0 332.8,408.3 333.4,408.4 334.0,408.0 334.6,408.2 335.2,408.2 335.8,408.5 336.4,408.3 337.0,407.9 337.6,408.7 338.2,408.9 338.8,408.8 339.4,409.0 340.0,409.0 340.6,408.8 341.2,409.4 341.8,409.4 342.4,409.4 343.0,410.2 343.6,410.1 344.2,409.6 344.8,410.7 345.4,410.7 346.0,410.7 346.6,410.9 347.2,411.3 347.8,411.5 348.4,411.6 349.0,411.9 349.6,411.6 350.2,412.3 350.8,412.7 351.4,412.2 352.0,412.4 352.6,412.6 353.2,412.9 353.8,412.4 354.4,413.1 355.0,412.9 355.6,413.1 356.2,413.4 356.8,413.6 357.4,413.5 358.0,413.8 358.6,414.1 359.2,414.0 359.8,414.5 360.4,414.2 361.0,413.9 361.6,414.6 362.2,414.7 362.8,414.9 363.4,414.7 364.0,414.9 364.6,415.3 365.2,415.6 365.8,415.7 366.4,416.2 367.0,416.2 367.6,416.3 368.2,416.4 368.8,416.3 369.4,416.9 370.0,416.9 370.6,417.3 371.2,417.8 371.8,417.5 372.4,418.2 373.0,417.8 373.6,418.0 374.2,418.0 374.8,418.5 375.4,418.2 376.0,418.9 376.6,419.2 377.2,419.4 377.8,419.5 378.4,419.8 379.0,420.0 379.6,420.0 380.2,420.3 380.8,420.3 381.4,420.6 382.0,421.2 382.6,420.8 383.2,421.5 383.8,421.7 384.4,421.3 385.0,421.5 385.6,422.0 386.2,422.4 386.8,422.5 387.4,422.9 388.0,422.9 388.6,422.8 389.2,423.5 389.8,423.8 390.4,423.7 391.0,423.9 391.6,423.9 392.2,424.6 392.8,425.0 393.4,424.8 394.0,424.6 394.6,424.8 395.2,425.3 395.8,425.2 396.4,425.5 397.0,425.5 397.6,426.0 398.2,425.9 398.8,426.6 399.4,426.9 400.0,427.1 400.6,426.5 401.2,427.3 401.8,427.3 402.4,427.5 403.0,427.6 403.6,427.8 404.2,427.9 404.8,428.0 405.4,428.1 406.0,428.1 406.6,428.7 407.2,428.5 407.8,428.6 408.4,429.1 409.0,429.1 409.6,429.1 410.2,429.2 410.8,428.9 411.4,429.2 412.0,429.5 412.6,429.7 413.2,429.9 413.8,429.6 414.4,429.9 415.0,430.1 415.6,430.4 416.2,430.1 416.8,430.2 417.4,430.1 418.0,430.5 418.6,430.7 419.2,431.0 419.8,430.8 420.4,431.1 421.0,431.0 421.6,431.2 422.2,430.9 422.8,431.7 423.4,431.3 424.0,431.8 424.6,431.7 425.2,431.6 425.8,431.6 426.4,432.0 427.0,431.8 427.6,431.8 428.2,431.9 428.8,432.0 429.4,432.1 430.0,432.8 430.6,432.5 431.2,432.9 431.8,432.8 432.4,432.8 433.0,432.8 433.6,432.8 434.2,433.2 434.8,433.2 435.4,433.3 436.0,433.4 436.6,433.7 437.2,433.5 437.8,433.4 438.4,433.7 439.0,433.6 439.6,434.2 440.2,434.6 440.8,434.3 441.4,434.7 442.0,435.1 442.6,434.6 443.2,434.9 443.8,435.0 444.4,435.3 445.0,435.0 445.6,434.7 446.2,434.6 446.8,434.5 447.4,434.5 448.0,434.6 448.6,434.5 449.2,434.0 449.8,434.1 450.4,433.4 451.0,433.6 451.6,433.8 452.2,433.2 452.8,432.9 453.9,432.6" stroke="#F8766D" stroke-width="0.85" fill="none" stroke-linejoin="round"/>
<polyline points="302.2,431.9 302.8,431.2 303.4,431.5 304.0,430.6 304.6,430.7 305.2,430.1 305.8,430.1 306.4,430.5 307.0,430.1 307.6,430.0 308.2,430.5 308.8,430.6 309.4,430.5 310.0,431.0 310.6,431.3 311.2,431.3 311.8,431.8 312.4,431.4 313.0,432.0 313.6,431.8 314.2,431.6 314.8,431.7 315.4,431.8 316.0,431.8 316.6,432.5 317.2,432.1 317.8,432.5 318.4,432.8 319.0,432.8 319.6,433.2 320.2,432.8 320.8,433.0 321.4,433.6 322.0,433.7 322.6,433.6 323.2,433.5 323.8,433.7 324.4,434.2 325.0,434.6 325.6,434.2 326.2,434.4 326.8,434.4 327.4,435.0 328.0,434.8 328.6,435.0 329.2,434.7 329.8,435.2 330.4,435.0 331.0,435.0 331.6,434.7 332.2,434.5 332.8,434.7 333.4,434.7 334.0,434.8 334.6,434.8 335.2,434.1 335.8,433.9 336.4,434.6 337.0,434.2 337.6,434.1 338.2,434.4 338.8,434.2 339.4,434.3 340.0,434.5 340.6,434.5 341.2,434.8 341.8,435.0 342.4,435.5 343.0,435.6 343.6,436.4 344.2,436.5 344.8,436.6 345.4,437.1 346.0,437.1 346.6,437.4 347.2,437.5 347.8,437.2 348.4,438.0 349.0,438.1 349.6,437.9 350.2,438.8 350.8,438.0 351.4,438.7 352.0,438.5 352.6,438.7 353.2,439.0 353.8,439.2 354.4,439.3 355.0,438.9 355.6,439.6 356.2,439.3 356.8,439.6 357.4,439.8 358.0,439.5 358.6,440.3 359.2,440.1 359.8,440.0 360.4,440.3 361.0,440.3 361.6,440.5 362.2,441.0 362.8,441.2 363.4,441.6 364.0,442.0 364.6,441.8 365.2,441.1 365.8,442.1 366.4,442.2 367.0,442.4 367.6,442.7 368.2,442.7 368.8,443.0 369.4,443.2 370.0,443.7 370.6,443.2 371.2,443.3 371.8,443.7 372.4,444.5 373.0,443.6 373.6,444.2 374.2,444.2 374.8,444.6 375.4,444.9 376.0,444.8 376.6,445.5 377.2,445.9 377.8,445.5 378.4,446.0 379.0,445.8 379.6,445.9 380.2,446.6 380.8,446.8 381.4,446.6 382.0,447.2 382.6,447.6 383.2,447.4 383.8,447.3 384.4,448.0 385.0,448.4 385.6,448.4 386.2,448.8 386.8,448.7 387.4,449.1 388.0,449.2 388.6,449.6 389.2,449.9 389.8,449.9 390.4,450.1 391.0,449.9 391.6,450.0 392.2,450.5 392.8,450.8 393.4,450.9 394.0,451.1 394.6,451.2 395.2,451.3 395.8,451.4 396.4,451.7 397.0,452.0 397.6,451.9 398.2,451.7 398.8,452.1 399.4,452.2 400.0,452.6 400.6,452.9 401.2,452.1 401.8,452.7 402.4,452.8 403.0,453.6 403.6,452.9 404.2,453.3 404.8,453.6 405.4,453.1 406.0,453.1 406.6,453.1 407.2,453.0 407.8,452.6 408.4,452.7 409.0,452.3 409.6,452.0 410.2,452.3 410.8,451.4 411.4,451.7 412.0,451.2 412.6,451.0 413.2,450.7 413.8,450.8 414.4,450.8 415.0,450.3 415.6,450.7 416.2,450.1 416.8,450.5 417.4,450.5 418.0,450.9 418.6,451.2 419.2,451.0 419.8,451.3 420.4,451.2 421.0,451.5 421.6,450.7 422.2,450.6 422.8,450.9 423.4,450.4 424.0,450.7 424.6,450.6 425.2,450.1 425.8,449.9 426.4,449.9 427.0,449.7 427.6,449.3 428.2,449.2 428.8,448.4 429.4,447.9 430.0,447.1 430.6,446.0 431.2,444.5 431.8,443.6 432.4,442.8 433.0,442.2 433.6,441.5 434.2,440.3 434.8,439.6 435.4,439.3 436.0,438.1 436.6,438.4 437.2,437.6 437.8,436.9 438.4,436.9 439.0,436.3 439.6,435.8 440.2,436.3 440.8,435.6 441.4,435.5 442.0,435.4 442.6,435.1 443.2,434.9 443.8,431.8 444.4,428.7 445.0,427.7 445.6,427.7 446.2,428.0 446.8,427.4 447.4,427.8 448.0,428.1 448.6,428.3 449.2,428.2 449.8,428.4 450.4,429.1 451.0,428.8 451.6,430.0 452.2,429.9 452.8,430.8 453.9,432.6" stroke="#E76BF3" stroke-width="0.85" fill="none" stroke-linejoin="round"/>
<polyline points="302.2,431.9 302.8,432.2 303.4,432.6 304.0,432.7 304.6,433.1 305.2,433.5 305.8,433.0 306.4,433.4 307.0,433.4 307.6,432.9 308.2,433.4 308.8,432.9 309.4,432.5 310.0,432.4 310.6,432.1 311.2,431.8 311.8,431.6 312.4,431.3 313.0,431.7 313.6,431.7 314.2,431.4 314.8,431.9 315.4,432.2 316.0,431.6 316.6,432.5 317.2,432.5 317.8,432.5 318.4,432.4 319.0,433.0 319.6,432.7 320.2,433.1 320.8,433.0 321.4,433.0 322.0,433.7 322.6,434.1 323.2,433.6 323.8,434.2 324.4,434.2 325.0,434.3 325.6,434.7 326.2,435.2 326.8,435.5 327.4,435.5 328.0,435.6 328.6,435.9 329.2,435.7 329.8,436.1 330.4,436.1 331.0,436.5 331.6,436.2 332.2,436.9 332.8,436.9 333.4,437.2 334.0,437.4 334.6,437.8 335.2,437.6 335.8,437.5 336.4,438.3 337.0,438.4 337.6,438.3 338.2,438.8 338.8,439.0 339.4,438.7 340.0,438.9 340.6,439.0 341.2,439.9 341.8,439.2 342.4,439.6 343.0,440.1 343.6,440.5 344.2,440.7 344.8,440.7 345.4,440.9 346.0,441.2 346.6,441.3 347.2,441.3 347.8,441.6 348.4,441.8 349.0,442.0 349.6,442.1 350.2,442.0 350.8,442.4 351.4,442.7 352.0,442.5 352.6,442.8 353.2,443.2 353.8,443.5 354.4,443.4 355.0,443.6 355.6,443.9 356.2,443.9 356.8,444.1 357.4,443.9 358.0,444.5 358.6,445.2 359.2,444.8 359.8,445.0 360.4,445.4 361.0,445.7 361.6,446.2 362.2,445.7 362.8,446.1 363.4,445.9 364.0,446.1 364.6,446.4 365.2,446.7 365.8,447.0 366.4,447.1 367.0,447.0 367.6,447.4 368.2,447.3 368.8,447.6 369.4,447.6 370.0,448.0 370.6,448.4 371.2,449.0 371.8,448.5 372.4,449.0 373.0,449.1 373.6,449.1 374.2,449.2 374.8,449.3 375.4,449.8 376.0,449.8 376.6,450.1 377.2,450.5 377.8,450.1 378.4,451.1 379.0,450.7 379.6,451.3 380.2,451.4 380.8,451.5 381.4,451.9 382.0,452.3 382.6,452.2 383.2,452.7 383.8,453.2 384.4,453.0 385.0,453.0 385.6,453.3 386.2,453.7 386.8,454.1 387.4,453.7 388.0,454.3 388.6,454.4 389.2,455.2 389.8,454.8 390.4,455.4 391.0,455.5 391.6,455.9 392.2,456.3 392.8,455.9 393.4,455.9 394.0,456.7 394.6,456.3 395.2,456.7 395.8,457.0 396.4,456.6 397.0,457.0 397.6,457.3 398.2,457.3 398.8,458.0 399.4,457.4 400.0,458.1 400.6,457.9 401.2,458.2 401.8,458.1 402.4,458.6 403.0,458.8 403.6,458.8 404.2,458.8 404.8,458.4 405.4,459.1 406.0,458.6 406.6,459.5 407.2,459.1 407.8,459.0 408.4,459.1 409.0,459.6 409.6,459.4 410.2,459.7 410.8,459.4 411.4,460.0 412.0,460.2 412.6,459.9 413.2,459.6 413.8,459.6 414.4,459.8 415.0,460.3 415.6,459.9 416.2,459.7 416.8,460.8 417.4,460.5 418.0,460.6 418.6,460.0 419.2,460.4 419.8,460.0 420.4,460.2 421.0,460.5 421.6,460.0 422.2,460.3 422.8,460.0 423.4,460.6 424.0,460.3 424.6,460.4 425.2,460.4 425.8,460.1 426.4,460.1 427.0,460.0 427.6,459.5 428.2,460.0 428.8,460.0 429.4,459.8 430.0,459.4 430.6,459.4 431.2,458.7 431.8,458.6 432.4,457.8 433.0,457.6 433.6,457.3 434.2,456.1 434.8,455.9 435.4,455.9 436.0,455.0 436.6,454.5 437.2,454.6 437.8,454.3 438.4,453.8 439.0,454.6 439.6,454.0 440.2,453.8 440.8,453.7 441.4,453.0 442.0,452.9 442.6,452.8 443.2,452.1 443.8,451.7 444.4,451.0 445.0,450.4 445.6,450.2 446.2,449.0 446.8,448.7 447.4,447.4 448.0,445.7 448.6,444.5 449.2,443.2 449.8,442.4 450.4,440.7 451.0,439.6 451.6,438.4 452.2,436.8 452.8,435.1 453.9,432.6" stroke="#A3A500" stroke-width="0.85" fill="none" stroke-linejoin="round"/>
<polyline points="302.2,431.9 302.8,431.9 303.4,431.8 304.0,431.6 304.6,432.4 305.2,431.6 305.8,432.1 306.4,431.7 307.0,431.9 307.6,431.8 308.2,431.8 308.8,431.9 309.4,431.3 310.0,431.7 310.6,432.0 311.2,432.3 311.8,431.9 312.4,431.7 313.0,432.1 313.6,432.1 314.2,431.7 314.8,431.9 315.4,431.9 316.0,432.6 316.6,432.1 317.2,432.3 317.8,432.8 318.4,433.1 319.0,432.9 319.6,433.5 320.2,433.2 320.8,433.9 321.4,434.0 322.0,434.2 322.6,433.9 323.2,434.9 323.8,434.9 324.4,435.2 325.0,435.1 325.6,436.0 326.2,435.7 326.8,436.2 327.4,436.2 328.0,436.4 328.6,436.8 329.2,437.0 329.8,437.4 330.4,437.1 331.0,437.6 331.6,437.4 332.2,437.8 332.8,437.5 333.4,438.1 334.0,438.3 334.6,438.3 335.2,438.5 335.8,438.8 336.4,439.3 337.0,439.2 337.6,439.4 338.2,439.7 338.8,440.1 339.4,440.2 340.0,440.3 340.6,439.9 341.2,440.6 341.8,440.5 342.4,441.0 343.0,440.8 343.6,441.3 344.2,441.3 344.8,441.5 345.4,441.8 346.0,441.6 346.6,442.4 347.2,442.3 347.8,442.4 348.4,442.4 349.0,443.0 349.6,442.7 350.2,443.4 350.8,443.1 351.4,443.5 352.0,443.5 352.6,443.9 353.2,444.2 353.8,444.1 354.4,444.1 355.0,444.5 355.6,444.6 356.2,445.0 356.8,444.8 357.4,445.2 358.0,445.7 358.6,445.7 359.2,445.6 359.8,446.0 360.4,446.3 361.0,446.6 361.6,446.4 362.2,446.8 362.8,446.8 363.4,446.8 364.0,447.6 364.6,447.7 365.2,447.9 365.8,448.2 366.4,448.1 367.0,448.7 367.6,448.8 368.2,448.6 368.8,448.9 369.4,448.8 370.0,448.9 370.6,449.8 371.2,450.0 371.8,449.8 372.4,450.4 373.0,450.4 373.6,450.3 374.2,451.0 374.8,451.2 375.4,451.4 376.0,451.3 376.6,451.3 377.2,452.0 377.8,452.4 378.4,453.2 379.0,452.0 379.6,452.6 380.2,453.2 380.8,453.3 381.4,453.6 382.0,453.3 382.6,453.5 383.2,454.2 383.8,453.7 384.4,454.3 385.0,454.2 385.6,454.9 386.2,455.0 386.8,455.6 387.4,455.4 388.0,456.0 388.6,456.0 389.2,456.0 389.8,455.9 390.4,456.6 391.0,456.6 391.6,457.3 392.2,457.1 392.8,457.4 393.4,457.6 394.0,457.0 394.6,457.7 395.2,458.0 395.8,458.3 396.4,458.3 397.0,458.9 397.6,458.9 398.2,459.1 398.8,459.4 399.4,458.9 400.0,459.6 400.6,459.5 401.2,459.3 401.8,460.1 402.4,460.4 403.0,460.4 403.6,460.5 404.2,460.4 404.8,461.1 405.4,461.0 406.0,460.9 406.6,460.8 407.2,461.2 407.8,461.0 408.4,461.8 409.0,461.9 409.6,461.7 410.2,461.5 410.8,461.9 411.4,462.6 412.0,462.7 412.6,462.6 413.2,463.0 413.8,463.0 414.4,462.7 415.0,462.8 415.6,463.3 416.2,463.6 416.8,462.9 417.4,463.5 418.0,463.4 418.6,463.3 419.2,463.7 419.8,464.0 420.4,464.1 421.0,464.2 421.6,464.4 422.2,464.2 422.8,464.0 423.4,464.8 424.0,464.8 424.6,464.0 425.2,463.9 425.8,463.6 426.4,463.8 427.0,463.5 427.6,463.1 428.2,463.1 428.8,462.9 429.4,462.7 430.0,462.3 430.6,462.0 431.2,461.8 431.8,461.0 432.4,461.1 433.0,460.4 433.6,460.5 434.2,460.3 434.8,459.8 435.4,459.4 436.0,459.6 436.6,459.1 437.2,458.7 437.8,458.1 438.4,458.0 439.0,457.3 439.6,457.1 440.2,456.0 440.8,456.2 441.4,455.1 442.0,455.0 442.6,454.5 443.2,454.2 443.8,453.1 444.4,452.3 445.0,451.8 445.6,451.1 446.2,450.1 446.8,449.1 447.4,448.4 448.0,447.1 448.6,446.3 449.2,445.1 449.8,444.3 450.4,442.6 451.0,441.8 451.6,440.4 452.2,438.3 452.8,436.1 453.9,432.6" stroke="#00BF7D" stroke-width="0.85" fill="none" stroke-linejoin="round"/>
<path d="M331.5 467.50v4.52M329.1 467.50v4.52M324.2 467.50v4.52M338.3 467.50v4.52M392.5 467.50v4.52M393.1 467.50v4.52M386.8 467.50v4.52M315.2 467.50v4.52M331.8 467.50v4.52M384.3 467.50v4.52M311.7 467.50v4.52M369.6 467.50v4.52M332.2 467.50v4.52M391.4 467.50v4.52M308.1 467.50v4.52M376.6 467.50v4.52M336.3 467.50v4.52M318.9 467.50v4.52M306.9 467.50v4.52M378.8 467.50v4.52M352.3 467.50v4.52M322.8 467.50v4.52M344.4 467.50v4.52M385.7 467.50v4.52M325.6 467.50v4.52M356.2 467.50v4.52M318.7 467.50v4.52M322.3 467.50v4.52M373.4 467.50v4.52M368.3 467.50v4.52M323.8 467.50v4.52M313.6 467.50v4.52M314.3 467.50v4.52M359.4 467.50v4.52M349.6 467.50v4.52M330.5 467.50v4.52M324.6 467.50v4.52M359.7 467.50v4.52M368.0 467.50v4.52M377.0 467.50v4.52M428.7 467.50v4.52M405.6 467.50v4.52M397.3 467.50v4.52M437.8 467.50v4.52M418.1 467.50v4.52M437.1 467.50v4.52M396.6 467.50v4.52M442.5 467.50v4.52M413.6 467.50v4.52M444.4 467.50v4.52M445.8 467.50v4.52M423.2 467.50v4.52M394.2 467.50v4.52M448.5 467.50v4.52M422.2 467.50v4.52M446.2 467.50v4.52M409.4 467.50v4.52M404.6 467.50v4.52M443.8 467.50v4.52M415.6 467.50v4.52M403.2 467.50v4.52M415.8 467.50v4.52M429.4 467.50v4.52M393.6 467.50v4.52M424.8 467.50v4.52M420.3 467.50v4.52M424.6 467.50v4.52M400.6 467.50v4.52M436.7 467.50v4.52M442.9 467.50v4.52M445.8 467.50v4.52M412.8 467.50v4.52M436.5 467.50v4.52M416.4 467.50v4.52M438.9 467.50v4.52M397.0 467.50v4.52M446.3 467.50v4.52M451.2 467.50v4.52M423.3 467.50v4.52M424.4 467.50v4.52M425.5 467.50v4.52M425.9 467.50v4.52M394.5 467.50v4.52M452.0 467.50v4.52M406.9 467.50v4.52M404.4 467.50v4.52M399.5 467.50v4.52M408.5 467.50v4.52M442.9 467.50v4.52M395.1 467.50v4.52M399.1 467.50v4.52M435.7 467.50v4.52M405.1 467.50v4.52M394.4 467.50v4.52M429.7 467.50v4.52M428.3 467.50v4.52" stroke="#A3A500" stroke-width="0.45" stroke-opacity="0.8" fill="none"/>
<path d="M349.8 472.02v4.52M366.2 472.02v4.52M311.6 472.02v4.52M381.4 472.02v4.52M367.5 472.02v4.52M306.3 472.02v4.52M313.4 472.02v4.52M347.2 472.02v4.52M347.8 472.02v4.52M327.7 472.02v4.52M313.3 472.02v4.52M339.1 472.02v4.52M314.7 472.02v4.52M356.1 472.02v4.52M380.6 472.02v4.52M315.6 472.02v4.52M354.4 472.02v4.52M370.2 472.02v4.52M317.2 472.02v4.52M377.4 472.02v4.52M387.6 472.02v4.52M337.6 472.02v4.52M340.5 472.02v4.52M378.7 472.02v4.52M350.1 472.02v4.52M338.2 472.02v4.52M387.9 472.02v4.52M373.0 472.02v4.52M333.0 472.02v4.52M324.1 472.02v4.52M332.7 472.02v4.52M341.9 472.02v4.52M391.6 472.02v4.52M375.5 472.02v4.52M385.3 472.02v4.52M376.4 472.02v4.52M379.4 472.02v4.52M307.1 472.02v4.52M349.3 472.02v4.52M389.4 472.02v4.52M387.3 472.02v4.52M324.9 472.02v4.52M340.6 472.02v4.52M359.8 472.02v4.52M335.4 472.02v4.52M350.5 472.02v4.52M308.5 472.02v4.52M341.6 472.02v4.52M348.2 472.02v4.52M304.1 472.02v4.52M314.9 472.02v4.52M390.5 472.02v4.52M372.9 472.02v4.52M387.5 472.02v4.52M359.9 472.02v4.52M375.9 472.02v4.52M447.0 472.02v4.52M447.0 472.02v4.52M395.4 472.02v4.52M432.2 472.02v4.52M409.4 472.02v4.52M434.5 472.02v4.52M409.9 472.02v4.52M426.2 472.02v4.52M449.4 472.02v4.52M431.0 472.02v4.52M408.5 472.02v4.52M424.9 472.02v4.52M419.6 472.02v4.52M451.0 472.02v4.52M410.7 472.02v4.52M411.8 472.02v4.52M432.6 472.02v4.52M400.6 472.02v4.52M429.4 472.02v4.52M451.3 472.02v4.52M424.5 472.02v4.52M409.6 472.02v4.52M421.6 472.02v4.52M425.7 472.02v4.52M402.3 472.02v4.52M400.8 472.02v4.52M401.3 472.02v4.52M411.1 472.02v4.52M418.0 472.02v4.52M410.8 472.02v4.52M408.1 472.02v4.52M398.6 472.02v4.52M426.5 472.02v4.52M444.3 472.02v4.52M430.3 472.02v4.52M427.9 472.02v4.52M432.8 472.02v4.52M405.5 472.02v4.52M436.4 472.02v4.52M421.3 472.02v4.52M426.6 472.02v4.52M430.5 472.02v4.52M421.8 472.02v4.52M412.1 472.02v4.52M408.0 472.02v4.52M406.7 472.02v4.52M424.4 472.02v4.52M416.5 472.02v4.52M428.8 472.02v4.52M394.0 472.02v4.52M414.7 472.02v4.52M445.6 472.02v4.52M407.8 472.02v4.52M427.1 472.02v4.52M423.1 472.02v4.52M410.6 472.02v4.52M453.2 472.02v4.52M411.2 472.02v4.52M440.2 472.02v4.52M402.9 472.02v4.52M397.3 472.02v4.52M446.2 472.02v4.52M420.0 472.02v4.52M397.0 472.02v4.52M416.8 472.02v4.52M420.0 472.02v4.52M437.9 472.02v4.52M399.9 472.02v4.52M407.0 472.02v4.52M451.5 472.02v4.52M438.1 472.02v4.52M402.7 472.02v4.52" stroke="#00BF7D" stroke-width="0.45" stroke-opacity="0.8" fill="none"/>
<path d="M353.4 476.54v4.52M355.7 476.54v4.52M404.7 476.54v4.52M395.8 476.54v4.52M431.2 476.54v4.52M426.9 476.54v4.52M380.8 476.54v4.52M414.3 476.54v4.52M415.0 476.54v4.52M417.5 476.54v4.52M374.3 476.54v4.52M421.4 476.54v4.52M409.8 476.54v4.52M441.1 476.54v4.52M321.5 476.54v4.52M434.4 476.54v4.52M302.9 476.54v4.52M418.4 476.54v4.52M391.1 476.54v4.52M377.8 476.54v4.52M448.3 476.54v4.52M389.0 476.54v4.52M365.6 476.54v4.52M421.2 476.54v4.52M434.7 476.54v4.52M394.4 476.54v4.52M359.8 476.54v4.52M370.9 476.54v4.52M371.7 476.54v4.52M412.0 476.54v4.52M346.7 476.54v4.52M361.5 476.54v4.52M386.5 476.54v4.52M360.6 476.54v4.52M351.1 476.54v4.52M421.7 476.54v4.52M431.2 476.54v4.52M378.0 476.54v4.52M369.6 476.54v4.52M330.2 476.54v4.52M348.4 476.54v4.52M324.2 476.54v4.52M389.6 476.54v4.52M390.5 476.54v4.52M315.5 476.54v4.52M441.9 476.54v4.52M351.4 476.54v4.52M430.2 476.54v4.52M429.4 476.54v4.52M447.7 476.54v4.52M333.2 476.54v4.52M366.9 476.54v4.52M440.4 476.54v4.52M303.8 476.54v4.52M309.4 476.54v4.52M388.0 476.54v4.52M377.7 476.54v4.52M441.9 476.54v4.52M419.6 476.54v4.52M383.9 476.54v4.52M453.7 476.54v4.52M380.7 476.54v4.52M380.7 476.54v4.52M406.2 476.54v4.52M361.3 476.54v4.52M356.5 476.54v4.52M392.5 476.54v4.52M355.5 476.54v4.52M446.1 476.54v4.52M404.9 476.54v4.52M381.9 476.54v4.52M317.2 476.54v4.52M359.0 476.54v4.52M363.1 476.54v4.52M387.4 476.54v4.52M389.3 476.54v4.52M435.8 476.54v4.52M448.6 476.54v4.52M376.1 476.54v4.52M369.0 476.54v4.52M397.0 476.54v4.52M453.4 476.54v4.52M354.3 476.54v4.52M382.7 476.54v4.52M426.1 476.54v4.52M328.1 476.54v4.52M350.5 476.54v4.52M450.7 476.54v4.52M427.6 476.54v4.52M380.0 476.54v4.52M319.0 476.54v4.52M438.0 476.54v4.52M406.9 476.54v4.52M426.8 476.54v4.52M452.5 476.54v4.52M437.0 476.54v4.52M366.1 476.54v4.52M325.9 476.54v4.52M346.2 476.54v4.52M379.9 476.54v4.52M378.8 476.54v4.52M330.8 476.54v4.52M329.9 476.54v4.52M397.8 476.54v4.52M393.8 476.54v4.52M355.8 476.54v4.52M453.1 476.54v4.52M398.8 476.54v4.52M308.6 476.54v4.52M364.7 476.54v4.52M421.8 476.54v4.52M348.8 476.54v4.52" stroke="#F8766D" stroke-width="0.45" stroke-opacity="0.8" fill="none"/>
<path d="M323.2 481.06v4.52M302.3 481.06v4.52M311.4 481.06v4.52M327.8 481.06v4.52M320.0 481.06v4.52M322.5 481.06v4.52M308.2 481.06v4.52M317.3 481.06v4.52M319.0 481.06v4.52M310.3 481.06v4.52M321.8 481.06v4.52M318.3 481.06v4.52M332.5 481.06v4.52M319.6 481.06v4.52M314.7 481.06v4.52M305.9 481.06v4.52M307.0 481.06v4.52M325.3 481.06v4.52M305.4 481.06v4.52M305.2 481.06v4.52M307.4 481.06v4.52M318.1 481.06v4.52M327.2 481.06v4.52M320.8 481.06v4.52M326.7 481.06v4.52M304.1 481.06v4.52M302.6 481.06v4.52M325.6 481.06v4.52M312.0 481.06v4.52M323.9 481.06v4.52M312.9 481.06v4.52M307.3 481.06v4.52M364.9 481.06v4.52M344.6 481.06v4.52M442.3 481.06v4.52M403.3 481.06v4.52M374.9 481.06v4.52M387.2 481.06v4.52M379.4 481.06v4.52M339.2 481.06v4.52M440.7 481.06v4.52M403.3 481.06v4.52M449.1 481.06v4.52M386.0 481.06v4.52M407.9 481.06v4.52M362.8 481.06v4.52M337.9 481.06v4.52M445.6 481.06v4.52M436.4 481.06v4.52M370.8 481.06v4.52M441.7 481.06v4.52M431.6 481.06v4.52M369.4 481.06v4.52M405.7 481.06v4.52M449.1 481.06v4.52M392.7 481.06v4.52M447.9 481.06v4.52M362.1 481.06v4.52M379.9 481.06v4.52M419.8 481.06v4.52M359.4 481.06v4.52M370.1 481.06v4.52M438.9 481.06v4.52M391.4 481.06v4.52M428.8 481.06v4.52M362.1 481.06v4.52M353.6 481.06v4.52M376.1 481.06v4.52M355.2 481.06v4.52M450.5 481.06v4.52M367.9 481.06v4.52M400.8 481.06v4.52M346.5 481.06v4.52M397.4 481.06v4.52M379.4 481.06v4.52M381.5 481.06v4.52M340.5 481.06v4.52M347.5 481.06v4.52M432.8 481.06v4.52M375.2 481.06v4.52" stroke="#00B0F6" stroke-width="0.45" stroke-opacity="0.8" fill="none"/>
<path d="M356.6 485.58v4.52M349.6 485.58v4.52M361.6 485.58v4.52M355.6 485.58v4.52M329.5 485.58v4.52M410.7 485.58v4.52M369.0 485.58v4.52M345.1 485.58v4.52M416.0 485.58v4.52M336.9 485.58v4.52M359.8 485.58v4.52M432.7 485.58v4.52M341.5 485.58v4.52M382.2 485.58v4.52M432.9 485.58v4.52M428.8 485.58v4.52M345.5 485.58v4.52M370.5 485.58v4.52M418.2 485.58v4.52M373.6 485.58v4.52M448.6 485.58v4.52M351.8 485.58v4.52M447.7 485.58v4.52M390.1 485.58v4.52M354.3 485.58v4.52M383.4 485.58v4.52M341.9 485.58v4.52M416.1 485.58v4.52M358.6 485.58v4.52M441.0 485.58v4.52M400.8 485.58v4.52M372.5 485.58v4.52M356.7 485.58v4.52M403.4 485.58v4.52M352.4 485.58v4.52M437.5 485.58v4.52M340.8 485.58v4.52M391.2 485.58v4.52M395.0 485.58v4.52M359.9 485.58v4.52" stroke="#E76BF3" stroke-width="0.45" stroke-opacity="0.8" fill="none"/>
<path d="M302.2 401V490.5H454.0" stroke="#9a9a9a" stroke-width="0.7" fill="none"/>
<text x="302.3" y="397.8" font-family='"Liberation Sans", sans-serif' font-size="7.6" fill="#000" text-anchor="start" stroke="#000" stroke-width="0.08" textLength="29.6" lengthAdjust="spacingAndGlyphs">Myeloid</text>
<g font-family='"Liberation Sans", sans-serif' font-size="4.5" fill="#1a1a1a" stroke="#1a1a1a" stroke-width="0.1" text-anchor="end">
<text x="300.8" y="402.9">0.50</text>
<text x="300.8" y="418.3">0.25</text>
<text x="300.8" y="433.4">0.00</text>
<text x="300.8" y="448.7">-0.25</text>
<text x="300.8" y="464.1">-0.50</text>
</g>
<g font-family='"Liberation Sans", sans-serif' font-size="5.2" fill="#1a1a1a" stroke="#1a1a1a" stroke-width="0.08" text-anchor="middle">
<text x="358.5" y="496.1">5,000</text><text x="415.0" y="496.1">10,000</text>
</g>
<text transform="translate(287.6,445.0) rotate(-90)" font-family='"Liberation Sans", sans-serif' font-size="5.8" fill="#2a2a2a" stroke="#2a2a2a" stroke-width="0.1" text-anchor="middle" textLength="74" lengthAdjust="spacing">Running enrichment score</text>
<path d="M330.25 503.5V591.8M358.50 503.5V591.8M386.75 503.5V591.8M415.00 503.5V591.8M443.25 503.5V591.8" stroke="#ebebeb" stroke-width="0.5" fill="none"/>
<polyline points="302.2,538.2 302.8,534.7 303.4,531.2 304.0,528.5 304.6,525.3 305.2,522.5 305.8,520.2 306.4,518.9 307.0,517.3 307.6,516.2 308.2,514.9 308.8,513.7 309.4,512.9 310.0,512.7 310.6,511.9 311.2,511.3 311.8,510.8 312.4,509.9 313.0,509.9 313.6,508.9 314.2,508.7 314.8,508.3 315.4,508.0 316.0,507.5 316.6,507.9 317.2,507.1 317.8,507.6 318.4,507.3 319.0,507.2 319.6,507.0 320.2,506.8 320.8,506.6 321.4,507.1 322.0,506.6 322.6,506.4 323.2,506.8 323.8,507.0 324.4,506.1 325.0,506.4 325.6,506.4 326.2,506.2 326.8,506.1 327.4,506.5 328.0,506.4 328.6,506.6 329.2,506.1 329.8,506.1 330.4,506.2 331.0,506.4 331.6,506.5 332.2,506.3 332.8,505.9 333.4,506.3 334.0,506.9 334.6,506.4 335.2,506.8 335.8,506.7 336.4,507.0 337.0,507.2 337.6,506.7 338.2,507.2 338.8,507.7 339.4,507.3 340.0,507.4 340.6,507.7 341.2,508.0 341.8,507.6 342.4,508.3 343.0,508.2 343.6,508.3 344.2,508.5 344.8,508.5 345.4,509.0 346.0,508.8 346.6,509.1 347.2,509.1 347.8,509.4 348.4,509.5 349.0,509.3 349.6,509.9 350.2,509.6 350.8,510.2 351.4,510.2 352.0,510.1 352.6,510.5 353.2,510.6 353.8,510.9 354.4,510.7 355.0,511.4 355.6,511.3 356.2,511.7 356.8,511.5 357.4,511.6 358.0,512.0 358.6,511.8 359.2,512.1 359.8,512.8 360.4,512.5 361.0,512.8 361.6,512.6 362.2,513.3 362.8,513.0 363.4,513.2 364.0,513.7 364.6,513.5 365.2,513.5 365.8,513.9 366.4,514.4 367.0,514.4 367.6,514.8 368.2,515.0 368.8,515.2 369.4,515.6 370.0,515.4 370.6,515.9 371.2,515.7 371.8,516.3 372.4,516.4 373.0,516.6 373.6,517.3 374.2,516.8 374.8,517.1 375.4,517.3 376.0,517.5 376.6,517.6 377.2,517.8 377.8,517.8 378.4,517.8 379.0,517.8 379.6,518.4 380.2,518.4 380.8,518.4 381.4,519.3 382.0,519.3 382.6,519.3 383.2,519.1 383.8,519.6 384.4,519.8 385.0,519.9 385.6,520.5 386.2,520.6 386.8,520.2 387.4,520.8 388.0,520.5 388.6,521.2 389.2,521.4 389.8,521.8 390.4,521.0 391.0,522.2 391.6,521.7 392.2,522.3 392.8,522.1 393.4,522.5 394.0,522.8 394.6,522.8 395.2,523.2 395.8,523.1 396.4,523.2 397.0,523.4 397.6,523.4 398.2,524.0 398.8,524.0 399.4,524.7 400.0,524.4 400.6,525.0 401.2,524.3 401.8,525.2 402.4,525.4 403.0,525.8 403.6,526.1 404.2,526.0 404.8,526.5 405.4,526.2 406.0,526.3 406.6,526.9 407.2,526.8 407.8,527.2 408.4,526.9 409.0,527.2 409.6,527.5 410.2,527.6 410.8,527.9 411.4,528.6 412.0,527.9 412.6,528.5 413.2,528.2 413.8,528.0 414.4,528.1 415.0,528.3 415.6,528.2 416.2,528.7 416.8,529.1 417.4,528.4 418.0,529.0 418.6,528.9 419.2,529.6 419.8,529.7 420.4,529.6 421.0,529.6 421.6,529.6 422.2,529.8 422.8,530.3 423.4,530.2 424.0,530.3 424.6,530.8 425.2,530.5 425.8,530.7 426.4,530.7 427.0,530.5 427.6,531.1 428.2,531.2 428.8,531.8 429.4,531.5 430.0,531.8 430.6,532.4 431.2,532.5 431.8,532.9 432.4,533.3 433.0,533.4 433.6,533.9 434.2,534.7 434.8,534.6 435.4,534.8 436.0,535.2 436.6,535.2 437.2,535.7 437.8,536.0 438.4,535.8 439.0,535.9 439.6,536.3 440.2,535.9 440.8,536.7 441.4,536.3 442.0,536.2 442.6,536.7 443.2,536.6 443.8,536.6 444.4,536.8 445.0,537.1 445.6,537.3 446.2,536.8 446.8,537.3 447.4,537.2 448.0,537.4 448.6,537.7 449.2,537.7 449.8,538.0 450.4,537.5 451.0,537.8 451.6,538.0 452.2,537.8 452.8,537.8 453.4,537.7 454.6,538.2" stroke="#A3A500" stroke-width="0.85" fill="none" stroke-linejoin="round"/>
<polyline points="302.2,538.2 302.8,535.6 303.4,533.1 304.0,530.6 304.6,528.5 305.2,525.3 305.8,523.9 306.4,522.2 307.0,521.0 307.6,519.4 308.2,518.2 308.8,517.3 309.4,516.5 310.0,515.4 310.6,515.2 311.2,514.2 311.8,513.6 312.4,513.5 313.0,513.0 313.6,512.2 314.2,512.0 314.8,511.6 315.4,511.2 316.0,510.9 316.6,510.9 317.2,510.9 317.8,510.5 318.4,510.7 319.0,510.5 319.6,510.6 320.2,510.3 320.8,510.0 321.4,510.1 322.0,510.0 322.6,509.6 323.2,509.6 323.8,509.9 324.4,509.5 325.0,509.9 325.6,509.4 326.2,509.7 326.8,509.6 327.4,509.5 328.0,509.7 328.6,509.7 329.2,510.4 329.8,510.2 330.4,510.0 331.0,510.6 331.6,510.3 332.2,510.3 332.8,510.6 333.4,510.5 334.0,510.5 334.6,510.4 335.2,510.6 335.8,510.6 336.4,510.5 337.0,510.7 337.6,510.8 338.2,510.7 338.8,510.9 339.4,511.3 340.0,511.5 340.6,511.3 341.2,511.2 341.8,511.3 342.4,511.5 343.0,511.8 343.6,511.6 344.2,511.5 344.8,511.7 345.4,512.0 346.0,512.2 346.6,512.5 347.2,511.9 347.8,512.3 348.4,512.6 349.0,512.4 349.6,512.7 350.2,512.6 350.8,513.0 351.4,513.5 352.0,513.8 352.6,513.4 353.2,513.7 353.8,514.2 354.4,514.3 355.0,514.4 355.6,514.6 356.2,514.6 356.8,514.6 357.4,514.9 358.0,515.3 358.6,515.3 359.2,515.7 359.8,515.8 360.4,515.9 361.0,516.2 361.6,515.9 362.2,516.3 362.8,516.7 363.4,516.7 364.0,516.7 364.6,517.1 365.2,517.1 365.8,517.8 366.4,517.9 367.0,517.9 367.6,518.3 368.2,518.3 368.8,518.9 369.4,518.6 370.0,519.3 370.6,519.2 371.2,519.5 371.8,519.5 372.4,519.8 373.0,520.2 373.6,520.3 374.2,520.4 374.8,521.2 375.4,520.7 376.0,521.0 376.6,521.0 377.2,521.1 377.8,521.8 378.4,522.0 379.0,521.9 379.6,522.0 380.2,522.6 380.8,522.5 381.4,523.3 382.0,523.4 382.6,523.3 383.2,523.3 383.8,523.7 384.4,523.4 385.0,524.1 385.6,524.5 386.2,523.9 386.8,524.4 387.4,524.8 388.0,524.8 388.6,524.9 389.2,525.5 389.8,525.4 390.4,525.8 391.0,525.6 391.6,525.9 392.2,525.8 392.8,525.8 393.4,526.2 394.0,526.7 394.6,527.0 395.2,526.7 395.8,527.4 396.4,527.2 397.0,527.2 397.6,527.7 398.2,528.0 398.8,527.9 399.4,528.3 400.0,528.5 400.6,528.7 401.2,528.7 401.8,528.8 402.4,529.9 403.0,529.5 403.6,529.3 404.2,529.8 404.8,530.1 405.4,530.3 406.0,529.9 406.6,530.4 407.2,530.7 407.8,531.0 408.4,531.3 409.0,531.2 409.6,531.1 410.2,532.0 410.8,531.4 411.4,531.8 412.0,532.2 412.6,532.1 413.2,532.6 413.8,532.6 414.4,532.8 415.0,533.1 415.6,533.0 416.2,532.8 416.8,533.5 417.4,533.6 418.0,533.6 418.6,533.8 419.2,533.8 419.8,533.9 420.4,534.4 421.0,534.1 421.6,534.7 422.2,534.5 422.8,534.7 423.4,534.7 424.0,534.9 424.6,535.2 425.2,535.3 425.8,535.5 426.4,535.7 427.0,535.5 427.6,535.8 428.2,535.7 428.8,536.2 429.4,536.3 430.0,536.3 430.6,536.6 431.2,536.2 431.8,536.2 432.4,536.5 433.0,537.2 433.6,536.8 434.2,536.9 434.8,536.8 435.4,537.2 436.0,537.1 436.6,537.4 437.2,537.3 437.8,537.6 438.4,536.8 439.0,537.2 439.6,537.4 440.2,537.1 440.8,537.3 441.4,537.8 442.0,537.7 442.6,537.9 443.2,537.4 443.8,538.0 444.4,537.6 445.0,538.0 445.6,537.7 446.2,538.1 446.8,538.0 447.4,537.8 448.0,537.9 448.6,538.1 449.2,538.5 449.8,537.9 450.4,538.3 451.0,538.2 451.6,538.2 452.2,538.3 452.8,538.4 453.4,538.1 454.6,538.2" stroke="#00BF7D" stroke-width="0.85" fill="none" stroke-linejoin="round"/>
<polyline points="302.2,538.2 302.8,538.2 303.4,538.1 304.0,538.4 304.6,537.9 305.2,537.9 305.8,537.5 306.4,537.5 307.0,537.4 307.6,537.5 308.2,537.2 308.8,537.0 309.4,536.7 310.0,536.7 310.6,536.8 311.2,536.0 311.8,536.5 312.4,536.0 313.0,535.5 313.6,535.5 314.2,535.6 314.8,535.4 315.4,534.8 316.0,534.8 316.6,535.1 317.2,534.9 317.8,535.0 318.4,534.7 319.0,534.3 319.6,534.3 320.2,534.0 320.8,534.1 321.4,534.2 322.0,534.0 322.6,533.7 323.2,533.4 323.8,533.7 324.4,533.1 325.0,533.6 325.6,533.9 326.2,533.6 326.8,533.2 327.4,533.6 328.0,533.6 328.6,534.0 329.2,533.4 329.8,533.9 330.4,533.8 331.0,534.3 331.6,534.3 332.2,534.0 332.8,534.5 333.4,534.3 334.0,534.8 334.6,534.7 335.2,534.9 335.8,534.7 336.4,534.8 337.0,534.9 337.6,535.2 338.2,534.7 338.8,535.8 339.4,535.5 340.0,535.7 340.6,535.4 341.2,535.6 341.8,535.8 342.4,536.3 343.0,536.1 343.6,536.3 344.2,536.8 344.8,536.5 345.4,536.4 346.0,536.4 346.6,537.1 347.2,537.7 347.8,537.6 348.4,537.7 349.0,537.5 349.6,538.3 350.2,538.0 350.8,538.6 351.4,539.0 352.0,538.8 352.6,538.4 353.2,539.0 353.8,539.0 354.4,539.3 355.0,539.7 355.6,540.1 356.2,540.1 356.8,540.0 357.4,540.3 358.0,540.2 358.6,540.6 359.2,540.7 359.8,541.1 360.4,541.3 361.0,541.3 361.6,541.4 362.2,541.5 362.8,542.1 363.4,542.1 364.0,542.3 364.6,542.1 365.2,542.5 365.8,542.6 366.4,542.9 367.0,543.4 367.6,543.2 368.2,543.3 368.8,542.9 369.4,543.3 370.0,543.2 370.6,543.6 371.2,544.2 371.8,544.5 372.4,544.2 373.0,543.9 373.6,544.9 374.2,544.9 374.8,544.8 375.4,544.5 376.0,545.4 376.6,545.3 377.2,545.5 377.8,545.1 378.4,545.6 379.0,546.3 379.6,545.9 380.2,546.4 380.8,546.4 381.4,546.6 382.0,546.9 382.6,546.7 383.2,547.1 383.8,547.3 384.4,547.3 385.0,547.7 385.6,547.7 386.2,547.6 386.8,548.5 387.4,548.5 388.0,548.4 388.6,548.7 389.2,548.4 389.8,548.9 390.4,549.1 391.0,549.3 391.6,549.1 392.2,549.4 392.8,549.7 393.4,549.5 394.0,550.3 394.6,549.8 395.2,549.6 395.8,550.1 396.4,550.6 397.0,550.0 397.6,550.9 398.2,550.8 398.8,550.7 399.4,550.8 400.0,551.2 400.6,550.6 401.2,550.9 401.8,550.9 402.4,551.3 403.0,551.1 403.6,551.2 404.2,551.3 404.8,551.5 405.4,551.7 406.0,551.4 406.6,551.6 407.2,551.7 407.8,552.0 408.4,552.3 409.0,551.8 409.6,551.8 410.2,552.1 410.8,552.2 411.4,552.6 412.0,552.4 412.6,552.7 413.2,552.7 413.8,553.1 414.4,552.9 415.0,553.4 415.6,553.3 416.2,552.9 416.8,553.3 417.4,553.3 418.0,553.4 418.6,553.7 419.2,553.5 419.8,554.1 420.4,554.5 421.0,554.6 421.6,554.3 422.2,554.5 422.8,554.2 423.4,554.6 424.0,554.4 424.6,554.6 425.2,554.7 425.8,554.9 426.4,554.7 427.0,555.2 427.6,554.7 428.2,555.1 428.8,554.9 429.4,554.7 430.0,555.0 430.6,554.6 431.2,554.2 431.8,554.5 432.4,553.9 433.0,553.9 433.6,553.3 434.2,553.5 434.8,552.6 435.4,552.8 436.0,552.8 436.6,552.8 437.2,552.2 437.8,552.5 438.4,551.9 439.0,551.7 439.6,551.0 440.2,551.5 440.8,550.8 441.4,550.5 442.0,550.4 442.6,550.2 443.2,549.5 443.8,549.4 444.4,548.7 445.0,548.2 445.6,547.9 446.2,547.8 446.8,546.9 447.4,546.1 448.0,545.9 448.6,545.3 449.2,544.5 449.8,544.1 450.4,543.4 451.0,542.3 451.6,542.1 452.2,540.8 452.8,540.6 453.4,539.5 454.6,538.2" stroke="#F8766D" stroke-width="0.85" fill="none" stroke-linejoin="round"/>
<polyline points="302.2,538.2 302.8,537.7 303.4,538.1 304.0,537.5 304.6,537.5 305.2,537.3 305.8,536.4 306.4,536.9 307.0,536.4 307.6,536.4 308.2,536.2 308.8,535.8 309.4,536.0 310.0,535.6 310.6,535.6 311.2,536.3 311.8,536.0 312.4,536.4 313.0,536.7 313.6,537.0 314.2,536.8 314.8,537.0 315.4,537.6 316.0,537.4 316.6,537.8 317.2,537.9 317.8,537.9 318.4,538.2 319.0,538.3 319.6,538.3 320.2,539.0 320.8,538.9 321.4,538.7 322.0,538.9 322.6,538.8 323.2,539.3 323.8,539.2 324.4,539.6 325.0,539.5 325.6,539.6 326.2,539.8 326.8,540.2 327.4,540.5 328.0,540.6 328.6,540.6 329.2,541.0 329.8,541.1 330.4,541.7 331.0,541.4 331.6,541.5 332.2,541.8 332.8,541.8 333.4,542.1 334.0,542.1 334.6,542.0 335.2,542.9 335.8,542.3 336.4,542.7 337.0,543.3 337.6,543.6 338.2,543.5 338.8,543.5 339.4,543.8 340.0,544.0 340.6,544.1 341.2,544.2 341.8,544.6 342.4,544.6 343.0,545.0 343.6,545.1 344.2,545.2 344.8,545.9 345.4,545.4 346.0,545.6 346.6,546.4 347.2,546.3 347.8,546.4 348.4,546.4 349.0,546.3 349.6,546.8 350.2,546.4 350.8,547.6 351.4,547.5 352.0,547.3 352.6,547.6 353.2,548.2 353.8,548.1 354.4,548.7 355.0,548.7 355.6,548.8 356.2,549.3 356.8,549.3 357.4,549.4 358.0,549.3 358.6,550.3 359.2,549.8 359.8,549.9 360.4,550.2 361.0,550.4 361.6,550.7 362.2,551.1 362.8,551.0 363.4,551.3 364.0,551.3 364.6,551.5 365.2,551.9 365.8,551.3 366.4,551.3 367.0,552.2 367.6,552.1 368.2,552.2 368.8,552.9 369.4,552.8 370.0,553.1 370.6,553.3 371.2,553.3 371.8,553.8 372.4,553.7 373.0,553.8 373.6,554.1 374.2,554.7 374.8,554.5 375.4,554.8 376.0,554.7 376.6,555.0 377.2,555.0 377.8,555.5 378.4,555.6 379.0,555.7 379.6,556.3 380.2,556.0 380.8,556.4 381.4,556.7 382.0,556.5 382.6,557.0 383.2,557.0 383.8,557.3 384.4,557.8 385.0,557.3 385.6,557.3 386.2,558.1 386.8,557.6 387.4,557.9 388.0,558.3 388.6,558.5 389.2,558.6 389.8,558.6 390.4,558.8 391.0,559.1 391.6,558.8 392.2,559.3 392.8,558.6 393.4,559.5 394.0,559.8 394.6,559.5 395.2,559.7 395.8,560.1 396.4,560.4 397.0,559.8 397.6,560.3 398.2,560.4 398.8,560.1 399.4,560.5 400.0,560.7 400.6,560.9 401.2,560.9 401.8,561.2 402.4,561.4 403.0,560.7 403.6,561.1 404.2,560.7 404.8,561.0 405.4,561.0 406.0,561.4 406.6,562.0 407.2,561.1 407.8,561.7 408.4,561.5 409.0,562.0 409.6,562.0 410.2,561.7 410.8,561.8 411.4,561.7 412.0,561.9 412.6,562.5 413.2,562.7 413.8,562.7 414.4,562.5 415.0,562.9 415.6,562.5 416.2,562.8 416.8,563.3 417.4,563.4 418.0,563.4 418.6,563.6 419.2,563.5 419.8,564.2 420.4,564.2 421.0,563.8 421.6,564.4 422.2,563.7 422.8,564.6 423.4,564.9 424.0,564.6 424.6,564.9 425.2,564.7 425.8,564.9 426.4,565.6 427.0,565.5 427.6,565.6 428.2,565.4 428.8,565.5 429.4,565.9 430.0,565.7 430.6,565.9 431.2,566.2 431.8,566.9 432.4,566.1 433.0,566.6 433.6,566.5 434.2,566.9 434.8,567.0 435.4,566.6 436.0,567.4 436.6,566.6 437.2,566.6 437.8,566.7 438.4,566.9 439.0,566.5 439.6,566.5 440.2,566.2 440.8,565.4 441.4,565.1 442.0,565.3 442.6,564.8 443.2,564.7 443.8,564.5 444.4,564.2 445.0,563.9 445.6,563.4 446.2,563.0 446.8,563.1 447.4,562.4 448.0,562.0 448.6,561.7 449.2,560.9 449.8,560.3 450.4,559.5 451.0,558.5 451.6,558.0 452.2,557.0 452.8,555.5 453.4,554.6 454.0,552.3 454.6,548.7 455.2,538.2" stroke="#00B0F6" stroke-width="0.85" fill="none" stroke-linejoin="round"/>
<polyline points="302.2,538.2 302.8,538.3 303.4,538.9 304.0,538.9 304.6,538.7 305.2,538.7 305.8,539.1 306.4,539.3 307.0,538.6 307.6,539.0 308.2,538.8 308.8,538.6 309.4,538.8 310.0,538.2 310.6,538.2 311.2,537.7 311.8,537.9 312.4,537.4 313.0,537.5 313.6,537.7 314.2,537.9 314.8,538.0 315.4,537.8 316.0,538.7 316.6,539.0 317.2,539.6 317.8,539.4 318.4,539.9 319.0,540.4 319.6,540.3 320.2,540.2 320.8,540.4 321.4,540.8 322.0,541.2 322.6,541.1 323.2,541.7 323.8,541.5 324.4,542.1 325.0,542.4 325.6,542.2 326.2,542.9 326.8,542.7 327.4,542.3 328.0,543.1 328.6,543.4 329.2,543.3 329.8,543.7 330.4,544.1 331.0,543.9 331.6,544.1 332.2,544.4 332.8,544.3 333.4,544.6 334.0,544.4 334.6,544.3 335.2,544.8 335.8,544.7 336.4,544.9 337.0,545.0 337.6,545.2 338.2,544.7 338.8,545.3 339.4,545.2 340.0,545.3 340.6,546.0 341.2,545.5 341.8,546.2 342.4,545.8 343.0,546.4 343.6,546.4 344.2,546.3 344.8,546.8 345.4,545.9 346.0,546.9 346.6,546.9 347.2,547.3 347.8,547.1 348.4,547.5 349.0,547.5 349.6,547.9 350.2,548.1 350.8,547.7 351.4,548.7 352.0,548.4 352.6,549.1 353.2,548.6 353.8,548.9 354.4,549.4 355.0,549.2 355.6,549.7 356.2,549.5 356.8,549.8 357.4,549.9 358.0,550.2 358.6,550.8 359.2,550.3 359.8,550.7 360.4,550.8 361.0,551.0 361.6,551.2 362.2,551.4 362.8,551.7 363.4,552.3 364.0,551.6 364.6,552.1 365.2,552.5 365.8,552.9 366.4,552.4 367.0,553.5 367.6,553.3 368.2,553.9 368.8,553.8 369.4,553.8 370.0,553.8 370.6,554.2 371.2,554.4 371.8,554.2 372.4,554.8 373.0,554.9 373.6,555.2 374.2,555.0 374.8,555.3 375.4,555.6 376.0,556.0 376.6,555.9 377.2,555.7 377.8,556.1 378.4,556.8 379.0,556.9 379.6,556.8 380.2,557.2 380.8,557.0 381.4,557.3 382.0,557.4 382.6,558.0 383.2,557.8 383.8,557.7 384.4,558.1 385.0,558.1 385.6,558.7 386.2,558.7 386.8,558.8 387.4,558.7 388.0,559.2 388.6,559.3 389.2,558.9 389.8,559.4 390.4,559.6 391.0,559.7 391.6,559.9 392.2,560.0 392.8,560.3 393.4,560.4 394.0,560.3 394.6,560.2 395.2,560.0 395.8,560.4 396.4,560.7 397.0,561.0 397.6,561.6 398.2,561.4 398.8,561.0 399.4,561.6 400.0,561.4 400.6,561.4 401.2,561.7 401.8,562.1 402.4,561.9 403.0,562.1 403.6,562.0 404.2,561.9 404.8,562.0 405.4,562.4 406.0,561.9 406.6,562.2 407.2,562.2 407.8,562.1 408.4,561.7 409.0,561.8 409.6,561.5 410.2,561.0 410.8,561.1 411.4,561.0 412.0,561.4 412.6,560.6 413.2,560.5 413.8,560.8 414.4,560.7 415.0,560.4 415.6,560.1 416.2,559.5 416.8,560.5 417.4,560.0 418.0,560.1 418.6,559.7 419.2,559.5 419.8,559.6 420.4,559.9 421.0,559.7 421.6,560.0 422.2,559.1 422.8,559.1 423.4,559.1 424.0,559.2 424.6,559.2 425.2,558.5 425.8,558.6 426.4,558.3 427.0,558.2 427.6,558.5 428.2,558.1 428.8,558.1 429.4,558.2 430.0,557.9 430.6,558.0 431.2,557.6 431.8,557.1 432.4,556.5 433.0,556.0 433.6,555.4 434.2,554.6 434.8,553.7 435.4,553.5 436.0,553.0 436.6,553.4 437.2,552.9 437.8,552.1 438.4,552.1 439.0,552.1 439.6,551.7 440.2,551.3 440.8,550.4 441.4,551.0 442.0,550.0 442.6,549.9 443.2,549.3 443.8,548.4 444.4,547.7 445.0,547.2 445.6,546.4 446.2,545.8 446.8,545.2 447.4,545.1 448.0,544.2 448.6,543.1 449.2,542.5 449.8,542.3 450.4,541.8 451.0,541.0 451.6,539.9 452.2,540.4 452.8,539.1 453.4,539.0 454.6,538.2" stroke="#E76BF3" stroke-width="0.85" fill="none" stroke-linejoin="round"/>
<path d="M325.8 570.50v4.18M314.0 570.50v4.18M322.3 570.50v4.18M319.6 570.50v4.18M311.7 570.50v4.18M314.1 570.50v4.18M304.8 570.50v4.18M307.6 570.50v4.18M328.3 570.50v4.18M312.0 570.50v4.18M322.5 570.50v4.18M305.5 570.50v4.18M319.4 570.50v4.18M313.3 570.50v4.18M317.5 570.50v4.18M311.3 570.50v4.18M304.2 570.50v4.18M311.7 570.50v4.18M309.1 570.50v4.18M306.1 570.50v4.18M324.1 570.50v4.18M310.8 570.50v4.18M314.6 570.50v4.18M330.0 570.50v4.18M325.9 570.50v4.18M329.2 570.50v4.18M328.6 570.50v4.18M306.2 570.50v4.18M310.7 570.50v4.18M303.1 570.50v4.18M323.0 570.50v4.18M322.5 570.50v4.18M313.0 570.50v4.18M314.8 570.50v4.18M322.4 570.50v4.18M323.6 570.50v4.18M309.8 570.50v4.18M328.1 570.50v4.18M313.0 570.50v4.18M321.5 570.50v4.18M307.8 570.50v4.18M305.7 570.50v4.18M330.1 570.50v4.18M324.7 570.50v4.18M324.0 570.50v4.18M303.4 570.50v4.18M303.4 570.50v4.18M307.2 570.50v4.18M308.3 570.50v4.18M311.5 570.50v4.18M313.9 570.50v4.18M303.4 570.50v4.18M311.7 570.50v4.18M321.7 570.50v4.18M307.7 570.50v4.18M327.9 570.50v4.18M319.7 570.50v4.18M324.1 570.50v4.18M310.0 570.50v4.18M315.5 570.50v4.18M323.2 570.50v4.18M312.9 570.50v4.18M302.2 570.50v4.18M327.7 570.50v4.18M326.0 570.50v4.18M311.0 570.50v4.18M303.5 570.50v4.18M328.4 570.50v4.18M320.8 570.50v4.18M303.6 570.50v4.18M309.7 570.50v4.18M305.6 570.50v4.18M326.4 570.50v4.18M308.6 570.50v4.18M330.2 570.50v4.18M325.2 570.50v4.18M304.8 570.50v4.18M323.5 570.50v4.18M314.3 570.50v4.18M325.1 570.50v4.18M327.6 570.50v4.18M310.8 570.50v4.18M305.0 570.50v4.18M331.2 570.50v4.18M315.2 570.50v4.18M330.7 570.50v4.18M323.4 570.50v4.18M324.8 570.50v4.18M327.6 570.50v4.18M321.4 570.50v4.18M316.1 570.50v4.18M303.9 570.50v4.18M323.6 570.50v4.18M315.3 570.50v4.18M317.9 570.50v4.18M330.6 570.50v4.18M337.7 570.50v4.18M362.0 570.50v4.18M334.5 570.50v4.18M359.7 570.50v4.18M363.7 570.50v4.18M342.8 570.50v4.18M353.7 570.50v4.18M369.9 570.50v4.18M357.2 570.50v4.18M353.6 570.50v4.18M342.4 570.50v4.18M335.1 570.50v4.18M346.5 570.50v4.18M348.6 570.50v4.18M340.5 570.50v4.18M344.7 570.50v4.18M338.0 570.50v4.18M359.9 570.50v4.18M358.5 570.50v4.18M341.9 570.50v4.18M391.4 570.50v4.18M414.5 570.50v4.18M408.6 570.50v4.18M449.9 570.50v4.18M400.7 570.50v4.18M396.3 570.50v4.18M445.6 570.50v4.18M383.0 570.50v4.18M418.5 570.50v4.18M399.2 570.50v4.18M439.8 570.50v4.18M417.3 570.50v4.18M435.1 570.50v4.18M385.3 570.50v4.18M427.2 570.50v4.18M421.5 570.50v4.18M409.9 570.50v4.18M435.6 570.50v4.18M441.1 570.50v4.18M380.7 570.50v4.18" stroke="#A3A500" stroke-width="0.45" stroke-opacity="0.8" fill="none"/>
<path d="M307.5 574.68v4.18M308.8 574.68v4.18M306.0 574.68v4.18M303.3 574.68v4.18M307.4 574.68v4.18M305.8 574.68v4.18M315.1 574.68v4.18M310.4 574.68v4.18M304.3 574.68v4.18M308.2 574.68v4.18M310.8 574.68v4.18M308.9 574.68v4.18M305.3 574.68v4.18M303.5 574.68v4.18M302.4 574.68v4.18M320.4 574.68v4.18M316.0 574.68v4.18M303.7 574.68v4.18M315.4 574.68v4.18M320.2 574.68v4.18M312.6 574.68v4.18M304.2 574.68v4.18M311.2 574.68v4.18M310.2 574.68v4.18M305.7 574.68v4.18M312.2 574.68v4.18M302.4 574.68v4.18M319.1 574.68v4.18M314.0 574.68v4.18M313.7 574.68v4.18M319.4 574.68v4.18M314.2 574.68v4.18M306.8 574.68v4.18M306.7 574.68v4.18M304.7 574.68v4.18M302.7 574.68v4.18M316.4 574.68v4.18M317.6 574.68v4.18M307.6 574.68v4.18M305.6 574.68v4.18M313.9 574.68v4.18M317.7 574.68v4.18M319.2 574.68v4.18M305.3 574.68v4.18M316.6 574.68v4.18M317.5 574.68v4.18M315.8 574.68v4.18M308.2 574.68v4.18M305.6 574.68v4.18M317.4 574.68v4.18M308.1 574.68v4.18M309.0 574.68v4.18M312.3 574.68v4.18M309.0 574.68v4.18M317.5 574.68v4.18M306.6 574.68v4.18M326.1 574.68v4.18M396.9 574.68v4.18M405.2 574.68v4.18M431.0 574.68v4.18M415.6 574.68v4.18M442.5 574.68v4.18M447.9 574.68v4.18M387.2 574.68v4.18M387.9 574.68v4.18M341.8 574.68v4.18M360.9 574.68v4.18M398.9 574.68v4.18M331.4 574.68v4.18M413.3 574.68v4.18M342.6 574.68v4.18M380.3 574.68v4.18M451.2 574.68v4.18M332.7 574.68v4.18M326.0 574.68v4.18M379.8 574.68v4.18M346.3 574.68v4.18M418.0 574.68v4.18M320.9 574.68v4.18M433.9 574.68v4.18M435.8 574.68v4.18M426.6 574.68v4.18M377.9 574.68v4.18M358.7 574.68v4.18M409.7 574.68v4.18M389.9 574.68v4.18M377.3 574.68v4.18M366.2 574.68v4.18M379.7 574.68v4.18M410.3 574.68v4.18M431.9 574.68v4.18M442.4 574.68v4.18M342.7 574.68v4.18M360.4 574.68v4.18M380.3 574.68v4.18M396.5 574.68v4.18M367.5 574.68v4.18M346.9 574.68v4.18M332.0 574.68v4.18M364.2 574.68v4.18M382.6 574.68v4.18M451.4 574.68v4.18M443.0 574.68v4.18M437.2 574.68v4.18M451.8 574.68v4.18M450.2 574.68v4.18M404.1 574.68v4.18M429.9 574.68v4.18M328.7 574.68v4.18M411.7 574.68v4.18M402.6 574.68v4.18M360.6 574.68v4.18M397.5 574.68v4.18M448.9 574.68v4.18M385.3 574.68v4.18M407.8 574.68v4.18M360.9 574.68v4.18M366.8 574.68v4.18M439.8 574.68v4.18M324.3 574.68v4.18M346.0 574.68v4.18M412.0 574.68v4.18M380.8 574.68v4.18M332.1 574.68v4.18M409.6 574.68v4.18M370.7 574.68v4.18M398.8 574.68v4.18M376.7 574.68v4.18M392.0 574.68v4.18M396.7 574.68v4.18M374.0 574.68v4.18M336.0 574.68v4.18M344.9 574.68v4.18M440.5 574.68v4.18M394.4 574.68v4.18M335.7 574.68v4.18" stroke="#00BF7D" stroke-width="0.45" stroke-opacity="0.8" fill="none"/>
<path d="M434.2 578.86v4.18M341.0 578.86v4.18M316.7 578.86v4.18M383.5 578.86v4.18M340.7 578.86v4.18M377.1 578.86v4.18M387.0 578.86v4.18M336.9 578.86v4.18M389.9 578.86v4.18M319.5 578.86v4.18M380.8 578.86v4.18M392.3 578.86v4.18M314.5 578.86v4.18M364.7 578.86v4.18M313.4 578.86v4.18M369.5 578.86v4.18M434.4 578.86v4.18M386.5 578.86v4.18M411.6 578.86v4.18M418.1 578.86v4.18M319.7 578.86v4.18M453.9 578.86v4.18M412.7 578.86v4.18M317.8 578.86v4.18M429.3 578.86v4.18M362.2 578.86v4.18M328.4 578.86v4.18M449.2 578.86v4.18M388.4 578.86v4.18M420.8 578.86v4.18M323.1 578.86v4.18M421.0 578.86v4.18M311.0 578.86v4.18M338.5 578.86v4.18M359.2 578.86v4.18M304.5 578.86v4.18M393.2 578.86v4.18M334.8 578.86v4.18M348.1 578.86v4.18M410.5 578.86v4.18M367.4 578.86v4.18M438.2 578.86v4.18M397.3 578.86v4.18M435.7 578.86v4.18M388.4 578.86v4.18M442.7 578.86v4.18M435.5 578.86v4.18M327.9 578.86v4.18M416.3 578.86v4.18M354.5 578.86v4.18M419.1 578.86v4.18M406.4 578.86v4.18M428.6 578.86v4.18M321.0 578.86v4.18M359.3 578.86v4.18M415.1 578.86v4.18M447.3 578.86v4.18M412.7 578.86v4.18M308.9 578.86v4.18M394.6 578.86v4.18M317.5 578.86v4.18M386.2 578.86v4.18M425.1 578.86v4.18M319.5 578.86v4.18M443.9 578.86v4.18M405.6 578.86v4.18M341.2 578.86v4.18M331.8 578.86v4.18M370.6 578.86v4.18M430.5 578.86v4.18M391.2 578.86v4.18M319.6 578.86v4.18M305.4 578.86v4.18M319.1 578.86v4.18M424.8 578.86v4.18M330.6 578.86v4.18M387.1 578.86v4.18M346.6 578.86v4.18M407.4 578.86v4.18M360.5 578.86v4.18M324.3 578.86v4.18M436.2 578.86v4.18M384.6 578.86v4.18M407.8 578.86v4.18M425.9 578.86v4.18M447.5 578.86v4.18M304.3 578.86v4.18M354.6 578.86v4.18M325.3 578.86v4.18M379.0 578.86v4.18M435.9 578.86v4.18M424.7 578.86v4.18M307.6 578.86v4.18M330.1 578.86v4.18M427.5 578.86v4.18M406.2 578.86v4.18M362.3 578.86v4.18M375.0 578.86v4.18M326.4 578.86v4.18M431.6 578.86v4.18M362.4 578.86v4.18M435.9 578.86v4.18M395.7 578.86v4.18M313.8 578.86v4.18M352.6 578.86v4.18M335.3 578.86v4.18M439.1 578.86v4.18M392.4 578.86v4.18M308.9 578.86v4.18M328.2 578.86v4.18M357.5 578.86v4.18M373.8 578.86v4.18M390.5 578.86v4.18M361.6 578.86v4.18M356.3 578.86v4.18M303.1 578.86v4.18M390.9 578.86v4.18M353.3 578.86v4.18M305.3 578.86v4.18M372.5 578.86v4.18" stroke="#F8766D" stroke-width="0.45" stroke-opacity="0.8" fill="none"/>
<path d="M377.7 583.04v4.18M305.7 583.04v4.18M313.4 583.04v4.18M353.6 583.04v4.18M323.1 583.04v4.18M323.1 583.04v4.18M340.5 583.04v4.18M322.3 583.04v4.18M345.8 583.04v4.18M342.6 583.04v4.18M375.5 583.04v4.18M378.2 583.04v4.18M304.8 583.04v4.18M345.1 583.04v4.18M361.2 583.04v4.18M369.0 583.04v4.18M361.5 583.04v4.18M350.7 583.04v4.18M350.8 583.04v4.18M330.0 583.04v4.18M323.8 583.04v4.18M363.1 583.04v4.18M369.0 583.04v4.18M374.1 583.04v4.18M354.4 583.04v4.18M325.5 583.04v4.18M360.6 583.04v4.18M358.8 583.04v4.18M341.2 583.04v4.18M350.8 583.04v4.18M329.0 583.04v4.18M344.4 583.04v4.18M333.3 583.04v4.18M306.8 583.04v4.18M328.0 583.04v4.18M326.9 583.04v4.18M377.9 583.04v4.18M339.1 583.04v4.18M330.3 583.04v4.18M320.8 583.04v4.18M320.2 583.04v4.18M328.9 583.04v4.18M312.6 583.04v4.18M302.8 583.04v4.18M445.4 583.04v4.18M413.4 583.04v4.18M412.9 583.04v4.18M422.3 583.04v4.18M401.9 583.04v4.18M391.7 583.04v4.18M383.8 583.04v4.18M401.8 583.04v4.18M402.4 583.04v4.18M434.4 583.04v4.18M420.9 583.04v4.18M450.5 583.04v4.18M404.8 583.04v4.18M449.3 583.04v4.18M423.4 583.04v4.18M384.9 583.04v4.18M392.4 583.04v4.18M423.2 583.04v4.18M454.3 583.04v4.18M406.1 583.04v4.18M438.0 583.04v4.18M411.5 583.04v4.18M445.2 583.04v4.18M383.9 583.04v4.18M415.8 583.04v4.18M447.6 583.04v4.18M399.9 583.04v4.18M398.5 583.04v4.18M380.5 583.04v4.18M391.3 583.04v4.18M399.3 583.04v4.18M432.7 583.04v4.18M395.5 583.04v4.18M409.3 583.04v4.18M394.1 583.04v4.18M424.9 583.04v4.18M444.9 583.04v4.18M428.4 583.04v4.18M393.8 583.04v4.18M434.9 583.04v4.18M452.5 583.04v4.18M424.8 583.04v4.18M384.8 583.04v4.18M440.7 583.04v4.18M445.8 583.04v4.18M404.9 583.04v4.18M389.2 583.04v4.18M393.2 583.04v4.18M419.9 583.04v4.18M445.8 583.04v4.18M427.7 583.04v4.18M449.4 583.04v4.18M395.0 583.04v4.18M403.8 583.04v4.18M436.1 583.04v4.18M428.4 583.04v4.18M409.8 583.04v4.18M430.7 583.04v4.18M404.6 583.04v4.18M383.1 583.04v4.18M410.5 583.04v4.18M382.2 583.04v4.18M426.7 583.04v4.18M404.4 583.04v4.18M416.6 583.04v4.18M424.5 583.04v4.18M398.4 583.04v4.18M414.2 583.04v4.18M379.8 583.04v4.18M449.6 583.04v4.18M421.9 583.04v4.18M454.3 583.04v4.18" stroke="#00B0F6" stroke-width="0.45" stroke-opacity="0.8" fill="none"/>
<path d="M307.3 587.22v4.18M358.6 587.22v4.18M368.7 587.22v4.18M332.4 587.22v4.18M310.8 587.22v4.18M316.5 587.22v4.18M315.3 587.22v4.18M372.7 587.22v4.18M310.5 587.22v4.18M377.0 587.22v4.18M341.1 587.22v4.18M351.7 587.22v4.18M356.3 587.22v4.18M353.2 587.22v4.18M362.6 587.22v4.18M357.5 587.22v4.18M332.6 587.22v4.18M370.3 587.22v4.18M325.9 587.22v4.18M367.6 587.22v4.18M372.3 587.22v4.18M373.5 587.22v4.18M330.6 587.22v4.18M373.2 587.22v4.18M453.9 587.22v4.18M421.8 587.22v4.18M411.1 587.22v4.18M426.1 587.22v4.18M451.7 587.22v4.18M402.1 587.22v4.18M394.6 587.22v4.18M423.2 587.22v4.18M434.2 587.22v4.18M441.5 587.22v4.18M416.3 587.22v4.18M454.7 587.22v4.18M408.0 587.22v4.18M440.4 587.22v4.18M399.6 587.22v4.18M395.8 587.22v4.18M402.3 587.22v4.18M397.7 587.22v4.18M424.8 587.22v4.18M428.1 587.22v4.18M405.2 587.22v4.18M451.6 587.22v4.18M416.4 587.22v4.18M403.2 587.22v4.18M404.9 587.22v4.18M439.2 587.22v4.18M450.5 587.22v4.18M404.0 587.22v4.18M395.8 587.22v4.18M441.7 587.22v4.18M408.9 587.22v4.18M454.2 587.22v4.18" stroke="#E76BF3" stroke-width="0.45" stroke-opacity="0.8" fill="none"/>
<path d="M302.2 503.5V591.8H455.3" stroke="#9a9a9a" stroke-width="0.7" fill="none"/>
<text x="302.3" y="502.3" font-family='"Liberation Sans", sans-serif' font-size="7.6" fill="#000" text-anchor="start" stroke="#000" stroke-width="0.08" textLength="15.2" lengthAdjust="spacingAndGlyphs">CD8</text>
<g font-family='"Liberation Sans", sans-serif' font-size="4.5" fill="#1a1a1a" stroke="#1a1a1a" stroke-width="0.1" text-anchor="end">
<text x="300.8" y="520.3">0.4</text>
<text x="300.8" y="539.6">0.0</text>
<text x="300.8" y="558.5">-0.4</text>
</g>
<g font-family='"Liberation Sans", sans-serif' font-size="5.2" fill="#1a1a1a" stroke="#1a1a1a" stroke-width="0.08" text-anchor="middle">
<text x="358.5" y="597.4">5,000</text><text x="415.0" y="597.4">10,000</text>
</g>
<text transform="translate(287.6,547.5) rotate(-90)" font-family='"Liberation Sans", sans-serif' font-size="5.8" fill="#2a2a2a" stroke="#2a2a2a" stroke-width="0.1" text-anchor="middle" textLength="74" lengthAdjust="spacing">Running enrichment score</text>
<path d="M142.6 280.9h6.4" stroke="#F8766D" stroke-width="1.25" fill="none"/>
<text x="153.3" y="282.4" font-family='"Liberation Sans", sans-serif' font-size="4.25" fill="#111" stroke="#111" stroke-width="0.12">HALLMARK_GLYCOLYSIS</text>
<path d="M142.6 289.7h6.4" stroke="#A3A500" stroke-width="1.25" fill="none"/>
<text x="153.3" y="291.2" font-family='"Liberation Sans", sans-serif' font-size="4.25" fill="#111" stroke="#111" stroke-width="0.12">HALLMARK_INTERFERON_ALPHA_RESPONSE</text>
<path d="M142.6 298.5h6.4" stroke="#00BF7D" stroke-width="1.25" fill="none"/>
<text x="153.3" y="300.0" font-family='"Liberation Sans", sans-serif' font-size="4.25" fill="#111" stroke="#111" stroke-width="0.12">HALLMARK_INTERFERON_GAMMA_RESPONSE</text>
<path d="M142.6 307.4h6.4" stroke="#00B0F6" stroke-width="1.25" fill="none"/>
<text x="153.3" y="308.9" font-family='"Liberation Sans", sans-serif' font-size="4.25" fill="#111" stroke="#111" stroke-width="0.12">HALLMARK_KRAS_SIGNALING_DN</text>
<path d="M142.6 316.3h6.4" stroke="#E76BF3" stroke-width="1.25" fill="none"/>
<text x="153.3" y="317.8" font-family='"Liberation Sans", sans-serif' font-size="4.25" fill="#111" stroke="#111" stroke-width="0.12">HALLMARK_TGF_BETA_SIGNALING</text>
<path d="M410.8 280.9h6.4" stroke="#F8766D" stroke-width="1.25" fill="none"/>
<text x="421.3" y="282.4" font-family='"Liberation Sans", sans-serif' font-size="4.25" fill="#111" stroke="#111" stroke-width="0.12">HALLMARK_GLYCOLYSIS</text>
<path d="M410.8 289.7h6.4" stroke="#A3A500" stroke-width="1.25" fill="none"/>
<text x="421.3" y="291.2" font-family='"Liberation Sans", sans-serif' font-size="4.25" fill="#111" stroke="#111" stroke-width="0.12">HALLMARK_INTERFERON_ALPHA_RESPONSE</text>
<path d="M410.8 298.5h6.4" stroke="#00BF7D" stroke-width="1.25" fill="none"/>
<text x="421.3" y="300.0" font-family='"Liberation Sans", sans-serif' font-size="4.25" fill="#111" stroke="#111" stroke-width="0.12">HALLMARK_INTERFERON_GAMMA_RESPONSE</text>
<path d="M410.8 307.4h6.4" stroke="#00B0F6" stroke-width="1.25" fill="none"/>
<text x="421.3" y="308.9" font-family='"Liberation Sans", sans-serif' font-size="4.25" fill="#111" stroke="#111" stroke-width="0.12">HALLMARK_KRAS_SIGNALING_DN</text>
<path d="M410.8 316.3h6.4" stroke="#E76BF3" stroke-width="1.25" fill="none"/>
<text x="421.3" y="317.8" font-family='"Liberation Sans", sans-serif' font-size="4.25" fill="#111" stroke="#111" stroke-width="0.12">HALLMARK_TGF_BETA_SIGNALING</text>
</svg></body></html>
